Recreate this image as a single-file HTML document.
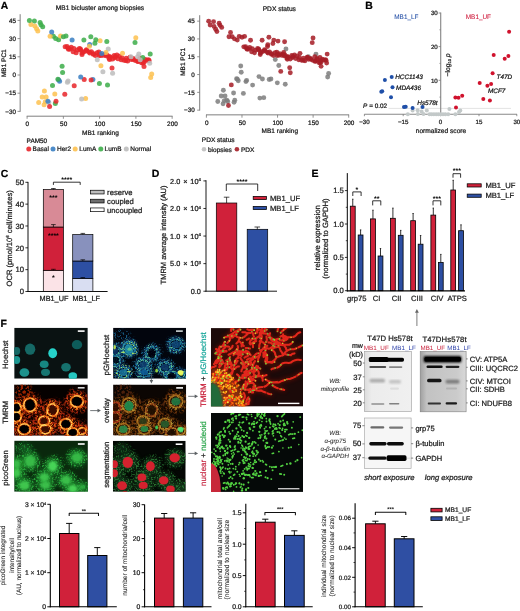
<!DOCTYPE html><html><head><meta charset="utf-8"><title>Figure</title><style>html,body{margin:0;padding:0;background:#fff}svg{display:block;font-family:"Liberation Sans",sans-serif;text-rendering:geometricPrecision}</style></head><body>
<svg width="520" height="611" viewBox="0 0 520 611">
<rect width="520" height="611" fill="#fff"/>
<text x="365.30" y="9.14" font-size="10.4" text-anchor="start" fill="#000" font-weight="bold" stroke="#000" stroke-width="0.24">B</text>
<text x="394.30" y="18.70" font-size="6.4" text-anchor="start" fill="#2b55a8" stroke="#2b55a8" stroke-width="0.08">MB1_LF</text>
<text x="465.80" y="18.90" font-size="6.4" text-anchor="start" fill="#d02040" stroke="#d02040" stroke-width="0.08">MB1_UF</text>
<line x1="388.50" y1="108.40" x2="511.00" y2="108.40" stroke="#cfcfcf" stroke-width="0.6"/>
<line x1="440.70" y1="12.50" x2="440.70" y2="114.20" stroke="#888" stroke-width="1.15"/>
<line x1="438.60" y1="13.00" x2="440.60" y2="13.00" stroke="#777777" stroke-width="0.8"/>
<text x="437.80" y="15.23" font-size="6.2" text-anchor="end" fill="#1a1a1a" stroke="#1a1a1a" stroke-width="0.24">30</text>
<line x1="438.60" y1="46.60" x2="440.60" y2="46.60" stroke="#777777" stroke-width="0.8"/>
<text x="437.80" y="48.83" font-size="6.2" text-anchor="end" fill="#1a1a1a" stroke="#1a1a1a" stroke-width="0.24">20</text>
<line x1="438.60" y1="80.30" x2="440.60" y2="80.30" stroke="#777777" stroke-width="0.8"/>
<text x="437.80" y="82.53" font-size="6.2" text-anchor="end" fill="#1a1a1a" stroke="#1a1a1a" stroke-width="0.24">10</text>
<line x1="439.40" y1="97.10" x2="440.60" y2="97.10" stroke="#777777" stroke-width="0.7"/>
<line x1="439.40" y1="63.40" x2="440.60" y2="63.40" stroke="#777777" stroke-width="0.7"/>
<line x1="439.40" y1="29.80" x2="440.60" y2="29.80" stroke="#777777" stroke-width="0.7"/>
<line x1="364.30" y1="114.20" x2="517.00" y2="114.20" stroke="#888" stroke-width="1.15"/>
<line x1="364.40" y1="114.20" x2="364.40" y2="116.20" stroke="#777777" stroke-width="0.8"/>
<text x="364.40" y="123.83" font-size="6.2" text-anchor="middle" fill="#1a1a1a" stroke="#1a1a1a" stroke-width="0.24">−30</text>
<line x1="403.20" y1="114.20" x2="403.20" y2="116.20" stroke="#777777" stroke-width="0.8"/>
<text x="403.20" y="123.83" font-size="6.2" text-anchor="middle" fill="#1a1a1a" stroke="#1a1a1a" stroke-width="0.24">−15</text>
<line x1="440.60" y1="114.20" x2="440.60" y2="116.20" stroke="#777777" stroke-width="0.8"/>
<text x="440.60" y="123.83" font-size="6.2" text-anchor="middle" fill="#1a1a1a" stroke="#1a1a1a" stroke-width="0.24">0</text>
<line x1="479.00" y1="114.20" x2="479.00" y2="116.20" stroke="#777777" stroke-width="0.8"/>
<text x="479.00" y="123.83" font-size="6.2" text-anchor="middle" fill="#1a1a1a" stroke="#1a1a1a" stroke-width="0.24">15</text>
<line x1="516.80" y1="114.20" x2="516.80" y2="116.20" stroke="#777777" stroke-width="0.8"/>
<text x="520.30" y="123.83" font-size="6.2" text-anchor="end" fill="#1a1a1a" stroke="#1a1a1a" stroke-width="0.24">30</text>
<text x="441.00" y="133.29" font-size="6.65" text-anchor="middle" fill="#1a1a1a" stroke="#1a1a1a" stroke-width="0.24">normalized score</text>
<text x="0" y="2.45" font-size="6.8" text-anchor="middle" fill="#1a1a1a" transform="translate(447.50 65.00) rotate(-90)" stroke="#1a1a1a" stroke-width="0.24">−log<tspan font-size="4" dy="1.4">10</tspan><tspan dy="-1.4"> </tspan><tspan font-style="italic">p</tspan></text>
<circle cx="412.60" cy="110.50" r="2.0" fill="#c3c9c9"/>
<circle cx="407.80" cy="114.20" r="2.0" fill="#c3c9c9"/>
<circle cx="417.60" cy="110.20" r="2.0" fill="#c3c9c9"/>
<circle cx="417.80" cy="114.00" r="2.0" fill="#c3c9c9"/>
<circle cx="421.60" cy="111.40" r="2.0" fill="#c3c9c9"/>
<circle cx="423.50" cy="114.10" r="2.0" fill="#c3c9c9"/>
<circle cx="426.80" cy="110.50" r="2.0" fill="#c3c9c9"/>
<circle cx="429.50" cy="114.20" r="2.0" fill="#c3c9c9"/>
<circle cx="449.40" cy="109.00" r="2.0" fill="#c3c9c9"/>
<circle cx="460.30" cy="110.40" r="2.0" fill="#c3c9c9"/>
<circle cx="459.00" cy="112.00" r="2.0" fill="#c3c9c9"/>
<circle cx="455.40" cy="114.20" r="2.0" fill="#c3c9c9"/>
<circle cx="448.20" cy="114.20" r="2.0" fill="#c3c9c9"/>
<circle cx="431.50" cy="114.20" r="2.0" fill="#c3c9c9"/>
<circle cx="433.80" cy="114.20" r="2.0" fill="#c3c9c9"/>
<circle cx="436.10" cy="114.20" r="2.0" fill="#c3c9c9"/>
<circle cx="438.40" cy="114.20" r="2.0" fill="#c3c9c9"/>
<circle cx="440.70" cy="114.20" r="2.0" fill="#c3c9c9"/>
<circle cx="443.00" cy="114.20" r="2.0" fill="#c3c9c9"/>
<circle cx="445.30" cy="114.20" r="2.0" fill="#c3c9c9"/>
<circle cx="391.70" cy="77.00" r="2.0" fill="#1f4fa8"/>
<circle cx="384.90" cy="79.90" r="2.0" fill="#1f4fa8"/>
<circle cx="392.50" cy="87.20" r="2.0" fill="#1f4fa8"/>
<circle cx="381.30" cy="91.70" r="2.0" fill="#1f4fa8"/>
<circle cx="382.20" cy="91.30" r="2.0" fill="#1f4fa8"/>
<circle cx="391.00" cy="97.20" r="2.0" fill="#1f4fa8"/>
<circle cx="404.00" cy="107.10" r="2.0" fill="#1f4fa8"/>
<circle cx="405.70" cy="106.70" r="2.0" fill="#1f4fa8"/>
<circle cx="412.60" cy="107.90" r="2.0" fill="#1f4fa8"/>
<circle cx="422.50" cy="107.10" r="2.0" fill="#1f4fa8"/>
<circle cx="509.10" cy="31.70" r="2.0" fill="#d0122d"/>
<circle cx="493.70" cy="55.00" r="2.0" fill="#d0122d"/>
<circle cx="504.70" cy="58.80" r="2.0" fill="#d0122d"/>
<circle cx="508.40" cy="55.90" r="2.0" fill="#d0122d"/>
<circle cx="492.60" cy="73.20" r="2.0" fill="#d0122d"/>
<circle cx="479.70" cy="83.00" r="2.0" fill="#d0122d"/>
<circle cx="487.40" cy="85.80" r="2.0" fill="#d0122d"/>
<circle cx="491.10" cy="84.10" r="2.0" fill="#d0122d"/>
<circle cx="455.40" cy="97.40" r="2.0" fill="#d0122d"/>
<circle cx="458.50" cy="97.70" r="2.0" fill="#d0122d"/>
<circle cx="462.20" cy="95.80" r="2.0" fill="#d0122d"/>
<circle cx="483.30" cy="99.10" r="2.0" fill="#d0122d"/>
<circle cx="489.90" cy="100.50" r="2.0" fill="#d0122d"/>
<circle cx="456.00" cy="107.40" r="2.0" fill="#d0122d"/>
<text x="395.20" y="79.10" font-size="6.4" text-anchor="start" fill="#1a1a1a" font-style="italic" stroke="#1a1a1a" stroke-width="0.24">HCC1143</text>
<text x="396.10" y="89.60" font-size="6.4" text-anchor="start" fill="#1a1a1a" font-style="italic" stroke="#1a1a1a" stroke-width="0.24">MDA436</text>
<text x="417.30" y="105.00" font-size="6.4" text-anchor="start" fill="#1a1a1a" font-style="italic" stroke="#1a1a1a" stroke-width="0.24">Hs578t</text>
<text x="363.10" y="108.10" font-size="6.4" text-anchor="start" fill="#1a1a1a" stroke="#1a1a1a" stroke-width="0.24"><tspan font-style="italic">P</tspan> = 0.02</text>
<text x="496.60" y="78.90" font-size="6.4" text-anchor="start" fill="#1a1a1a" font-style="italic" stroke="#1a1a1a" stroke-width="0.24">T47D</text>
<text x="488.00" y="93.30" font-size="6.4" text-anchor="start" fill="#1a1a1a" font-style="italic" stroke="#1a1a1a" stroke-width="0.24">MCF7</text>
<text x="0.80" y="9.21" font-size="10.3" text-anchor="start" fill="#000" font-weight="bold" stroke="#000" stroke-width="0.24">A</text>
<text x="100.00" y="10.49" font-size="6.63" text-anchor="middle" fill="#1a1a1a" stroke="#1a1a1a" stroke-width="0.24">MB1 bicluster among biopsies</text>
<line x1="20.15" y1="14.20" x2="20.15" y2="111.80" stroke="#777777" stroke-width="0.95"/>
<line x1="17.50" y1="20.40" x2="20.15" y2="20.40" stroke="#777777" stroke-width="0.8"/>
<text x="16.00" y="22.67" font-size="6.3" text-anchor="end" fill="#1a1a1a" stroke="#1a1a1a" stroke-width="0.24">45</text>
<line x1="17.50" y1="38.60" x2="20.15" y2="38.60" stroke="#777777" stroke-width="0.8"/>
<text x="16.00" y="40.87" font-size="6.3" text-anchor="end" fill="#1a1a1a" stroke="#1a1a1a" stroke-width="0.24">30</text>
<line x1="17.50" y1="56.80" x2="20.15" y2="56.80" stroke="#777777" stroke-width="0.8"/>
<text x="16.00" y="59.07" font-size="6.3" text-anchor="end" fill="#1a1a1a" stroke="#1a1a1a" stroke-width="0.24">15</text>
<line x1="17.50" y1="75.00" x2="20.15" y2="75.00" stroke="#777777" stroke-width="0.8"/>
<text x="16.00" y="77.27" font-size="6.3" text-anchor="end" fill="#1a1a1a" stroke="#1a1a1a" stroke-width="0.24">0</text>
<line x1="17.50" y1="93.20" x2="20.15" y2="93.20" stroke="#777777" stroke-width="0.8"/>
<text x="16.00" y="95.47" font-size="6.3" text-anchor="end" fill="#1a1a1a" stroke="#1a1a1a" stroke-width="0.24">−15</text>
<line x1="17.50" y1="111.40" x2="20.15" y2="111.40" stroke="#777777" stroke-width="0.8"/>
<text x="16.00" y="113.67" font-size="6.3" text-anchor="end" fill="#1a1a1a" stroke="#1a1a1a" stroke-width="0.24">−30</text>
<line x1="26.70" y1="116.20" x2="172.55" y2="116.20" stroke="#777777" stroke-width="0.95"/>
<line x1="27.10" y1="116.20" x2="27.10" y2="118.80" stroke="#777777" stroke-width="0.8"/>
<text x="27.40" y="126.20" font-size="6.4" text-anchor="middle" fill="#1a1a1a" stroke="#1a1a1a" stroke-width="0.24">0</text>
<line x1="63.36" y1="116.20" x2="63.36" y2="118.80" stroke="#777777" stroke-width="0.8"/>
<text x="63.66" y="126.20" font-size="6.4" text-anchor="middle" fill="#1a1a1a" stroke="#1a1a1a" stroke-width="0.24">50</text>
<line x1="99.60" y1="116.20" x2="99.60" y2="118.80" stroke="#777777" stroke-width="0.8"/>
<text x="99.90" y="126.20" font-size="6.4" text-anchor="middle" fill="#1a1a1a" stroke="#1a1a1a" stroke-width="0.24">100</text>
<line x1="135.90" y1="116.20" x2="135.90" y2="118.80" stroke="#777777" stroke-width="0.8"/>
<text x="136.20" y="126.20" font-size="6.4" text-anchor="middle" fill="#1a1a1a" stroke="#1a1a1a" stroke-width="0.24">150</text>
<line x1="172.15" y1="116.20" x2="172.15" y2="118.80" stroke="#777777" stroke-width="0.8"/>
<text x="172.45" y="126.20" font-size="6.4" text-anchor="middle" fill="#1a1a1a" stroke="#1a1a1a" stroke-width="0.24">200</text>
<text x="0" y="2.34" font-size="6.5" text-anchor="middle" fill="#1a1a1a" transform="translate(3.30 63.20) rotate(-90)" stroke="#1a1a1a" stroke-width="0.24">MB1 PC1</text>
<text x="100.40" y="134.96" font-size="6.55" text-anchor="middle" fill="#1a1a1a" stroke="#1a1a1a" stroke-width="0.24">MB1 ranking</text>
<g fill-opacity="0.86">
<circle cx="80.45" cy="49.93" r="2.5" fill="#e8262b"/>
<circle cx="44.40" cy="91.00" r="2.5" fill="#fdc150"/>
<circle cx="68.60" cy="49.15" r="2.5" fill="#e8262b"/>
<circle cx="115.34" cy="56.62" r="2.5" fill="#e8262b"/>
<circle cx="101.07" cy="55.38" r="2.5" fill="#e8262b"/>
<circle cx="64.80" cy="94.30" r="2.5" fill="#e8262b"/>
<circle cx="105.18" cy="54.14" r="2.5" fill="#e8262b"/>
<circle cx="45.30" cy="101.70" r="2.5" fill="#fdc150"/>
<circle cx="94.90" cy="43.20" r="2.5" fill="#3eae4a"/>
<circle cx="84.20" cy="79.60" r="2.5" fill="#e8262b"/>
<circle cx="82.00" cy="54.60" r="2.5" fill="#e8262b"/>
<circle cx="46.10" cy="97.00" r="2.5" fill="#fdc150"/>
<circle cx="71.23" cy="47.33" r="2.5" fill="#e8262b"/>
<circle cx="44.10" cy="104.80" r="2.5" fill="#fdc150"/>
<circle cx="109.65" cy="56.77" r="2.5" fill="#e8262b"/>
<circle cx="109.60" cy="59.40" r="2.5" fill="#e8262b"/>
<circle cx="148.41" cy="59.86" r="2.5" fill="#e8262b"/>
<circle cx="34.90" cy="25.90" r="2.5" fill="#fdc150"/>
<circle cx="65.18" cy="46.66" r="2.5" fill="#e8262b"/>
<circle cx="53.40" cy="36.30" r="2.5" fill="#3eae4a"/>
<circle cx="110.21" cy="57.07" r="2.5" fill="#e8262b"/>
<circle cx="126.20" cy="58.16" r="2.5" fill="#e8262b"/>
<circle cx="89.87" cy="53.08" r="2.5" fill="#e8262b"/>
<circle cx="48.80" cy="102.60" r="2.5" fill="#bdbdbd"/>
<circle cx="99.97" cy="54.23" r="2.5" fill="#e8262b"/>
<circle cx="89.70" cy="44.60" r="2.5" fill="#3a7fc3"/>
<circle cx="58.60" cy="39.80" r="2.5" fill="#3eae4a"/>
<circle cx="139.92" cy="58.47" r="2.5" fill="#e8262b"/>
<circle cx="69.87" cy="48.96" r="2.5" fill="#e8262b"/>
<circle cx="55.30" cy="103.40" r="2.5" fill="#3eae4a"/>
<circle cx="79.36" cy="48.44" r="2.5" fill="#e8262b"/>
<circle cx="135.46" cy="60.50" r="2.5" fill="#e8262b"/>
<circle cx="76.13" cy="52.77" r="2.5" fill="#e8262b"/>
<circle cx="107.24" cy="55.25" r="2.5" fill="#e8262b"/>
<circle cx="100.10" cy="40.80" r="2.5" fill="#fdc150"/>
<circle cx="95.80" cy="39.80" r="2.5" fill="#3eae4a"/>
<circle cx="92.90" cy="79.60" r="2.5" fill="#3a7fc3"/>
<circle cx="85.60" cy="98.60" r="2.5" fill="#fdc150"/>
<circle cx="86.39" cy="49.69" r="2.5" fill="#e8262b"/>
<circle cx="116.90" cy="55.01" r="2.5" fill="#e8262b"/>
<circle cx="135.80" cy="37.70" r="2.5" fill="#fdc150"/>
<circle cx="40.10" cy="22.50" r="2.5" fill="#3eae4a"/>
<circle cx="83.90" cy="39.90" r="2.5" fill="#3eae4a"/>
<circle cx="100.90" cy="65.70" r="2.5" fill="#fdc150"/>
<circle cx="98.86" cy="52.04" r="2.5" fill="#e8262b"/>
<circle cx="42.70" cy="26.80" r="2.5" fill="#3eae4a"/>
<circle cx="77.34" cy="50.00" r="2.5" fill="#e8262b"/>
<circle cx="68.10" cy="81.00" r="2.5" fill="#bdbdbd"/>
<circle cx="129.92" cy="57.78" r="2.5" fill="#e8262b"/>
<circle cx="124.09" cy="60.34" r="2.5" fill="#e8262b"/>
<circle cx="74.20" cy="85.80" r="2.5" fill="#e8262b"/>
<circle cx="60.50" cy="36.00" r="2.5" fill="#fdc150"/>
<circle cx="125.87" cy="60.53" r="2.5" fill="#e8262b"/>
<circle cx="102.90" cy="71.80" r="2.5" fill="#bdbdbd"/>
<circle cx="99.40" cy="83.50" r="2.5" fill="#3eae4a"/>
<circle cx="54.80" cy="93.90" r="2.5" fill="#fdc150"/>
<circle cx="86.81" cy="50.53" r="2.5" fill="#e8262b"/>
<circle cx="81.60" cy="99.10" r="2.5" fill="#bdbdbd"/>
<circle cx="59.60" cy="81.30" r="2.5" fill="#3a7fc3"/>
<circle cx="72.10" cy="39.90" r="2.5" fill="#3a7fc3"/>
<circle cx="121.20" cy="59.80" r="2.5" fill="#e8262b"/>
<circle cx="36.60" cy="28.70" r="2.5" fill="#fdc150"/>
<circle cx="34.40" cy="20.90" r="2.5" fill="#3eae4a"/>
<circle cx="109.01" cy="58.18" r="2.5" fill="#e8262b"/>
<circle cx="97.11" cy="52.67" r="2.5" fill="#e8262b"/>
<circle cx="30.90" cy="24.40" r="2.5" fill="#fdc150"/>
<circle cx="112.00" cy="68.00" r="2.5" fill="#e8262b"/>
<circle cx="55.70" cy="38.50" r="2.5" fill="#3eae4a"/>
<circle cx="133.51" cy="59.38" r="2.5" fill="#e8262b"/>
<circle cx="29.40" cy="20.40" r="2.5" fill="#3eae4a"/>
<circle cx="112.56" cy="59.03" r="2.5" fill="#e8262b"/>
<circle cx="63.40" cy="36.80" r="2.5" fill="#3eae4a"/>
<circle cx="38.70" cy="102.60" r="2.5" fill="#fdc150"/>
<circle cx="68.16" cy="48.31" r="2.5" fill="#e8262b"/>
<circle cx="56.00" cy="101.20" r="2.5" fill="#e8262b"/>
<circle cx="47.90" cy="101.20" r="2.5" fill="#3a7fc3"/>
<circle cx="66.00" cy="36.00" r="2.5" fill="#3eae4a"/>
<circle cx="133.26" cy="58.50" r="2.5" fill="#e8262b"/>
<circle cx="103.68" cy="55.29" r="2.5" fill="#e8262b"/>
<circle cx="58.60" cy="79.70" r="2.5" fill="#3a7fc3"/>
<circle cx="62.10" cy="66.20" r="2.5" fill="#3eae4a"/>
<circle cx="114.69" cy="57.63" r="2.5" fill="#e8262b"/>
<circle cx="67.07" cy="46.55" r="2.5" fill="#e8262b"/>
<circle cx="57.90" cy="79.20" r="2.5" fill="#3eae4a"/>
<circle cx="73.92" cy="48.50" r="2.5" fill="#e8262b"/>
<circle cx="146.88" cy="60.20" r="2.5" fill="#e8262b"/>
<circle cx="42.20" cy="96.90" r="2.5" fill="#fdc150"/>
<circle cx="114.18" cy="55.47" r="2.5" fill="#e8262b"/>
<circle cx="112.60" cy="73.20" r="2.5" fill="#bdbdbd"/>
<circle cx="90.80" cy="36.80" r="2.5" fill="#3eae4a"/>
<circle cx="50.10" cy="36.30" r="2.5" fill="#fdc150"/>
<circle cx="52.50" cy="85.60" r="2.5" fill="#3eae4a"/>
<circle cx="91.10" cy="80.10" r="2.5" fill="#e8262b"/>
<circle cx="95.45" cy="55.57" r="2.5" fill="#e8262b"/>
<circle cx="83.13" cy="51.95" r="2.5" fill="#e8262b"/>
<circle cx="106.80" cy="41.50" r="2.5" fill="#3eae4a"/>
<circle cx="62.60" cy="72.60" r="2.5" fill="#3eae4a"/>
<circle cx="93.33" cy="54.27" r="2.5" fill="#e8262b"/>
<circle cx="80.46" cy="49.00" r="2.5" fill="#e8262b"/>
<circle cx="137.82" cy="61.56" r="2.5" fill="#e8262b"/>
<circle cx="82.06" cy="53.04" r="2.5" fill="#e8262b"/>
<circle cx="144.00" cy="66.60" r="2.5" fill="#e8262b"/>
<circle cx="149.10" cy="60.51" r="2.5" fill="#e8262b"/>
<circle cx="150.70" cy="77.50" r="2.5" fill="#fdc150"/>
<circle cx="106.15" cy="55.82" r="2.5" fill="#e8262b"/>
<circle cx="99.15" cy="55.54" r="2.5" fill="#e8262b"/>
<circle cx="142.87" cy="62.98" r="2.5" fill="#e8262b"/>
<circle cx="121.95" cy="57.64" r="2.5" fill="#e8262b"/>
<circle cx="130.02" cy="57.36" r="2.5" fill="#e8262b"/>
<circle cx="49.60" cy="106.60" r="2.5" fill="#e8262b"/>
<circle cx="89.22" cy="52.12" r="2.5" fill="#e8262b"/>
<circle cx="67.40" cy="82.20" r="2.5" fill="#bdbdbd"/>
<circle cx="127.65" cy="60.93" r="2.5" fill="#e8262b"/>
<circle cx="73.16" cy="51.63" r="2.5" fill="#e8262b"/>
<circle cx="145.31" cy="59.43" r="2.5" fill="#e8262b"/>
<circle cx="91.42" cy="51.79" r="2.5" fill="#e8262b"/>
<circle cx="131.32" cy="59.38" r="2.5" fill="#e8262b"/>
<circle cx="138.33" cy="61.25" r="2.5" fill="#e8262b"/>
<circle cx="41.00" cy="24.70" r="2.5" fill="#3eae4a"/>
<circle cx="93.64" cy="53.64" r="2.5" fill="#e8262b"/>
<circle cx="144.09" cy="62.29" r="2.5" fill="#e8262b"/>
<circle cx="141.62" cy="62.67" r="2.5" fill="#e8262b"/>
<circle cx="135.00" cy="42.40" r="2.5" fill="#3eae4a"/>
<circle cx="107.50" cy="84.90" r="2.5" fill="#3eae4a"/>
<circle cx="80.70" cy="77.10" r="2.5" fill="#3a7fc3"/>
<circle cx="118.01" cy="58.71" r="2.5" fill="#e8262b"/>
<circle cx="37.80" cy="31.10" r="2.5" fill="#fdc150"/>
<circle cx="119.43" cy="56.14" r="2.5" fill="#e8262b"/>
<circle cx="85.25" cy="51.17" r="2.5" fill="#e8262b"/>
<circle cx="151.70" cy="74.00" r="2.5" fill="#fdc150"/>
<circle cx="143.31" cy="60.89" r="2.5" fill="#e8262b"/>
<circle cx="51.70" cy="32.00" r="2.5" fill="#3a7fc3"/>
<circle cx="122.50" cy="53.30" r="2.5" fill="#fdc150"/>
<circle cx="149.70" cy="63.30" r="2.5" fill="#bdbdbd"/>
<circle cx="108.20" cy="48.90" r="2.5" fill="#bdbdbd"/>
<circle cx="138.80" cy="54.10" r="2.5" fill="#bdbdbd"/>
<circle cx="150.20" cy="54.10" r="2.5" fill="#3eae4a"/>
<circle cx="105.90" cy="52.40" r="2.5" fill="#fdc150"/>
<circle cx="142.80" cy="57.60" r="2.5" fill="#3eae4a"/>
<circle cx="101.80" cy="53.60" r="2.5" fill="#3a7fc3"/>
<circle cx="140.20" cy="59.80" r="2.5" fill="#bdbdbd"/>
<circle cx="131.00" cy="56.70" r="2.5" fill="#bdbdbd"/>
<circle cx="89.40" cy="46.30" r="2.5" fill="#fdc150"/>
<circle cx="97.30" cy="59.70" r="2.5" fill="#bdbdbd"/>
<circle cx="137.60" cy="56.70" r="2.5" fill="#bdbdbd"/>
</g>
<text x="26.60" y="142.90" font-size="6.4" text-anchor="start" fill="#1a1a1a" stroke="#1a1a1a" stroke-width="0.24">PAM50</text>
<circle cx="28.80" cy="148.90" r="2.5" fill="#e8262b" fill-opacity="0.9"/>
<text x="32.60" y="151.34" font-size="6.5" text-anchor="start" fill="#1a1a1a" stroke="#1a1a1a" stroke-width="0.24">Basal</text>
<circle cx="53.00" cy="148.90" r="2.5" fill="#3a7fc3" fill-opacity="0.9"/>
<text x="57.00" y="151.34" font-size="6.5" text-anchor="start" fill="#1a1a1a" stroke="#1a1a1a" stroke-width="0.24">Her2</text>
<circle cx="75.20" cy="148.90" r="2.5" fill="#fdc150" fill-opacity="0.9"/>
<text x="79.30" y="151.34" font-size="6.5" text-anchor="start" fill="#1a1a1a" stroke="#1a1a1a" stroke-width="0.24">LumA</text>
<circle cx="100.80" cy="148.90" r="2.5" fill="#3eae4a" fill-opacity="0.9"/>
<text x="104.60" y="151.34" font-size="6.5" text-anchor="start" fill="#1a1a1a" stroke="#1a1a1a" stroke-width="0.24">LumB</text>
<circle cx="126.30" cy="148.90" r="2.5" fill="#bdbdbd" fill-opacity="0.9"/>
<text x="130.20" y="151.34" font-size="6.5" text-anchor="start" fill="#1a1a1a" stroke="#1a1a1a" stroke-width="0.24">Normal</text>
<text x="279.30" y="10.59" font-size="6.65" text-anchor="middle" fill="#1a1a1a" stroke="#1a1a1a" stroke-width="0.24">PDX status</text>
<line x1="199.70" y1="15.20" x2="199.70" y2="110.55" stroke="#777777" stroke-width="0.95"/>
<line x1="197.20" y1="21.15" x2="199.70" y2="21.15" stroke="#777777" stroke-width="0.8"/>
<text x="194.80" y="23.42" font-size="6.3" text-anchor="end" fill="#1a1a1a" stroke="#1a1a1a" stroke-width="0.24">45</text>
<line x1="197.20" y1="38.95" x2="199.70" y2="38.95" stroke="#777777" stroke-width="0.8"/>
<text x="194.80" y="41.22" font-size="6.3" text-anchor="end" fill="#1a1a1a" stroke="#1a1a1a" stroke-width="0.24">30</text>
<line x1="197.20" y1="56.75" x2="199.70" y2="56.75" stroke="#777777" stroke-width="0.8"/>
<text x="194.80" y="59.02" font-size="6.3" text-anchor="end" fill="#1a1a1a" stroke="#1a1a1a" stroke-width="0.24">15</text>
<line x1="197.20" y1="74.55" x2="199.70" y2="74.55" stroke="#777777" stroke-width="0.8"/>
<text x="194.80" y="76.82" font-size="6.3" text-anchor="end" fill="#1a1a1a" stroke="#1a1a1a" stroke-width="0.24">0</text>
<line x1="197.20" y1="92.35" x2="199.70" y2="92.35" stroke="#777777" stroke-width="0.8"/>
<text x="194.80" y="94.62" font-size="6.3" text-anchor="end" fill="#1a1a1a" stroke="#1a1a1a" stroke-width="0.24">−15</text>
<line x1="197.20" y1="110.15" x2="199.70" y2="110.15" stroke="#777777" stroke-width="0.8"/>
<text x="194.80" y="112.42" font-size="6.3" text-anchor="end" fill="#1a1a1a" stroke="#1a1a1a" stroke-width="0.24">−30</text>
<line x1="206.00" y1="114.85" x2="349.10" y2="114.85" stroke="#777777" stroke-width="0.95"/>
<line x1="206.40" y1="114.85" x2="206.40" y2="117.70" stroke="#777777" stroke-width="0.8"/>
<text x="206.70" y="124.80" font-size="6.4" text-anchor="middle" fill="#1a1a1a" stroke="#1a1a1a" stroke-width="0.24">0</text>
<line x1="241.98" y1="114.85" x2="241.98" y2="117.70" stroke="#777777" stroke-width="0.8"/>
<text x="242.28" y="124.80" font-size="6.4" text-anchor="middle" fill="#1a1a1a" stroke="#1a1a1a" stroke-width="0.24">50</text>
<line x1="277.55" y1="114.85" x2="277.55" y2="117.70" stroke="#777777" stroke-width="0.8"/>
<text x="277.85" y="124.80" font-size="6.4" text-anchor="middle" fill="#1a1a1a" stroke="#1a1a1a" stroke-width="0.24">100</text>
<line x1="313.12" y1="114.85" x2="313.12" y2="117.70" stroke="#777777" stroke-width="0.8"/>
<text x="313.43" y="124.80" font-size="6.4" text-anchor="middle" fill="#1a1a1a" stroke="#1a1a1a" stroke-width="0.24">150</text>
<line x1="348.70" y1="114.85" x2="348.70" y2="117.70" stroke="#777777" stroke-width="0.8"/>
<text x="349.00" y="124.80" font-size="6.4" text-anchor="middle" fill="#1a1a1a" stroke="#1a1a1a" stroke-width="0.24">200</text>
<text x="0" y="2.34" font-size="6.5" text-anchor="middle" fill="#1a1a1a" transform="translate(182.40 61.90) rotate(-90)" stroke="#1a1a1a" stroke-width="0.24">MB1 PC1</text>
<text x="279.80" y="133.14" font-size="6.5" text-anchor="middle" fill="#1a1a1a" stroke="#1a1a1a" stroke-width="0.24">MB1 ranking</text>
<g fill-opacity="0.86">
<circle cx="223.37" cy="90.20" r="2.45" fill="#7e7e7e"/>
<circle cx="243.38" cy="93.42" r="2.45" fill="#7e7e7e"/>
<circle cx="224.25" cy="100.66" r="2.45" fill="#7e7e7e"/>
<circle cx="262.42" cy="79.05" r="2.45" fill="#7e7e7e"/>
<circle cx="225.04" cy="96.06" r="2.45" fill="#7e7e7e"/>
<circle cx="223.08" cy="103.69" r="2.45" fill="#7e7e7e"/>
<circle cx="227.69" cy="101.54" r="2.45" fill="#7e7e7e"/>
<circle cx="234.06" cy="102.32" r="2.45" fill="#7e7e7e"/>
<circle cx="270.95" cy="79.05" r="2.45" fill="#7e7e7e"/>
<circle cx="263.79" cy="97.63" r="2.45" fill="#7e7e7e"/>
<circle cx="278.80" cy="65.45" r="2.45" fill="#7e7e7e"/>
<circle cx="246.62" cy="80.42" r="2.45" fill="#7e7e7e"/>
<circle cx="252.61" cy="85.11" r="2.45" fill="#7e7e7e"/>
<circle cx="277.33" cy="82.86" r="2.45" fill="#7e7e7e"/>
<circle cx="233.57" cy="93.03" r="2.45" fill="#7e7e7e"/>
<circle cx="259.86" cy="98.12" r="2.45" fill="#7e7e7e"/>
<circle cx="238.28" cy="80.71" r="2.45" fill="#7e7e7e"/>
<circle cx="217.78" cy="101.54" r="2.45" fill="#7e7e7e"/>
<circle cx="234.75" cy="100.17" r="2.45" fill="#7e7e7e"/>
<circle cx="226.80" cy="100.17" r="2.45" fill="#7e7e7e"/>
<circle cx="237.30" cy="79.15" r="2.45" fill="#7e7e7e"/>
<circle cx="240.74" cy="65.94" r="2.45" fill="#7e7e7e"/>
<circle cx="236.61" cy="78.66" r="2.45" fill="#7e7e7e"/>
<circle cx="221.21" cy="95.97" r="2.45" fill="#7e7e7e"/>
<circle cx="269.18" cy="79.54" r="2.45" fill="#7e7e7e"/>
<circle cx="241.23" cy="72.20" r="2.45" fill="#7e7e7e"/>
<circle cx="327.65" cy="76.99" r="2.45" fill="#7e7e7e"/>
<circle cx="245.93" cy="81.59" r="2.45" fill="#7e7e7e"/>
<circle cx="285.27" cy="84.23" r="2.45" fill="#7e7e7e"/>
<circle cx="258.98" cy="76.60" r="2.45" fill="#7e7e7e"/>
<circle cx="328.63" cy="73.57" r="2.45" fill="#7e7e7e"/>
<circle cx="285.96" cy="49.02" r="2.45" fill="#7e7e7e"/>
<circle cx="315.98" cy="54.11" r="2.45" fill="#7e7e7e"/>
<circle cx="308.33" cy="56.65" r="2.45" fill="#7e7e7e"/>
<circle cx="275.27" cy="59.59" r="2.45" fill="#7e7e7e"/>
<circle cx="258.73" cy="50.03" r="2.45" fill="#a51d26"/>
<circle cx="247.12" cy="49.27" r="2.45" fill="#a51d26"/>
<circle cx="292.96" cy="56.57" r="2.45" fill="#a51d26"/>
<circle cx="278.97" cy="55.36" r="2.45" fill="#a51d26"/>
<circle cx="282.99" cy="54.15" r="2.45" fill="#a51d26"/>
<circle cx="272.91" cy="43.45" r="2.45" fill="#a51d26"/>
<circle cx="260.26" cy="54.60" r="2.45" fill="#a51d26"/>
<circle cx="249.69" cy="47.49" r="2.45" fill="#a51d26"/>
<circle cx="287.38" cy="56.72" r="2.45" fill="#a51d26"/>
<circle cx="287.33" cy="59.29" r="2.45" fill="#a51d26"/>
<circle cx="325.41" cy="59.75" r="2.45" fill="#a51d26"/>
<circle cx="214.05" cy="26.53" r="2.45" fill="#a51d26"/>
<circle cx="243.76" cy="46.83" r="2.45" fill="#a51d26"/>
<circle cx="232.20" cy="36.70" r="2.45" fill="#a51d26"/>
<circle cx="287.93" cy="57.01" r="2.45" fill="#a51d26"/>
<circle cx="303.62" cy="58.08" r="2.45" fill="#a51d26"/>
<circle cx="267.97" cy="53.11" r="2.45" fill="#a51d26"/>
<circle cx="277.89" cy="54.23" r="2.45" fill="#a51d26"/>
<circle cx="267.81" cy="44.82" r="2.45" fill="#a51d26"/>
<circle cx="237.30" cy="40.12" r="2.45" fill="#a51d26"/>
<circle cx="317.07" cy="58.38" r="2.45" fill="#a51d26"/>
<circle cx="248.35" cy="49.08" r="2.45" fill="#a51d26"/>
<circle cx="257.66" cy="48.57" r="2.45" fill="#a51d26"/>
<circle cx="312.71" cy="60.37" r="2.45" fill="#a51d26"/>
<circle cx="254.50" cy="52.81" r="2.45" fill="#a51d26"/>
<circle cx="285.02" cy="55.23" r="2.45" fill="#a51d26"/>
<circle cx="278.01" cy="41.10" r="2.45" fill="#a51d26"/>
<circle cx="273.79" cy="40.12" r="2.45" fill="#a51d26"/>
<circle cx="264.56" cy="49.79" r="2.45" fill="#a51d26"/>
<circle cx="294.50" cy="55.00" r="2.45" fill="#a51d26"/>
<circle cx="313.03" cy="38.07" r="2.45" fill="#a51d26"/>
<circle cx="219.15" cy="23.20" r="2.45" fill="#a51d26"/>
<circle cx="262.12" cy="40.22" r="2.45" fill="#a51d26"/>
<circle cx="276.80" cy="52.10" r="2.45" fill="#a51d26"/>
<circle cx="221.70" cy="27.41" r="2.45" fill="#a51d26"/>
<circle cx="255.68" cy="50.09" r="2.45" fill="#a51d26"/>
<circle cx="307.26" cy="57.71" r="2.45" fill="#a51d26"/>
<circle cx="301.55" cy="60.21" r="2.45" fill="#a51d26"/>
<circle cx="239.17" cy="36.41" r="2.45" fill="#a51d26"/>
<circle cx="303.30" cy="60.39" r="2.45" fill="#a51d26"/>
<circle cx="280.76" cy="71.42" r="2.45" fill="#a51d26"/>
<circle cx="264.97" cy="50.62" r="2.45" fill="#a51d26"/>
<circle cx="250.54" cy="40.22" r="2.45" fill="#a51d26"/>
<circle cx="298.72" cy="59.68" r="2.45" fill="#a51d26"/>
<circle cx="215.72" cy="29.27" r="2.45" fill="#a51d26"/>
<circle cx="213.56" cy="21.64" r="2.45" fill="#a51d26"/>
<circle cx="286.76" cy="58.10" r="2.45" fill="#a51d26"/>
<circle cx="275.08" cy="52.71" r="2.45" fill="#a51d26"/>
<circle cx="210.13" cy="25.06" r="2.45" fill="#a51d26"/>
<circle cx="289.69" cy="67.70" r="2.45" fill="#a51d26"/>
<circle cx="234.46" cy="38.85" r="2.45" fill="#a51d26"/>
<circle cx="310.79" cy="59.28" r="2.45" fill="#a51d26"/>
<circle cx="208.66" cy="21.15" r="2.45" fill="#a51d26"/>
<circle cx="290.24" cy="58.93" r="2.45" fill="#a51d26"/>
<circle cx="242.01" cy="37.19" r="2.45" fill="#a51d26"/>
<circle cx="246.68" cy="48.45" r="2.45" fill="#a51d26"/>
<circle cx="244.56" cy="36.41" r="2.45" fill="#a51d26"/>
<circle cx="310.54" cy="58.41" r="2.45" fill="#a51d26"/>
<circle cx="281.52" cy="55.28" r="2.45" fill="#a51d26"/>
<circle cx="292.33" cy="57.56" r="2.45" fill="#a51d26"/>
<circle cx="245.61" cy="46.73" r="2.45" fill="#a51d26"/>
<circle cx="252.33" cy="48.63" r="2.45" fill="#a51d26"/>
<circle cx="323.90" cy="60.08" r="2.45" fill="#a51d26"/>
<circle cx="291.82" cy="55.45" r="2.45" fill="#a51d26"/>
<circle cx="290.28" cy="72.79" r="2.45" fill="#a51d26"/>
<circle cx="268.89" cy="37.19" r="2.45" fill="#a51d26"/>
<circle cx="228.96" cy="36.70" r="2.45" fill="#a51d26"/>
<circle cx="231.32" cy="84.92" r="2.45" fill="#a51d26"/>
<circle cx="273.45" cy="55.54" r="2.45" fill="#a51d26"/>
<circle cx="261.36" cy="52.00" r="2.45" fill="#a51d26"/>
<circle cx="284.59" cy="41.79" r="2.45" fill="#a51d26"/>
<circle cx="271.37" cy="54.27" r="2.45" fill="#a51d26"/>
<circle cx="258.75" cy="49.13" r="2.45" fill="#a51d26"/>
<circle cx="315.01" cy="61.41" r="2.45" fill="#a51d26"/>
<circle cx="260.31" cy="53.07" r="2.45" fill="#a51d26"/>
<circle cx="321.08" cy="66.33" r="2.45" fill="#a51d26"/>
<circle cx="326.08" cy="60.38" r="2.45" fill="#a51d26"/>
<circle cx="283.95" cy="55.79" r="2.45" fill="#a51d26"/>
<circle cx="277.08" cy="55.52" r="2.45" fill="#a51d26"/>
<circle cx="319.97" cy="62.79" r="2.45" fill="#a51d26"/>
<circle cx="299.44" cy="57.57" r="2.45" fill="#a51d26"/>
<circle cx="307.37" cy="57.30" r="2.45" fill="#a51d26"/>
<circle cx="228.47" cy="105.45" r="2.45" fill="#a51d26"/>
<circle cx="267.34" cy="52.18" r="2.45" fill="#a51d26"/>
<circle cx="305.04" cy="60.79" r="2.45" fill="#a51d26"/>
<circle cx="251.59" cy="51.69" r="2.45" fill="#a51d26"/>
<circle cx="322.37" cy="59.32" r="2.45" fill="#a51d26"/>
<circle cx="269.49" cy="51.85" r="2.45" fill="#a51d26"/>
<circle cx="308.64" cy="59.27" r="2.45" fill="#a51d26"/>
<circle cx="315.51" cy="61.10" r="2.45" fill="#a51d26"/>
<circle cx="220.04" cy="25.36" r="2.45" fill="#a51d26"/>
<circle cx="271.68" cy="53.66" r="2.45" fill="#a51d26"/>
<circle cx="321.16" cy="62.12" r="2.45" fill="#a51d26"/>
<circle cx="318.74" cy="62.49" r="2.45" fill="#a51d26"/>
<circle cx="312.25" cy="42.67" r="2.45" fill="#a51d26"/>
<circle cx="295.58" cy="58.62" r="2.45" fill="#a51d26"/>
<circle cx="216.90" cy="31.61" r="2.45" fill="#a51d26"/>
<circle cx="296.98" cy="56.10" r="2.45" fill="#a51d26"/>
<circle cx="263.45" cy="51.24" r="2.45" fill="#a51d26"/>
<circle cx="320.40" cy="60.75" r="2.45" fill="#a51d26"/>
<circle cx="230.53" cy="32.49" r="2.45" fill="#a51d26"/>
<circle cx="299.99" cy="53.33" r="2.45" fill="#a51d26"/>
<circle cx="326.67" cy="63.11" r="2.45" fill="#a51d26"/>
<circle cx="327.16" cy="54.11" r="2.45" fill="#a51d26"/>
<circle cx="283.70" cy="52.45" r="2.45" fill="#a51d26"/>
<circle cx="319.90" cy="57.53" r="2.45" fill="#a51d26"/>
<circle cx="279.68" cy="53.62" r="2.45" fill="#a51d26"/>
<circle cx="317.35" cy="59.68" r="2.45" fill="#a51d26"/>
<circle cx="267.52" cy="46.48" r="2.45" fill="#a51d26"/>
<circle cx="314.80" cy="56.65" r="2.45" fill="#a51d26"/>
</g>
<text x="201.80" y="142.26" font-size="6.55" text-anchor="start" fill="#1a1a1a" stroke="#1a1a1a" stroke-width="0.24">PDX status</text>
<circle cx="204.00" cy="149.20" r="2.3" fill="#c4c4c4"/>
<text x="208.00" y="151.54" font-size="6.5" text-anchor="start" fill="#1a1a1a" stroke="#1a1a1a" stroke-width="0.24">biopsies</text>
<circle cx="236.90" cy="149.20" r="2.3" fill="#a51d26" fill-opacity="0.9"/>
<text x="241.00" y="151.54" font-size="6.5" text-anchor="start" fill="#1a1a1a" stroke="#1a1a1a" stroke-width="0.24">PDX</text>
<text x="0.70" y="177.24" font-size="10.4" text-anchor="start" fill="#000" font-weight="bold" stroke="#000" stroke-width="0.24">C</text>
<rect x="43.30" y="270.30" width="20.20" height="21.20" fill="#fbe3e7" stroke="#000" stroke-width="0.7"/>
<rect x="43.30" y="227.00" width="20.20" height="43.30" fill="#d0213a" stroke="#000" stroke-width="0.7"/>
<rect x="43.30" y="189.50" width="20.20" height="37.50" fill="#d88a96" stroke="#000" stroke-width="0.7"/>
<rect x="72.70" y="278.40" width="20.20" height="13.10" fill="#d9def2" stroke="#000" stroke-width="0.7"/>
<rect x="72.70" y="261.00" width="20.20" height="17.40" fill="#2d4fa3" stroke="#000" stroke-width="0.7"/>
<rect x="72.70" y="234.50" width="20.20" height="26.50" fill="#8891bd" stroke="#000" stroke-width="0.7"/>
<line x1="53.40" y1="189.50" x2="53.40" y2="188.50" stroke="#000" stroke-width="0.7"/>
<line x1="51.10" y1="188.50" x2="55.70" y2="188.50" stroke="#000" stroke-width="0.7"/>
<line x1="53.40" y1="227.00" x2="53.40" y2="224.60" stroke="#000" stroke-width="0.7"/>
<line x1="51.10" y1="224.60" x2="55.70" y2="224.60" stroke="#000" stroke-width="0.7"/>
<line x1="53.40" y1="270.30" x2="53.40" y2="269.30" stroke="#000" stroke-width="0.7"/>
<line x1="51.10" y1="269.30" x2="55.70" y2="269.30" stroke="#000" stroke-width="0.7"/>
<line x1="82.80" y1="234.50" x2="82.80" y2="233.40" stroke="#000" stroke-width="0.7"/>
<line x1="80.50" y1="233.40" x2="85.10" y2="233.40" stroke="#000" stroke-width="0.7"/>
<line x1="82.80" y1="261.00" x2="82.80" y2="259.80" stroke="#000" stroke-width="0.7"/>
<line x1="80.50" y1="259.80" x2="85.10" y2="259.80" stroke="#000" stroke-width="0.7"/>
<line x1="82.80" y1="278.40" x2="82.80" y2="277.60" stroke="#000" stroke-width="0.7"/>
<line x1="80.50" y1="277.60" x2="85.10" y2="277.60" stroke="#000" stroke-width="0.7"/>
<text x="53.40" y="199.92" font-size="7.0" text-anchor="middle" fill="#000" font-weight="bold" stroke="none">***</text>
<text x="53.40" y="237.62" font-size="7.0" text-anchor="middle" fill="#000" font-weight="bold" stroke="none">****</text>
<text x="53.40" y="279.92" font-size="7.0" text-anchor="middle" fill="#000" font-weight="bold" stroke="none">*</text>
<line x1="28.00" y1="181.90" x2="28.00" y2="292.00" stroke="#111" stroke-width="1.0"/>
<line x1="25.40" y1="182.30" x2="28.00" y2="182.30" stroke="#000" stroke-width="0.8"/>
<text x="24.00" y="185.07" font-size="7.7" text-anchor="end" fill="#1a1a1a" stroke="#1a1a1a" stroke-width="0.24">50</text>
<line x1="25.40" y1="204.14" x2="28.00" y2="204.14" stroke="#000" stroke-width="0.8"/>
<text x="24.00" y="206.91" font-size="7.7" text-anchor="end" fill="#1a1a1a" stroke="#1a1a1a" stroke-width="0.24">40</text>
<line x1="25.40" y1="225.98" x2="28.00" y2="225.98" stroke="#000" stroke-width="0.8"/>
<text x="24.00" y="228.75" font-size="7.7" text-anchor="end" fill="#1a1a1a" stroke="#1a1a1a" stroke-width="0.24">30</text>
<line x1="25.40" y1="247.82" x2="28.00" y2="247.82" stroke="#000" stroke-width="0.8"/>
<text x="24.00" y="250.59" font-size="7.7" text-anchor="end" fill="#1a1a1a" stroke="#1a1a1a" stroke-width="0.24">20</text>
<line x1="25.40" y1="269.66" x2="28.00" y2="269.66" stroke="#000" stroke-width="0.8"/>
<text x="24.00" y="272.43" font-size="7.7" text-anchor="end" fill="#1a1a1a" stroke="#1a1a1a" stroke-width="0.24">10</text>
<line x1="25.40" y1="291.50" x2="28.00" y2="291.50" stroke="#000" stroke-width="0.8"/>
<text x="24.00" y="294.27" font-size="7.7" text-anchor="end" fill="#1a1a1a" stroke="#1a1a1a" stroke-width="0.24">0</text>
<line x1="27.50" y1="291.50" x2="107.60" y2="291.50" stroke="#111" stroke-width="1.0"/>
<text x="54.00" y="300.93" font-size="7.3" text-anchor="middle" fill="#1a1a1a" stroke="#1a1a1a" stroke-width="0.24">MB1_UF</text>
<text x="86.20" y="300.93" font-size="7.3" text-anchor="middle" fill="#1a1a1a" stroke="#1a1a1a" stroke-width="0.24">MB1_LF</text>
<text x="0" y="2.75" font-size="7.65" text-anchor="middle" fill="#1a1a1a" transform="translate(8.80 238.40) rotate(-90)" stroke="#1a1a1a" stroke-width="0.24">OCR (pmol/10<tspan font-size="4.4" dy="-2.4">6</tspan><tspan dy="2.4"> cell/minutes)</tspan></text>
<path d="M53.40 184.90V182.20H80.20V184.90" fill="none" stroke="#111" stroke-width="0.85" stroke-linejoin="round"/>
<text x="66.80" y="182.42" font-size="7.0" text-anchor="middle" fill="#000" font-weight="bold" stroke="none">****</text>
<rect x="90.50" y="190.25" width="13.60" height="3.70" fill="#bdbdbd" stroke="#000" stroke-width="0.7"/>
<text x="107.10" y="194.85" font-size="7.65" text-anchor="start" fill="#1a1a1a" stroke="#1a1a1a" stroke-width="0.24">reserve</text>
<rect x="90.50" y="199.25" width="13.60" height="3.70" fill="#6e6e6e" stroke="#000" stroke-width="0.7"/>
<text x="107.10" y="203.85" font-size="7.65" text-anchor="start" fill="#1a1a1a" stroke="#1a1a1a" stroke-width="0.24">coupled</text>
<rect x="90.50" y="207.95" width="13.60" height="3.70" fill="#ffffff" stroke="#000" stroke-width="0.7"/>
<text x="107.10" y="212.55" font-size="7.65" text-anchor="start" fill="#1a1a1a" stroke="#1a1a1a" stroke-width="0.24">uncoupled</text>
<text x="151.80" y="177.28" font-size="10.5" text-anchor="start" fill="#000" font-weight="bold" stroke="#000" stroke-width="0.24">D</text>
<rect x="216.30" y="203.00" width="20.50" height="88.20" fill="#d0213a" stroke="#000" stroke-width="0.7"/>
<rect x="247.20" y="229.30" width="20.50" height="61.90" fill="#2d4fa3" stroke="#000" stroke-width="0.7"/>
<line x1="226.60" y1="203.00" x2="226.60" y2="197.20" stroke="#000" stroke-width="0.7"/>
<line x1="223.80" y1="197.20" x2="229.40" y2="197.20" stroke="#000" stroke-width="0.7"/>
<line x1="257.30" y1="229.30" x2="257.30" y2="227.00" stroke="#000" stroke-width="0.7"/>
<line x1="254.50" y1="227.00" x2="260.10" y2="227.00" stroke="#000" stroke-width="0.7"/>
<line x1="206.00" y1="180.20" x2="206.00" y2="291.60" stroke="#000" stroke-width="0.9"/>
<line x1="203.40" y1="180.90" x2="206.00" y2="180.90" stroke="#000" stroke-width="0.8"/>
<text x="200.90" y="183.53" font-size="7.3" text-anchor="end" fill="#1a1a1a" word-spacing="0.9" stroke="#1a1a1a" stroke-width="0.24">2.0 × 10<tspan font-size="4.3" dy="-2.4">4</tspan></text>
<line x1="203.40" y1="208.48" x2="206.00" y2="208.48" stroke="#000" stroke-width="0.8"/>
<text x="200.90" y="211.11" font-size="7.3" text-anchor="end" fill="#1a1a1a" word-spacing="0.9" stroke="#1a1a1a" stroke-width="0.24">2.0 × 10<tspan font-size="4.3" dy="-2.4">4</tspan></text>
<line x1="203.40" y1="236.06" x2="206.00" y2="236.06" stroke="#000" stroke-width="0.8"/>
<text x="200.90" y="238.69" font-size="7.3" text-anchor="end" fill="#1a1a1a" word-spacing="0.9" stroke="#1a1a1a" stroke-width="0.24">1.0 × 10<tspan font-size="4.3" dy="-2.4">4</tspan></text>
<line x1="203.40" y1="263.64" x2="206.00" y2="263.64" stroke="#000" stroke-width="0.8"/>
<text x="200.90" y="266.27" font-size="7.3" text-anchor="end" fill="#1a1a1a" word-spacing="0.9" stroke="#1a1a1a" stroke-width="0.24">5.0 × 10<tspan font-size="4.3" dy="-2.4">3</tspan></text>
<line x1="203.40" y1="291.22" x2="206.00" y2="291.22" stroke="#000" stroke-width="0.8"/>
<text x="200.90" y="293.85" font-size="7.3" text-anchor="end" fill="#1a1a1a" word-spacing="0.9" stroke="#1a1a1a" stroke-width="0.24">0.0</text>
<line x1="205.60" y1="291.20" x2="277.00" y2="291.20" stroke="#000" stroke-width="0.9"/>
<path d="M226.30 191.00V184.00H257.70V191.00" fill="none" stroke="#111" stroke-width="0.85" stroke-linejoin="round"/>
<text x="242.00" y="183.92" font-size="7.0" text-anchor="middle" fill="#000" font-weight="bold" stroke="none">****</text>
<rect x="253.20" y="196.40" width="13.20" height="3.20" fill="#d0213a" stroke="#000" stroke-width="0.75"/>
<text x="270.00" y="200.75" font-size="7.65" text-anchor="start" fill="#1a1a1a" stroke="#1a1a1a" stroke-width="0.24">MB1_UF</text>
<rect x="253.20" y="206.40" width="13.20" height="3.20" fill="#2d4fa3" stroke="#000" stroke-width="0.75"/>
<text x="270.00" y="210.75" font-size="7.65" text-anchor="start" fill="#1a1a1a" stroke="#1a1a1a" stroke-width="0.24">MB1_LF</text>
<text x="0" y="2.70" font-size="7.5" text-anchor="middle" fill="#1a1a1a" transform="translate(163.20 235.00) rotate(-90)" stroke="#1a1a1a" stroke-width="0.24">TMRM average intensity (AU)</text>
<text x="311.50" y="177.08" font-size="10.5" text-anchor="start" fill="#000" font-weight="bold" stroke="#000" stroke-width="0.24">E</text>
<line x1="352.75" y1="199.20" x2="352.75" y2="206.20" stroke="#111" stroke-width="0.85"/>
<line x1="352.05" y1="199.20" x2="353.45" y2="199.20" stroke="#111" stroke-width="0.8"/>
<rect x="350.30" y="206.20" width="4.90" height="84.50" fill="#d0213a" stroke="#000" stroke-width="0.8"/>
<line x1="360.60" y1="229.90" x2="360.60" y2="235.00" stroke="#111" stroke-width="0.85"/>
<line x1="359.90" y1="229.90" x2="361.30" y2="229.90" stroke="#111" stroke-width="0.8"/>
<rect x="358.20" y="235.00" width="4.80" height="55.70" fill="#2d4fa3" stroke="#000" stroke-width="0.8"/>
<line x1="372.95" y1="210.20" x2="372.95" y2="218.90" stroke="#111" stroke-width="0.85"/>
<line x1="372.25" y1="210.20" x2="373.65" y2="210.20" stroke="#111" stroke-width="0.8"/>
<rect x="370.50" y="218.90" width="4.90" height="71.80" fill="#d0213a" stroke="#000" stroke-width="0.8"/>
<line x1="380.50" y1="248.50" x2="380.50" y2="256.00" stroke="#111" stroke-width="0.85"/>
<line x1="379.80" y1="248.50" x2="381.20" y2="248.50" stroke="#111" stroke-width="0.8"/>
<rect x="378.10" y="256.00" width="4.80" height="34.70" fill="#2d4fa3" stroke="#000" stroke-width="0.8"/>
<line x1="392.90" y1="208.10" x2="392.90" y2="218.30" stroke="#111" stroke-width="0.85"/>
<line x1="392.20" y1="208.10" x2="393.60" y2="208.10" stroke="#111" stroke-width="0.8"/>
<rect x="390.50" y="218.30" width="4.80" height="72.40" fill="#d0213a" stroke="#000" stroke-width="0.8"/>
<line x1="400.70" y1="230.40" x2="400.70" y2="235.30" stroke="#111" stroke-width="0.85"/>
<line x1="400.00" y1="230.40" x2="401.40" y2="230.40" stroke="#111" stroke-width="0.8"/>
<rect x="398.30" y="235.30" width="4.80" height="55.40" fill="#2d4fa3" stroke="#000" stroke-width="0.8"/>
<line x1="413.10" y1="213.50" x2="413.10" y2="220.70" stroke="#111" stroke-width="0.85"/>
<line x1="412.40" y1="213.50" x2="413.80" y2="213.50" stroke="#111" stroke-width="0.8"/>
<rect x="410.70" y="220.70" width="4.80" height="70.00" fill="#d0213a" stroke="#000" stroke-width="0.8"/>
<line x1="420.60" y1="235.50" x2="420.60" y2="244.20" stroke="#111" stroke-width="0.85"/>
<line x1="419.90" y1="235.50" x2="421.30" y2="235.50" stroke="#111" stroke-width="0.8"/>
<rect x="418.20" y="244.20" width="4.80" height="46.50" fill="#2d4fa3" stroke="#000" stroke-width="0.8"/>
<line x1="433.30" y1="208.10" x2="433.30" y2="215.10" stroke="#111" stroke-width="0.85"/>
<line x1="432.60" y1="208.10" x2="434.00" y2="208.10" stroke="#111" stroke-width="0.8"/>
<rect x="430.90" y="215.10" width="4.80" height="75.60" fill="#d0213a" stroke="#000" stroke-width="0.8"/>
<line x1="440.80" y1="254.40" x2="440.80" y2="262.50" stroke="#111" stroke-width="0.85"/>
<line x1="440.10" y1="254.40" x2="441.50" y2="254.40" stroke="#111" stroke-width="0.8"/>
<rect x="438.40" y="262.50" width="4.80" height="28.20" fill="#2d4fa3" stroke="#000" stroke-width="0.8"/>
<line x1="453.20" y1="180.30" x2="453.20" y2="190.00" stroke="#111" stroke-width="0.85"/>
<line x1="452.50" y1="180.30" x2="453.90" y2="180.30" stroke="#111" stroke-width="0.8"/>
<rect x="450.80" y="190.00" width="4.80" height="100.70" fill="#d0213a" stroke="#000" stroke-width="0.8"/>
<line x1="461.00" y1="224.80" x2="461.00" y2="230.70" stroke="#111" stroke-width="0.85"/>
<line x1="460.30" y1="224.80" x2="461.70" y2="224.80" stroke="#111" stroke-width="0.8"/>
<rect x="458.60" y="230.70" width="4.80" height="60.00" fill="#2d4fa3" stroke="#000" stroke-width="0.8"/>
<line x1="347.30" y1="173.10" x2="347.30" y2="291.40" stroke="#000" stroke-width="1.0"/>
<line x1="344.90" y1="190.60" x2="347.30" y2="190.60" stroke="#000" stroke-width="0.8"/>
<text x="343.90" y="193.37" font-size="7.7" text-anchor="end" fill="#1a1a1a" stroke="#1a1a1a" stroke-width="0.24">1.5</text>
<line x1="344.90" y1="224.00" x2="347.30" y2="224.00" stroke="#000" stroke-width="0.8"/>
<text x="343.90" y="226.77" font-size="7.7" text-anchor="end" fill="#1a1a1a" stroke="#1a1a1a" stroke-width="0.24">1.0</text>
<line x1="344.90" y1="257.40" x2="347.30" y2="257.40" stroke="#000" stroke-width="0.8"/>
<text x="343.90" y="260.17" font-size="7.7" text-anchor="end" fill="#1a1a1a" stroke="#1a1a1a" stroke-width="0.24">0.5</text>
<line x1="344.90" y1="290.70" x2="347.30" y2="290.70" stroke="#000" stroke-width="0.8"/>
<text x="343.90" y="293.47" font-size="7.7" text-anchor="end" fill="#1a1a1a" stroke="#1a1a1a" stroke-width="0.24">0.0</text>
<line x1="346.80" y1="290.90" x2="465.00" y2="290.90" stroke="#000" stroke-width="1.1"/>
<line x1="345.80" y1="274.10" x2="347.30" y2="274.10" stroke="#000" stroke-width="0.7"/>
<line x1="345.80" y1="240.70" x2="347.30" y2="240.70" stroke="#000" stroke-width="0.7"/>
<line x1="345.80" y1="207.30" x2="347.30" y2="207.30" stroke="#000" stroke-width="0.7"/>
<text x="356.70" y="301.24" font-size="7.6" text-anchor="middle" fill="#1a1a1a" stroke="#1a1a1a" stroke-width="0.24">grp75</text>
<text x="376.60" y="301.24" font-size="7.6" text-anchor="middle" fill="#1a1a1a" stroke="#1a1a1a" stroke-width="0.24">CI</text>
<text x="396.60" y="301.24" font-size="7.6" text-anchor="middle" fill="#1a1a1a" stroke="#1a1a1a" stroke-width="0.24">CII</text>
<text x="417.00" y="301.24" font-size="7.6" text-anchor="middle" fill="#1a1a1a" stroke="#1a1a1a" stroke-width="0.24">CIII</text>
<text x="437.00" y="301.24" font-size="7.6" text-anchor="middle" fill="#1a1a1a" stroke="#1a1a1a" stroke-width="0.24">CIV</text>
<text x="457.20" y="301.24" font-size="7.6" text-anchor="middle" fill="#1a1a1a" stroke="#1a1a1a" stroke-width="0.24">ATPS</text>
<path d="M352.80 196.00V191.90H361.10V196.00" fill="none" stroke="#111" stroke-width="0.85" stroke-linejoin="round"/>
<text x="356.95" y="191.72" font-size="7.0" text-anchor="middle" fill="#000" font-weight="bold" stroke="none">*</text>
<path d="M372.70 205.40V200.80H380.80V205.40" fill="none" stroke="#111" stroke-width="0.85" stroke-linejoin="round"/>
<text x="376.75" y="201.32" font-size="7.0" text-anchor="middle" fill="#000" font-weight="bold" stroke="none">**</text>
<path d="M433.00 205.40V200.80H440.80V205.40" fill="none" stroke="#111" stroke-width="0.85" stroke-linejoin="round"/>
<text x="436.90" y="201.32" font-size="7.0" text-anchor="middle" fill="#000" font-weight="bold" stroke="none">***</text>
<path d="M453.00 177.70V173.70H460.60V177.70" fill="none" stroke="#111" stroke-width="0.85" stroke-linejoin="round"/>
<text x="456.80" y="173.42" font-size="7.0" text-anchor="middle" fill="#000" font-weight="bold" stroke="none">***</text>
<rect x="467.20" y="183.80" width="14.00" height="3.20" fill="#d0213a" stroke="#000" stroke-width="0.75"/>
<text x="485.40" y="188.15" font-size="7.65" text-anchor="start" fill="#1a1a1a" stroke="#1a1a1a" stroke-width="0.24">MB1_UF</text>
<rect x="467.20" y="194.10" width="14.00" height="3.20" fill="#2d4fa3" stroke="#000" stroke-width="0.75"/>
<text x="485.40" y="198.45" font-size="7.65" text-anchor="start" fill="#1a1a1a" stroke="#1a1a1a" stroke-width="0.24">MB1_LF</text>
<text x="0" y="2.81" font-size="7.8" text-anchor="middle" fill="#1a1a1a" transform="translate(317.30 237.70) rotate(-90)" stroke="#1a1a1a" stroke-width="0.24">relative expression</text>
<text x="0" y="2.75" font-size="7.65" text-anchor="middle" fill="#1a1a1a" transform="translate(325.00 238.50) rotate(-90)" stroke="#1a1a1a" stroke-width="0.24">(normalized to GAPDH)</text>
<line x1="416.90" y1="311.50" x2="416.90" y2="326.00" stroke="#666" stroke-width="0.85"/>
<path d="M416.9 309 L418.8 312.8 L415 312.8Z" fill="#666"/>
<defs><filter id="b03" x="-20%" y="-20%" width="140%" height="140%"><feGaussianBlur stdDeviation="0.35"/></filter><filter id="b06" x="-20%" y="-20%" width="140%" height="140%"><feGaussianBlur stdDeviation="0.6"/></filter><filter id="b1" x="-30%" y="-30%" width="160%" height="160%"><feGaussianBlur stdDeviation="1.1"/></filter><filter id="b2" x="-40%" y="-40%" width="180%" height="180%"><feGaussianBlur stdDeviation="2.2"/></filter><filter id="wob" x="-10%" y="-10%" width="120%" height="120%"><feTurbulence type="fractalNoise" baseFrequency="0.25" numOctaves="2" seed="9" result="d"/><feDisplacementMap in="SourceGraphic" in2="d" scale="1.8" xChannelSelector="R" yChannelSelector="G" result="w"/><feGaussianBlur in="w" stdDeviation="0.45"/></filter><filter id="spk" x="0" y="0" width="100%" height="100%"><feTurbulence type="fractalNoise" baseFrequency="0.42" numOctaves="3" seed="4" result="n"/><feColorMatrix in="n" type="matrix" values="0 0 0 0 0  0 0 0 0 0  0 0 0 0 0  4.2 0 0 0 -1.75" result="m"/><feGaussianBlur in="SourceGraphic" stdDeviation="1.5" result="s"/><feTurbulence type="fractalNoise" baseFrequency="0.09" numOctaves="2" seed="7" result="d"/><feDisplacementMap in="s" in2="d" scale="8" xChannelSelector="R" yChannelSelector="G" result="sd"/><feComposite in="sd" in2="m" operator="in"/></filter><filter id="spk2" x="0" y="0" width="100%" height="100%"><feTurbulence type="fractalNoise" baseFrequency="0.6" numOctaves="2" seed="11" result="n"/><feColorMatrix in="n" type="matrix" values="0 0 0 0 0  0 0 0 0 0  0 0 0 0 0  0 5 0 0 -2.45" result="m"/><feGaussianBlur in="SourceGraphic" stdDeviation="1.2" result="s"/><feTurbulence type="fractalNoise" baseFrequency="0.09" numOctaves="2" seed="13" result="d"/><feDisplacementMap in="s" in2="d" scale="7" xChannelSelector="R" yChannelSelector="G" result="sd"/><feComposite in="sd" in2="m" operator="in"/></filter><filter id="spk3" x="0" y="0" width="100%" height="100%"><feTurbulence type="fractalNoise" baseFrequency="0.62" numOctaves="2" seed="23" result="n"/><feColorMatrix in="n" type="matrix" values="0 0 0 0 0  0 0 0 0 0  0 0 0 0 0  0 0 7 0 -3.75" result="m"/><feGaussianBlur in="SourceGraphic" stdDeviation="0.9" result="s"/><feTurbulence type="fractalNoise" baseFrequency="0.09" numOctaves="2" seed="19" result="d"/><feDisplacementMap in="s" in2="d" scale="6" xChannelSelector="R" yChannelSelector="G" result="sd"/><feComposite in="sd" in2="m" operator="in"/></filter></defs>
<text x="0.50" y="327.04" font-size="10.4" text-anchor="start" fill="#000" font-weight="bold" stroke="#000" stroke-width="0.24">F</text>
<svg x="14.2" y="327.7" width="73.6" height="51" viewBox="0 0 73.6 51" overflow="hidden"><rect width="73.6" height="51" fill="#0a1212"/>
<g filter="url(#b06)">
<ellipse cx="15.90" cy="21.50" rx="5.20" ry="5.60" fill="#126865"/>
<ellipse cx="38.50" cy="25.50" rx="4.40" ry="5.00" fill="#28d3cb"/>
<ellipse cx="62.80" cy="17.00" rx="5.20" ry="4.60" fill="#105c5a"/>
<ellipse cx="2.40" cy="23.40" rx="3.60" ry="4.00" fill="#126865"/>
<ellipse cx="2.40" cy="32.40" rx="3.60" ry="4.00" fill="#1b9691"/>
<ellipse cx="30.00" cy="36.60" rx="4.40" ry="3.80" fill="#188782"/>
<ellipse cx="51.80" cy="39.60" rx="4.80" ry="4.20" fill="#14716d"/>
<ellipse cx="10.20" cy="44.80" rx="4.90" ry="4.30" fill="#1b928d"/>
<ellipse cx="31.30" cy="44.60" rx="4.50" ry="3.60" fill="#157471"/>
<ellipse cx="58.60" cy="48.20" rx="4.30" ry="3.60" fill="#26c8c1"/>
</g>
<rect x="63.60" y="2.6" width="6.8" height="1.6" fill="#fff"/>
</svg>
<svg x="14.1" y="384.4" width="73.7" height="51.3" viewBox="0 0 73.7 51.3" overflow="hidden"><rect width="73.7" height="51.3" fill="#060100"/>
<g filter="url(#b2)" opacity="0.5">
<ellipse cx="15.90" cy="20.50" rx="10.20" ry="9.60" fill="#7a1604"/>
<ellipse cx="38.50" cy="25.50" rx="9.40" ry="9.00" fill="#7a1604"/>
<ellipse cx="62.80" cy="17.00" rx="10.20" ry="8.60" fill="#7a1604"/>
<ellipse cx="2.40" cy="23.40" rx="8.60" ry="8.00" fill="#7a1604"/>
<ellipse cx="2.40" cy="32.40" rx="8.60" ry="8.00" fill="#7a1604"/>
<ellipse cx="30.00" cy="36.60" rx="9.40" ry="7.80" fill="#7a1604"/>
<ellipse cx="51.80" cy="39.60" rx="9.80" ry="8.20" fill="#7a1604"/>
<ellipse cx="10.20" cy="44.80" rx="9.90" ry="8.30" fill="#7a1604"/>
<ellipse cx="31.30" cy="44.60" rx="9.50" ry="7.60" fill="#7a1604"/>
<ellipse cx="58.60" cy="48.20" rx="9.30" ry="7.60" fill="#7a1604"/>
<ellipse cx="68.00" cy="46.50" rx="7.60" ry="6.20" fill="#7a1604"/>
</g>
<g filter="url(#spk)">
<ellipse cx="15.90" cy="20.50" rx="12.70" ry="12.10" fill="#b82c08"/>
<ellipse cx="38.50" cy="25.50" rx="11.90" ry="11.50" fill="#b82c08"/>
<ellipse cx="62.80" cy="17.00" rx="12.70" ry="11.10" fill="#b82c08"/>
<ellipse cx="2.40" cy="23.40" rx="11.10" ry="10.50" fill="#b82c08"/>
<ellipse cx="2.40" cy="32.40" rx="11.10" ry="10.50" fill="#b82c08"/>
<ellipse cx="30.00" cy="36.60" rx="11.90" ry="10.30" fill="#b82c08"/>
<ellipse cx="51.80" cy="39.60" rx="12.30" ry="10.70" fill="#b82c08"/>
<ellipse cx="10.20" cy="44.80" rx="12.40" ry="10.80" fill="#b82c08"/>
<ellipse cx="31.30" cy="44.60" rx="12.00" ry="10.10" fill="#b82c08"/>
<ellipse cx="58.60" cy="48.20" rx="11.80" ry="10.10" fill="#b82c08"/>
<ellipse cx="68.00" cy="46.50" rx="10.10" ry="8.70" fill="#b82c08"/>
<ellipse cx="9.00" cy="6.00" rx="9.00" ry="7.00" fill="#9a2406"/>
</g>
<g filter="url(#spk3)">
<ellipse cx="15.90" cy="20.50" rx="9.70" ry="9.60" fill="#f47e1e"/>
<ellipse cx="38.50" cy="25.50" rx="8.90" ry="9.00" fill="#f47e1e"/>
<ellipse cx="62.80" cy="17.00" rx="9.70" ry="8.60" fill="#f47e1e"/>
<ellipse cx="2.40" cy="23.40" rx="8.10" ry="8.00" fill="#f47e1e"/>
<ellipse cx="2.40" cy="32.40" rx="8.10" ry="8.00" fill="#f47e1e"/>
<ellipse cx="30.00" cy="36.60" rx="8.90" ry="7.80" fill="#f47e1e"/>
<ellipse cx="51.80" cy="39.60" rx="9.30" ry="8.20" fill="#f47e1e"/>
<ellipse cx="10.20" cy="44.80" rx="9.40" ry="8.30" fill="#f47e1e"/>
<ellipse cx="31.30" cy="44.60" rx="9.00" ry="7.60" fill="#f47e1e"/>
<ellipse cx="58.60" cy="48.20" rx="8.80" ry="7.60" fill="#f47e1e"/>
<ellipse cx="68.00" cy="46.50" rx="7.10" ry="6.20" fill="#f47e1e"/>
</g>
<g filter="url(#wob)">
<ellipse cx="15.90" cy="20.50" rx="6.40" ry="6.80" fill="none" stroke="#ee7418" stroke-width="1.7"/>
<ellipse cx="38.50" cy="25.50" rx="5.60" ry="6.20" fill="none" stroke="#ee7418" stroke-width="1.7"/>
<ellipse cx="62.80" cy="17.00" rx="6.40" ry="5.80" fill="none" stroke="#ee7418" stroke-width="1.7"/>
<ellipse cx="2.40" cy="23.40" rx="4.80" ry="5.20" fill="none" stroke="#ee7418" stroke-width="1.7"/>
<ellipse cx="2.40" cy="32.40" rx="4.80" ry="5.20" fill="none" stroke="#ee7418" stroke-width="1.7"/>
<ellipse cx="30.00" cy="36.60" rx="5.60" ry="5.00" fill="none" stroke="#ee7418" stroke-width="1.7"/>
<ellipse cx="51.80" cy="39.60" rx="6.00" ry="5.40" fill="none" stroke="#ee7418" stroke-width="1.7"/>
<ellipse cx="10.20" cy="44.80" rx="6.10" ry="5.50" fill="none" stroke="#ee7418" stroke-width="1.7"/>
<ellipse cx="31.30" cy="44.60" rx="5.70" ry="4.80" fill="none" stroke="#ee7418" stroke-width="1.7"/>
<ellipse cx="58.60" cy="48.20" rx="5.50" ry="4.80" fill="none" stroke="#ee7418" stroke-width="1.7"/>
<ellipse cx="68.00" cy="46.50" rx="3.80" ry="3.40" fill="none" stroke="#ee7418" stroke-width="1.7"/>
<ellipse cx="15.90" cy="20.50" rx="6.20" ry="6.60" fill="none" stroke="#ffdc6a" stroke-width="1.0" stroke-dasharray="8.0 4.8 9.7 5.6" stroke-dashoffset="25.0"/>
<ellipse cx="38.50" cy="25.50" rx="5.40" ry="6.00" fill="none" stroke="#ffdc6a" stroke-width="1.0" stroke-dasharray="7.0 4.2 8.4 4.9" stroke-dashoffset="26.1"/>
<ellipse cx="62.80" cy="17.00" rx="6.20" ry="5.60" fill="none" stroke="#ffdc6a" stroke-width="1.0" stroke-dasharray="8.0 4.8 9.7 5.6" stroke-dashoffset="32.0"/>
<ellipse cx="2.40" cy="23.40" rx="4.60" ry="5.00" fill="none" stroke="#ffdc6a" stroke-width="1.0" stroke-dasharray="6.0 3.6 7.2 4.2" stroke-dashoffset="28.4"/>
<ellipse cx="2.40" cy="32.40" rx="4.60" ry="5.00" fill="none" stroke="#ffdc6a" stroke-width="1.0" stroke-dasharray="6.0 3.6 7.2 4.2" stroke-dashoffset="22.3"/>
<ellipse cx="30.00" cy="36.60" rx="5.40" ry="4.80" fill="none" stroke="#ffdc6a" stroke-width="1.0" stroke-dasharray="7.0 4.2 8.4 4.9" stroke-dashoffset="32.5"/>
<ellipse cx="51.80" cy="39.60" rx="5.80" ry="5.20" fill="none" stroke="#ffdc6a" stroke-width="1.0" stroke-dasharray="7.5 4.5 9.0 5.3" stroke-dashoffset="1.1"/>
<ellipse cx="10.20" cy="44.80" rx="5.90" ry="5.30" fill="none" stroke="#ffdc6a" stroke-width="1.0" stroke-dasharray="7.7 4.6 9.2 5.4" stroke-dashoffset="17.8"/>
<ellipse cx="31.30" cy="44.60" rx="5.50" ry="4.60" fill="none" stroke="#ffdc6a" stroke-width="1.0" stroke-dasharray="7.2 4.3 8.6 5.0" stroke-dashoffset="33.8"/>
<ellipse cx="58.60" cy="48.20" rx="5.30" ry="4.60" fill="none" stroke="#ffdc6a" stroke-width="1.0" stroke-dasharray="6.9 4.1 8.3 4.8" stroke-dashoffset="22.4"/>
<ellipse cx="68.00" cy="46.50" rx="3.60" ry="3.20" fill="none" stroke="#ffdc6a" stroke-width="1.0" stroke-dasharray="4.8 2.9 5.7 3.3" stroke-dashoffset="21.5"/>
</g><g filter="url(#b03)">
<ellipse cx="15.90" cy="20.50" rx="4.90" ry="5.30" fill="#050000"/>
<ellipse cx="38.50" cy="25.50" rx="3.50" ry="4.10" fill="#3a0a02"/>
<ellipse cx="62.80" cy="17.00" rx="4.90" ry="4.30" fill="#050000"/>
<ellipse cx="2.40" cy="23.40" rx="3.30" ry="3.70" fill="#050000"/>
<ellipse cx="2.40" cy="32.40" rx="3.30" ry="3.70" fill="#050000"/>
<ellipse cx="30.00" cy="36.60" rx="3.50" ry="2.90" fill="#3a0a02"/>
<ellipse cx="51.80" cy="39.60" rx="4.50" ry="3.90" fill="#050000"/>
<ellipse cx="10.20" cy="44.80" rx="4.60" ry="4.00" fill="#050000"/>
<ellipse cx="31.30" cy="44.60" rx="3.60" ry="2.70" fill="#3a0a02"/>
<ellipse cx="58.60" cy="48.20" rx="4.00" ry="3.30" fill="#050000"/>
<ellipse cx="68.00" cy="46.50" rx="1.70" ry="1.30" fill="#3a0a02"/>
</g>
<rect x="63.70" y="2.6" width="6.8" height="1.6" fill="#d8d8d8"/>
</svg>
<svg x="14.2" y="440.6" width="73.7" height="51.1" viewBox="0 0 73.7 51.1" overflow="hidden"><rect width="73.7" height="51.1" fill="#0a280d"/>
<g filter="url(#b2)">
<ellipse cx="15.90" cy="20.50" rx="9.70" ry="9.60" fill="#1f8f2d" opacity="0.7"/>
<ellipse cx="38.50" cy="25.50" rx="8.90" ry="9.00" fill="#1f8f2d" opacity="0.7"/>
<ellipse cx="62.80" cy="17.00" rx="9.70" ry="8.60" fill="#1f8f2d" opacity="0.7"/>
<ellipse cx="2.40" cy="23.40" rx="8.10" ry="8.00" fill="#1f8f2d" opacity="0.7"/>
<ellipse cx="2.40" cy="32.40" rx="8.10" ry="8.00" fill="#1f8f2d" opacity="0.7"/>
<ellipse cx="30.00" cy="36.60" rx="8.90" ry="7.80" fill="#1f8f2d" opacity="0.7"/>
<ellipse cx="51.80" cy="39.60" rx="9.30" ry="8.20" fill="#1f8f2d" opacity="0.7"/>
<ellipse cx="10.20" cy="44.80" rx="9.40" ry="8.30" fill="#1f8f2d" opacity="0.7"/>
<ellipse cx="31.30" cy="44.60" rx="9.00" ry="7.60" fill="#1f8f2d" opacity="0.7"/>
<ellipse cx="58.60" cy="48.20" rx="8.80" ry="7.60" fill="#1f8f2d" opacity="0.7"/>
<ellipse cx="68.00" cy="46.50" rx="7.10" ry="6.20" fill="#1f8f2d" opacity="0.7"/>
<ellipse cx="10.00" cy="8.00" rx="8.00" ry="5.00" fill="#1a7a28" opacity="0.5"/>
</g><g filter="url(#spk2)">
<ellipse cx="15.90" cy="20.50" rx="11.70" ry="11.10" fill="#27a238"/>
<ellipse cx="38.50" cy="25.50" rx="10.90" ry="10.50" fill="#27a238"/>
<ellipse cx="62.80" cy="17.00" rx="11.70" ry="10.10" fill="#27a238"/>
<ellipse cx="2.40" cy="23.40" rx="10.10" ry="9.50" fill="#27a238"/>
<ellipse cx="2.40" cy="32.40" rx="10.10" ry="9.50" fill="#27a238"/>
<ellipse cx="30.00" cy="36.60" rx="10.90" ry="9.30" fill="#27a238"/>
<ellipse cx="51.80" cy="39.60" rx="11.30" ry="9.70" fill="#27a238"/>
<ellipse cx="10.20" cy="44.80" rx="11.40" ry="9.80" fill="#27a238"/>
<ellipse cx="31.30" cy="44.60" rx="11.00" ry="9.10" fill="#27a238"/>
<ellipse cx="58.60" cy="48.20" rx="10.80" ry="9.10" fill="#27a238"/>
<ellipse cx="68.00" cy="46.50" rx="9.10" ry="7.70" fill="#27a238"/>
<ellipse cx="9.00" cy="7.00" rx="9.00" ry="6.00" fill="#1f8a30"/>
</g><g filter="url(#b1)">
<ellipse cx="15.90" cy="20.50" rx="5.40" ry="5.80" fill="#39be49" opacity="0.95"/>
<ellipse cx="38.50" cy="25.50" rx="4.60" ry="5.20" fill="#4ad858" opacity="0.95"/>
<ellipse cx="62.80" cy="17.00" rx="5.40" ry="4.80" fill="#37bb47" opacity="0.95"/>
<ellipse cx="2.40" cy="23.40" rx="3.80" ry="4.20" fill="#39be49" opacity="0.95"/>
<ellipse cx="2.40" cy="32.40" rx="3.80" ry="4.20" fill="#41ca50" opacity="0.95"/>
<ellipse cx="30.00" cy="36.60" rx="4.60" ry="4.00" fill="#3ec64e" opacity="0.95"/>
<ellipse cx="51.80" cy="39.60" rx="5.00" ry="4.40" fill="#3bc14b" opacity="0.95"/>
<ellipse cx="10.20" cy="44.80" rx="5.10" ry="4.50" fill="#40c94f" opacity="0.95"/>
<ellipse cx="31.30" cy="44.60" rx="4.70" ry="3.80" fill="#3bc14b" opacity="0.95"/>
<ellipse cx="58.60" cy="48.20" rx="4.50" ry="3.80" fill="#48d556" opacity="0.95"/>
<ellipse cx="68.00" cy="46.50" rx="2.80" ry="2.40" fill="#30b041" opacity="0.95"/>
</g>
<rect x="63.70" y="2.6" width="6.8" height="1.6" fill="#fff"/>
</svg>
<svg x="113.1" y="327.7" width="72.9" height="51" viewBox="0 0 72.9 51" overflow="hidden"><rect width="72.9" height="51" fill="#02050d"/>
<g filter="url(#b1)">
<ellipse cx="15.90" cy="20.50" rx="7.60" ry="8.00" fill="none" stroke="#0a3060" stroke-width="3.4" opacity="0.7"/>
<ellipse cx="38.50" cy="25.50" rx="6.80" ry="7.40" fill="none" stroke="#0a3060" stroke-width="3.4" opacity="0.7"/>
<ellipse cx="62.80" cy="17.00" rx="7.60" ry="7.00" fill="none" stroke="#0a3060" stroke-width="3.4" opacity="0.7"/>
<ellipse cx="2.40" cy="23.40" rx="6.00" ry="6.40" fill="none" stroke="#0a3060" stroke-width="3.4" opacity="0.7"/>
<ellipse cx="2.40" cy="32.40" rx="6.00" ry="6.40" fill="none" stroke="#0a3060" stroke-width="3.4" opacity="0.7"/>
<ellipse cx="30.00" cy="36.60" rx="6.80" ry="6.20" fill="none" stroke="#0a3060" stroke-width="3.4" opacity="0.7"/>
<ellipse cx="51.80" cy="39.60" rx="7.20" ry="6.60" fill="none" stroke="#0a3060" stroke-width="3.4" opacity="0.7"/>
<ellipse cx="10.20" cy="44.80" rx="7.30" ry="6.70" fill="none" stroke="#0a3060" stroke-width="3.4" opacity="0.7"/>
<ellipse cx="31.30" cy="44.60" rx="6.90" ry="6.00" fill="none" stroke="#0a3060" stroke-width="3.4" opacity="0.7"/>
<ellipse cx="58.60" cy="48.20" rx="6.70" ry="6.00" fill="none" stroke="#0a3060" stroke-width="3.4" opacity="0.7"/>
<ellipse cx="68.00" cy="46.50" rx="5.00" ry="4.60" fill="none" stroke="#0a3060" stroke-width="3.4" opacity="0.7"/>
<ellipse cx="16.00" cy="21.00" rx="8.00" ry="8.00" fill="#0e4a78" opacity="0.55"/>
</g><g filter="url(#spk2)">
<ellipse cx="15.90" cy="20.50" rx="10.70" ry="10.10" fill="#1c74a2"/>
<ellipse cx="38.50" cy="25.50" rx="9.90" ry="9.50" fill="#1c74a2"/>
<ellipse cx="62.80" cy="17.00" rx="10.70" ry="9.10" fill="#1c74a2"/>
<ellipse cx="2.40" cy="23.40" rx="9.10" ry="8.50" fill="#1c74a2"/>
<ellipse cx="2.40" cy="32.40" rx="9.10" ry="8.50" fill="#1c74a2"/>
<ellipse cx="30.00" cy="36.60" rx="9.90" ry="8.30" fill="#1c74a2"/>
<ellipse cx="51.80" cy="39.60" rx="10.30" ry="8.70" fill="#1c74a2"/>
<ellipse cx="10.20" cy="44.80" rx="10.40" ry="8.80" fill="#1c74a2"/>
<ellipse cx="31.30" cy="44.60" rx="10.00" ry="8.10" fill="#1c74a2"/>
<ellipse cx="58.60" cy="48.20" rx="9.80" ry="8.10" fill="#1c74a2"/>
<ellipse cx="68.00" cy="46.50" rx="8.10" ry="6.70" fill="#1c74a2"/>
<ellipse cx="8.00" cy="7.00" rx="9.00" ry="6.00" fill="#155a82"/>
</g><g filter="url(#wob)">
<ellipse cx="15.90" cy="20.50" rx="6.20" ry="6.60" fill="none" stroke="#2a98b0" stroke-width="1.3" opacity="0.8"/>
<ellipse cx="38.50" cy="25.50" rx="5.40" ry="6.00" fill="none" stroke="#1c6f96" stroke-width="1.3" opacity="0.8"/>
<ellipse cx="62.80" cy="17.00" rx="6.20" ry="5.60" fill="none" stroke="#1c6f96" stroke-width="1.3" opacity="0.8"/>
<ellipse cx="2.40" cy="23.40" rx="4.60" ry="5.00" fill="none" stroke="#1c6f96" stroke-width="1.3" opacity="0.8"/>
<ellipse cx="2.40" cy="32.40" rx="4.60" ry="5.00" fill="none" stroke="#1c6f96" stroke-width="1.3" opacity="0.8"/>
<ellipse cx="30.00" cy="36.60" rx="5.40" ry="4.80" fill="none" stroke="#1c6f96" stroke-width="1.3" opacity="0.8"/>
<ellipse cx="51.80" cy="39.60" rx="5.80" ry="5.20" fill="none" stroke="#1c6f96" stroke-width="1.3" opacity="0.8"/>
<ellipse cx="10.20" cy="44.80" rx="5.90" ry="5.30" fill="none" stroke="#2a98b0" stroke-width="1.3" opacity="0.8"/>
<ellipse cx="31.30" cy="44.60" rx="5.50" ry="4.60" fill="none" stroke="#1c6f96" stroke-width="1.3" opacity="0.8"/>
<ellipse cx="58.60" cy="48.20" rx="5.30" ry="4.60" fill="none" stroke="#1c6f96" stroke-width="1.3" opacity="0.8"/>
<ellipse cx="68.00" cy="46.50" rx="3.60" ry="3.20" fill="none" stroke="#1c6f96" stroke-width="1.3" opacity="0.8"/>
</g><g filter="url(#spk3)">
<ellipse cx="15.90" cy="20.50" rx="8.80" ry="8.80" fill="#a8e060"/>
<ellipse cx="38.50" cy="25.50" rx="8.00" ry="8.20" fill="#58b890"/>
<ellipse cx="62.80" cy="17.00" rx="8.80" ry="7.80" fill="#58b890"/>
<ellipse cx="2.40" cy="23.40" rx="7.20" ry="7.20" fill="#58b890"/>
<ellipse cx="2.40" cy="32.40" rx="7.20" ry="7.20" fill="#58b890"/>
<ellipse cx="30.00" cy="36.60" rx="8.00" ry="7.00" fill="#58b890"/>
<ellipse cx="51.80" cy="39.60" rx="8.40" ry="7.40" fill="#58b890"/>
<ellipse cx="10.20" cy="44.80" rx="8.50" ry="7.50" fill="#a8e060"/>
<ellipse cx="31.30" cy="44.60" rx="8.10" ry="6.80" fill="#58b890"/>
<ellipse cx="58.60" cy="48.20" rx="7.90" ry="6.80" fill="#58b890"/>
<ellipse cx="68.00" cy="46.50" rx="6.20" ry="5.40" fill="#58b890"/>
</g><g filter="url(#b06)">
<ellipse cx="15.90" cy="21.50" rx="4.50" ry="4.90" fill="#1c8aa8" opacity="0.9"/>
<ellipse cx="38.50" cy="25.50" rx="3.70" ry="4.30" fill="#03060e" opacity="0.9"/>
<ellipse cx="62.80" cy="17.00" rx="4.50" ry="3.90" fill="#0d4474" opacity="0.9"/>
<ellipse cx="2.40" cy="23.40" rx="2.90" ry="3.30" fill="#0a3060" opacity="0.9"/>
<ellipse cx="2.40" cy="32.40" rx="2.90" ry="3.30" fill="#050d1c" opacity="0.9"/>
<ellipse cx="30.00" cy="36.60" rx="3.70" ry="3.10" fill="#0b3e70" opacity="0.9"/>
<ellipse cx="51.80" cy="39.60" rx="4.10" ry="3.50" fill="#0a3866" opacity="0.9"/>
<ellipse cx="10.20" cy="44.80" rx="4.20" ry="3.60" fill="#17709a" opacity="0.9"/>
<ellipse cx="31.30" cy="44.60" rx="3.80" ry="2.90" fill="#0f5c98" opacity="0.9"/>
<ellipse cx="58.60" cy="48.20" rx="3.60" ry="2.90" fill="#03060e" opacity="0.9"/>
<ellipse cx="68.00" cy="46.50" rx="1.90" ry="1.50" fill="#d8f050" opacity="0.9"/>
<ellipse cx="16.50" cy="21.50" rx="2.20" ry="1.60" fill="#6fd080" opacity="0.8"/>
<ellipse cx="1.60" cy="19.50" rx="1.20" ry="2.20" fill="#c8e850" opacity="0.9"/>
<ellipse cx="43.50" cy="43.00" rx="1.40" ry="1.90" fill="#a0e040" opacity="0.9"/>
<ellipse cx="67.50" cy="44.80" rx="3.00" ry="2.20" fill="#e8f860"/>
</g>
<rect x="62.90" y="2.6" width="6.8" height="1.6" fill="#cfd6d6"/>
</svg>
<svg x="113.1" y="384.5" width="73.1" height="50.9" viewBox="0 0 73.1 50.9" overflow="hidden"><rect width="73.1" height="50.9" fill="#0c0603"/>
<g filter="url(#b2)" opacity="0.45">
<ellipse cx="15.90" cy="20.50" rx="10.20" ry="9.60" fill="#4a2008"/>
<ellipse cx="38.50" cy="25.50" rx="9.40" ry="9.00" fill="#4a2008"/>
<ellipse cx="62.80" cy="17.00" rx="10.20" ry="8.60" fill="#4a2008"/>
<ellipse cx="2.40" cy="23.40" rx="8.60" ry="8.00" fill="#4a2008"/>
<ellipse cx="2.40" cy="32.40" rx="8.60" ry="8.00" fill="#4a2008"/>
<ellipse cx="30.00" cy="36.60" rx="9.40" ry="7.80" fill="#4a2008"/>
<ellipse cx="51.80" cy="39.60" rx="9.80" ry="8.20" fill="#4a2008"/>
<ellipse cx="10.20" cy="44.80" rx="9.90" ry="8.30" fill="#4a2008"/>
<ellipse cx="31.30" cy="44.60" rx="9.50" ry="7.60" fill="#4a2008"/>
<ellipse cx="58.60" cy="48.20" rx="9.30" ry="7.60" fill="#4a2008"/>
<ellipse cx="68.00" cy="46.50" rx="7.60" ry="6.20" fill="#4a2008"/>
</g>
<g filter="url(#spk)" opacity="0.85">
<ellipse cx="15.90" cy="20.50" rx="12.70" ry="12.10" fill="#84400f"/>
<ellipse cx="38.50" cy="25.50" rx="11.90" ry="11.50" fill="#84400f"/>
<ellipse cx="62.80" cy="17.00" rx="12.70" ry="11.10" fill="#84400f"/>
<ellipse cx="2.40" cy="23.40" rx="11.10" ry="10.50" fill="#84400f"/>
<ellipse cx="2.40" cy="32.40" rx="11.10" ry="10.50" fill="#84400f"/>
<ellipse cx="30.00" cy="36.60" rx="11.90" ry="10.30" fill="#84400f"/>
<ellipse cx="51.80" cy="39.60" rx="12.30" ry="10.70" fill="#84400f"/>
<ellipse cx="10.20" cy="44.80" rx="12.40" ry="10.80" fill="#84400f"/>
<ellipse cx="31.30" cy="44.60" rx="12.00" ry="10.10" fill="#84400f"/>
<ellipse cx="58.60" cy="48.20" rx="11.80" ry="10.10" fill="#84400f"/>
<ellipse cx="68.00" cy="46.50" rx="10.10" ry="8.70" fill="#84400f"/>
<ellipse cx="10.00" cy="6.00" rx="9.00" ry="7.00" fill="#5a2808"/>
</g><g filter="url(#wob)">
<ellipse cx="15.90" cy="20.50" rx="6.70" ry="7.10" fill="none" stroke="#b4781e" stroke-width="1.7" opacity="0.8"/>
<ellipse cx="38.50" cy="25.50" rx="5.90" ry="6.50" fill="none" stroke="#a04a1a" stroke-width="1.7" opacity="0.8"/>
<ellipse cx="62.80" cy="17.00" rx="6.70" ry="6.10" fill="none" stroke="#b4781e" stroke-width="1.7" opacity="0.8"/>
<ellipse cx="2.40" cy="23.40" rx="5.10" ry="5.50" fill="none" stroke="#b8341a" stroke-width="1.7" opacity="0.8"/>
<ellipse cx="2.40" cy="32.40" rx="5.10" ry="5.50" fill="none" stroke="#b8341a" stroke-width="1.7" opacity="0.8"/>
<ellipse cx="30.00" cy="36.60" rx="5.90" ry="5.30" fill="none" stroke="#b4781e" stroke-width="1.7" opacity="0.8"/>
<ellipse cx="51.80" cy="39.60" rx="6.30" ry="5.70" fill="none" stroke="#b4781e" stroke-width="1.7" opacity="0.8"/>
<ellipse cx="10.20" cy="44.80" rx="6.40" ry="5.80" fill="none" stroke="#b4781e" stroke-width="1.7" opacity="0.8"/>
<ellipse cx="31.30" cy="44.60" rx="6.00" ry="5.10" fill="none" stroke="#b4781e" stroke-width="1.7" opacity="0.8"/>
<ellipse cx="58.60" cy="48.20" rx="5.80" ry="5.10" fill="none" stroke="#a04a1a" stroke-width="1.7" opacity="0.8"/>
<ellipse cx="68.00" cy="46.50" rx="4.10" ry="3.70" fill="none" stroke="#b4781e" stroke-width="1.7" opacity="0.8"/>
</g><g filter="url(#spk3)" opacity="0.8">
<ellipse cx="15.90" cy="20.50" rx="9.20" ry="9.10" fill="#b89a34"/>
<ellipse cx="38.50" cy="25.50" rx="8.40" ry="8.50" fill="#b89a34"/>
<ellipse cx="62.80" cy="17.00" rx="9.20" ry="8.10" fill="#b89a34"/>
<ellipse cx="2.40" cy="23.40" rx="7.60" ry="7.50" fill="#b89a34"/>
<ellipse cx="2.40" cy="32.40" rx="7.60" ry="7.50" fill="#b89a34"/>
<ellipse cx="30.00" cy="36.60" rx="8.40" ry="7.30" fill="#b89a34"/>
<ellipse cx="51.80" cy="39.60" rx="8.80" ry="7.70" fill="#b89a34"/>
<ellipse cx="10.20" cy="44.80" rx="8.90" ry="7.80" fill="#b89a34"/>
<ellipse cx="31.30" cy="44.60" rx="8.50" ry="7.10" fill="#b89a34"/>
<ellipse cx="58.60" cy="48.20" rx="8.30" ry="7.10" fill="#b89a34"/>
<ellipse cx="68.00" cy="46.50" rx="6.60" ry="5.70" fill="#b89a34"/>
</g><g filter="url(#b06)">
<ellipse cx="15.90" cy="21.50" rx="4.60" ry="5.00" fill="#1d8a4e" opacity="0.92"/>
<ellipse cx="38.50" cy="25.50" rx="3.80" ry="4.40" fill="#200b05" opacity="0.92"/>
<ellipse cx="62.80" cy="17.00" rx="4.60" ry="4.00" fill="#1f7642" opacity="0.92"/>
<ellipse cx="2.40" cy="23.40" rx="3.00" ry="3.40" fill="#300c06" opacity="0.92"/>
<ellipse cx="2.40" cy="32.40" rx="3.00" ry="3.40" fill="#300c06" opacity="0.92"/>
<ellipse cx="30.00" cy="36.60" rx="3.80" ry="3.20" fill="#2e3a16" opacity="0.92"/>
<ellipse cx="51.80" cy="39.60" rx="4.20" ry="3.60" fill="#235a2a" opacity="0.92"/>
<ellipse cx="10.20" cy="44.80" rx="4.30" ry="3.70" fill="#288846" opacity="0.92"/>
<ellipse cx="31.30" cy="44.60" rx="3.90" ry="3.00" fill="#248844" opacity="0.92"/>
<ellipse cx="58.60" cy="48.20" rx="3.70" ry="3.00" fill="#200b05" opacity="0.92"/>
<ellipse cx="68.00" cy="46.50" rx="2.00" ry="1.60" fill="#40c868" opacity="0.92"/>
<ellipse cx="43.50" cy="43.00" rx="1.50" ry="2.00" fill="#40c050"/>
<ellipse cx="67.50" cy="44.80" rx="3.00" ry="2.20" fill="#50e070"/>
</g>
<rect x="63.10" y="2.6" width="6.8" height="1.6" fill="#fff"/>
</svg>
<svg x="112.9" y="440.8" width="72.8" height="50.9" viewBox="0 0 72.8 50.9" overflow="hidden"><rect width="72.8" height="50.9" fill="#040704"/>
<g filter="url(#b2)" opacity="0.75">
<ellipse cx="15.90" cy="20.50" rx="9.70" ry="9.60" fill="#12401a"/>
<ellipse cx="38.50" cy="25.50" rx="8.90" ry="9.00" fill="#12401a"/>
<ellipse cx="62.80" cy="17.00" rx="9.70" ry="8.60" fill="#12401a"/>
<ellipse cx="2.40" cy="23.40" rx="8.10" ry="8.00" fill="#12401a"/>
<ellipse cx="2.40" cy="32.40" rx="8.10" ry="8.00" fill="#12401a"/>
<ellipse cx="30.00" cy="36.60" rx="8.90" ry="7.80" fill="#12401a"/>
<ellipse cx="51.80" cy="39.60" rx="9.30" ry="8.20" fill="#12401a"/>
<ellipse cx="10.20" cy="44.80" rx="9.40" ry="8.30" fill="#12401a"/>
<ellipse cx="31.30" cy="44.60" rx="9.00" ry="7.60" fill="#12401a"/>
<ellipse cx="58.60" cy="48.20" rx="8.80" ry="7.60" fill="#12401a"/>
<ellipse cx="68.00" cy="46.50" rx="7.10" ry="6.20" fill="#12401a"/>
<ellipse cx="9.00" cy="8.00" rx="8.00" ry="6.00" fill="#0e3014"/>
</g><g filter="url(#spk2)" opacity="0.9">
<ellipse cx="15.90" cy="20.50" rx="12.20" ry="11.60" fill="#2a7a34"/>
<ellipse cx="38.50" cy="25.50" rx="11.40" ry="11.00" fill="#2a7a34"/>
<ellipse cx="62.80" cy="17.00" rx="12.20" ry="10.60" fill="#2a7a34"/>
<ellipse cx="2.40" cy="23.40" rx="10.60" ry="10.00" fill="#2a7a34"/>
<ellipse cx="2.40" cy="32.40" rx="10.60" ry="10.00" fill="#2a7a34"/>
<ellipse cx="30.00" cy="36.60" rx="11.40" ry="9.80" fill="#2a7a34"/>
<ellipse cx="51.80" cy="39.60" rx="11.80" ry="10.20" fill="#2a7a34"/>
<ellipse cx="10.20" cy="44.80" rx="11.90" ry="10.30" fill="#2a7a34"/>
<ellipse cx="31.30" cy="44.60" rx="11.50" ry="9.60" fill="#2a7a34"/>
<ellipse cx="58.60" cy="48.20" rx="11.30" ry="9.60" fill="#2a7a34"/>
<ellipse cx="68.00" cy="46.50" rx="9.60" ry="8.20" fill="#2a7a34"/>
<ellipse cx="9.00" cy="8.00" rx="9.00" ry="7.00" fill="#1d5a26"/>
</g><g filter="url(#b03)">
<ellipse cx="14.90" cy="21.50" rx="5.20" ry="5.60" fill="#d4202e"/>
<ellipse cx="37.50" cy="25.50" rx="4.40" ry="5.00" fill="#d4202e"/>
<ellipse cx="61.80" cy="17.00" rx="5.20" ry="4.60" fill="#d4202e"/>
<ellipse cx="1.40" cy="23.40" rx="3.60" ry="4.00" fill="#d4202e"/>
<ellipse cx="1.40" cy="32.40" rx="3.60" ry="4.00" fill="#d4202e"/>
<ellipse cx="29.00" cy="36.60" rx="4.40" ry="3.80" fill="#d4202e"/>
<ellipse cx="50.80" cy="39.60" rx="4.80" ry="4.20" fill="#d4202e"/>
<ellipse cx="9.20" cy="44.80" rx="4.90" ry="4.30" fill="#d4202e"/>
<ellipse cx="30.30" cy="44.60" rx="4.50" ry="3.60" fill="#d4202e"/>
<ellipse cx="57.60" cy="48.20" rx="4.30" ry="3.60" fill="#d4202e"/>
<ellipse cx="12.00" cy="51.50" rx="2.50" ry="1.20" fill="#d4202e"/>
</g>
<rect x="62.80" y="2.6" width="6.8" height="1.6" fill="#fff"/>
</svg>
<text x="0" y="2.79" font-size="7.75" text-anchor="middle" fill="#1a1a1a" transform="translate(5.00 354.80) rotate(-90)" stroke="#1a1a1a" stroke-width="0.24">Hoechst</text>
<text x="0" y="2.77" font-size="7.7" text-anchor="middle" fill="#1a1a1a" transform="translate(5.20 412.30) rotate(-90)" stroke="#1a1a1a" stroke-width="0.24">TMRM</text>
<text x="0" y="2.77" font-size="7.7" text-anchor="middle" fill="#1a1a1a" transform="translate(4.80 468.00) rotate(-90)" stroke="#1a1a1a" stroke-width="0.24">picoGreen</text>
<text x="0" y="2.77" font-size="7.7" text-anchor="middle" fill="#1a1a1a" transform="translate(106.60 355.10) rotate(-90)" stroke="#1a1a1a" stroke-width="0.24">pG/Hoechst</text>
<text x="0" y="2.77" font-size="7.7" text-anchor="middle" fill="#1a1a1a" transform="translate(106.50 410.60) rotate(-90)" stroke="#1a1a1a" stroke-width="0.24">overlay</text>
<text x="0" y="2.76" font-size="7.68" text-anchor="middle" fill="#1a1a1a" transform="translate(106.70 464.80) rotate(-90)" stroke="#1a1a1a" stroke-width="0.24">segmentation</text>
<line x1="90.20" y1="410.60" x2="98.90" y2="410.60" stroke="#5c6164" stroke-width="0.85"/>
<path d="M100.90 410.60 L97.50 408.70 L97.50 412.50Z" fill="#5c6164"/>
<line x1="188.20" y1="396.30" x2="196.10" y2="396.30" stroke="#5c6164" stroke-width="0.85"/>
<path d="M198.10 396.30 L194.70 394.40 L194.70 398.20Z" fill="#5c6164"/>
<line x1="188.20" y1="453.40" x2="196.10" y2="453.40" stroke="#5c6164" stroke-width="0.85"/>
<path d="M198.10 453.40 L194.70 451.50 L194.70 455.30Z" fill="#5c6164"/>
<line x1="151.40" y1="373.20" x2="151.40" y2="381.00" stroke="#5c6164" stroke-width="0.8"/>
<path d="M151.4 383.4 L149.6 380 L153.2 380Z" fill="#5c6164"/>
<svg x="210.9" y="328.1" width="92.1" height="78.5" viewBox="0 0 92.1 78.5" overflow="hidden"><rect width="92.1" height="78.5" fill="#1c0a09"/>
<g filter="url(#b2)" opacity="0.55" fill="none" stroke-linecap="round"><path d="M71.7 11.5 L73.3 10.7 L74.3 10.0 L75.1 9.4 L76.2 9.2 L78.0 9.1 L80.2 9.1M82.3 8.9 L84.0 8.2 L85.2 7.1 L86.2 5.9 L87.4 4.9 L89.3 4.2M55.0 35.5 L55.7 34.7 L56.8 34.3 L58.4 34.0 L60.3 33.7M62.2 33.0 L63.5 32.1 L64.4 31.1 L65.2 29.9 L66.2 29.0 L67.8 28.4 L69.6 27.9M71.2 27.5 L72.4 27.0 L73.0 26.2 L73.6 25.1 L74.5 23.9 L76.0 22.8 L77.8 21.8 L79.5 21.1M80.9 21.1 L81.9 21.2 L82.7 21.2 L83.9 20.9 L85.5 20.2M87.5 19.3 L89.3 18.4 L90.6 17.7 L91.5 17.3M60.6 41.2 L61.4 40.6 L62.6 40.3 L64.3 40.0M66.3 39.5 L68.0 38.7 L69.2 37.8 L70.0 36.8M70.8 35.8 L72.0 35.1 L73.8 34.7 L75.9 34.7 L77.8 34.8 L79.2 34.7M80.2 34.3 L81.2 33.6 L82.4 32.8 L84.2 32.2 L86.2 31.7 L87.9 31.7 L89.1 31.8 L89.9 32.0M45.6 60.6 L46.5 59.8 L47.6 59.4 L49.2 59.2 L51.3 59.0M53.4 58.6 L55.1 57.9 L56.3 56.9 L57.3 55.8 L58.4 54.8M60.0 54.1 L62.2 54.1 L64.4 54.2 L66.3 54.4 L67.7 54.3M68.7 54.0 L70.0 53.3 L71.8 52.6 L74.0 51.9M76.0 51.2 L77.6 50.9 L78.7 50.8 L79.5 50.6 L80.7 50.2 L82.4 49.5 L84.6 48.5M86.5 47.3 L88.0 46.3 L89.0 45.5 L89.7 45.1 L90.7 44.8M61.7 57.3 L63.0 58.2 L64.7 59.3 L66.8 60.2M68.9 60.9 L70.4 61.2 L71.4 61.3 L72.2 61.5 L73.3 61.8M54.7 51.4 L55.7 52.0 L57.0 52.8 L58.9 53.7M60.9 54.3 L62.8 54.5 L64.1 54.3 L65.1 54.0 L66.1 53.8M75.1 26.3 L77.2 26.7 L78.9 26.9 L80.0 27.1M80.8 26.2 L81.9 25.6 L83.6 25.3M5.1 20.9 L6.9 21.8 L8.9 22.4 L10.8 22.8M12.1 22.8 L13.2 22.8 L14.2 22.9 L15.7 23.4M61.2 22.1 L62.5 22.9 L63.4 23.8 L64.1 24.9 L64.4 26.6 L65.2 28.6M49.5 62.6 L50.4 62.6 L51.3 63.0 L52.7 63.7 L54.6 64.4M56.7 65.3 L58.4 65.9 L59.6 66.1 L60.4 66.2M72.6 16.5 L74.0 16.6 L76.0 16.7 L78.2 16.6 L79.8 15.9 L81.0 14.9 L81.8 13.8M71.3 17.0 L69.9 16.9 L68.5 16.7 L67.2 16.1 L65.8 16.1 L64.4 16.2 L63.1 15.8M19.1 71.6 L20.3 70.8 L21.3 69.9 L21.8 68.6 L21.7 67.2M45.7 38.6 L47.0 39.2 L48.2 39.8 L49.4 40.6M17.3 14.0 L18.2 13.0 L18.9 11.7 L19.1 10.4 L18.6 9.0M34.8 53.3 L35.5 54.5 L35.6 55.9 L35.1 57.2 L34.4 58.4 L33.4 59.3 L32.3 60.2M34.8 19.9 L36.2 19.9 L37.6 20.2 L39.0 20.5M24.2 23.2 L25.6 23.4 L26.9 23.9 L28.2 24.4 L29.6 24.6 L30.8 25.4 L31.9 26.2M66.6 3.2 L66.8 1.8 L67.2 0.4 L67.4 -1.0 L67.8 -2.3 L68.6 -3.5 L69.1 -4.8M49.1 22.1 L50.5 22.0 L51.7 21.2 L52.9 20.5 L54.3 20.1 L55.7 20.1M53.6 20.7 L54.5 19.5 L54.7 18.2 L54.5 16.8 L53.6 15.7 L52.7 14.6 L51.4 14.0M12.4 42.2 L13.4 41.2 L14.5 40.4 L15.7 39.7M23.8 54.3 L24.9 53.5 L26.3 53.1 L27.5 52.5 L28.8 51.9M9.9 47.0 L11.3 46.8 L12.7 46.9 L14.1 47.0 L15.4 47.2 L16.8 46.8 L18.2 46.8M29.7 77.0 L31.1 77.0 L32.4 77.2 L33.8 76.7 L35.1 76.5 L36.5 76.1 L37.9 75.8M36.1 31.7 L37.2 30.9 L38.5 30.4 L39.9 30.3 L41.3 30.5M42.1 19.1 L42.0 17.7 L41.9 16.3 L42.1 14.9M23.1 71.1 L24.5 70.8 L25.8 71.1 L27.2 70.7 L28.4 70.1 L29.6 69.3 L30.6 68.4M14.1 43.3 L14.3 41.9 L14.4 40.5 L13.9 39.2 L14.1 37.8 L14.6 36.5 L14.7 35.1M31.2 50.1 L32.6 50.1 L33.9 49.6 L35.3 49.4M19.0 46.7 L19.9 45.6 L20.6 44.5 L21.6 43.4 L22.2 42.2 L22.4 40.8 L22.5 39.4M25.5 15.4 L26.5 14.4 L27.5 13.4 L27.9 12.1 L28.5 10.8 L29.3 9.7M22.6 1.6 L22.2 0.2 L22.3 -1.1 L22.3 -2.5 L21.7 -3.8M48.7 4.8 L49.7 3.8 L51.1 3.4 L52.5 3.5 L53.7 2.9 L55.1 2.4 L56.1 1.5M69.4 15.4 L68.2 14.7 L66.9 14.1 L65.9 13.1 L64.8 12.3 L63.5 11.8M32.8 23.8 L34.1 24.3 L35.4 24.8 L36.6 25.6M18.1 21.6 L19.2 20.8 L20.4 20.1 L21.3 19.0 L21.7 17.6M37.8 53.9 L39.1 53.3 L40.3 52.6 L41.5 51.9M57.6 14.3 L59.0 14.4 L60.3 14.9 L61.3 15.8M62.2 17.6 L61.5 18.8 L60.2 19.5 L59.1 20.3 L57.7 20.6 L56.4 20.2M72.5 1.9 L73.6 1.0 L74.8 0.3 L75.7 -0.8 L77.0 -1.4 L78.3 -1.9M8.5 32.0 L9.2 30.8 L9.8 29.6 L10.5 28.4M3.4 51.9 L3.9 50.6 L4.9 49.6 L6.0 48.7 L6.6 47.4 L6.8 46.0 L6.9 44.7M23.8 33.9 L24.2 32.6 L25.0 31.4 L25.9 30.4 L27.1 29.6M36.5 1.3 L37.8 1.8 L39.2 1.9 L40.5 1.6 L41.9 1.6 L43.3 2.1M44.5 5.2 L45.4 4.1 L46.2 3.0 L47.2 2.0 L48.2 1.0M23.6 60.8 L22.7 62.0 L21.6 62.7 L20.8 63.9M28.7 49.5 L28.1 48.2 L27.2 47.1 L26.1 46.3M19.6 39.1 L20.3 37.8 L20.6 36.5 L20.4 35.1 L19.6 33.9 L19.1 32.6M38.3 10.4 L37.1 11.1 L35.8 11.7M41.0 39.3 L41.7 38.1 L42.3 36.8 L42.6 35.5 L43.3 34.2 L44.1 33.1M42.2 40.3 L42.1 38.9 L42.0 37.5M20.9 45.9 L21.4 44.6 L21.7 43.2 L21.5 41.8 L20.8 40.6 L19.7 39.7 L18.4 39.2M20.9 9.5 L22.2 8.9 L23.2 7.9 L24.3 7.2 L25.6 6.5M8.7 19.6 L9.9 18.8 L11.2 18.3 L12.1 17.2 L12.7 16.0 L13.2 14.7 L14.1 13.7M33.2 61.0 L34.6 61.2 L36.0 61.6 L37.4 61.4 L38.7 61.9 L40.1 61.8 L41.4 62.3M48.8 13.5 L49.4 12.3 L50.4 11.3 L50.8 9.9 L51.0 8.6 L50.6 7.2M30.3 61.7 L31.1 60.6 L31.7 59.3 L32.1 57.9 L32.9 56.8 L33.7 55.6M43.7 43.6 L44.7 42.6 L45.6 41.6 L46.1 40.3 L47.1 39.3M39.3 16.3 L40.4 15.4 L41.6 14.7 L42.7 13.9 L44.0 13.3 L45.3 12.9M34.8 22.4 L36.0 23.2 L37.3 23.7 L38.3 24.7 L38.9 26.0 L39.8 27.0M35.2 75.7 L35.6 74.3 L35.6 72.9 L36.1 71.6 L36.7 70.3 L37.5 69.3M39.8 51.8 L40.1 50.4 L40.3 49.0M69.8 4.7 L70.8 3.7 L71.7 2.7 L72.9 1.9 L73.9 1.0M36.3 56.7 L36.7 55.4 L37.3 54.1 L37.6 52.8 L38.2 51.5 L39.2 50.5 L39.7 49.2M32.1 72.6 L32.7 71.3 L33.6 70.3 L33.9 68.9 L33.9 67.5 L33.5 66.2 L32.9 64.9M20.2 2.9 L20.2 1.5 L20.6 0.2 L21.5 -0.9 L22.5 -1.9 L23.1 -3.1M69.6 8.5 L70.8 7.8 L72.2 7.7 L73.6 7.9 L74.9 8.4M23.0 25.6 L24.4 25.7 L25.7 25.3 L27.1 25.5 L28.3 26.2 L29.5 26.9 L30.6 27.8M71.7 15.3 L72.3 16.6 L73.3 17.5 L74.1 18.6 L75.0 19.7 L75.3 21.1 L76.1 22.3M50.4 10.2 L50.2 11.6 L50.5 13.0M52.7 28.8 L52.5 27.4 L52.7 26.0 L52.4 24.6M15.4 32.4 L16.7 31.9 L17.6 30.9 L18.7 29.9 L19.1 28.6M22.6 27.1 L23.0 25.8 L23.6 24.5 L24.5 23.5 L25.2 22.2 L26.0 21.1M9.5 56.4 L9.7 55.0 L9.5 53.6 L9.1 52.3 L9.1 50.9M11.4 23.4 L11.6 22.0 L12.4 20.9 L13.5 20.0 L14.3 18.8M39.8 33.1 L40.1 34.5 L40.5 35.8 L41.5 36.8M27.3 29.8 L27.4 28.4 L27.7 27.1 L28.5 25.9 L29.3 24.7 L30.1 23.6 L31.4 22.9 L32.2 21.8M33.6 29.6 L34.7 28.7 L36.0 28.3 L37.2 27.5M17.7 26.6 L19.0 25.9 L20.3 25.5 L21.3 24.6 L22.7 24.2 L24.1 24.3M55.1 13.9 L55.8 12.6 L56.0 11.3 L55.7 9.9 L55.6 8.5M37.4 74.7 L38.2 73.5 L38.5 72.2 L38.4 70.8M31.3 9.8 L32.6 9.2 L33.8 8.6 L34.7 7.5 L35.8 6.6 L36.8 5.6M48.2 20.2 L48.4 18.8 L48.4 17.4 L48.7 16.0 L49.3 14.8M59.1 5.1 L58.7 6.5 L58.7 7.9 L58.2 9.2M39.4 60.7 L38.3 61.6 L36.9 61.8 L35.6 61.5 L34.2 61.7M33.6 61.3 L32.8 60.1 L32.2 58.9 L32.2 57.5M30.7 18.4 L30.8 17.0 L31.5 15.8 L31.9 14.4M68.8 12.1 L70.2 12.3 L71.6 12.5 L73.0 12.5 L74.3 12.2 L75.6 11.6 L76.6 10.7M16.2 56.9 L16.9 55.7 L17.4 54.4 L17.4 53.0 L17.4 51.6 L17.1 50.2M23.0 38.1 L23.5 36.8 L24.1 35.5 L24.1 34.1 L24.2 32.7M12.5 75.1 L13.6 74.3 L14.8 73.5 L15.8 72.5 L16.9 71.6 L17.5 70.4M65.8 11.1 L67.2 10.7 L68.6 10.8M36.0 41.0 L35.4 42.3 L34.5 43.3 L33.3 44.0M32.2 37.3 L32.0 35.9 L32.1 34.5 L31.7 33.2 L30.9 32.0 L30.1 30.9 L29.5 29.6M15.8 41.6 L16.5 40.4 L16.9 39.0 L16.7 37.6 L16.6 36.2 L16.8 34.9 L16.6 33.5M19.2 73.0 L20.3 72.2 L21.6 71.9 L22.9 71.4 L24.1 70.7M19.7 63.7 L19.2 62.4 L19.2 61.0 L18.9 59.6 L18.6 58.2M37.7 50.4 L38.6 49.4 L39.6 48.4M73.0 13.0 L72.8 11.6 L72.8 10.2 L72.2 8.9 L72.2 7.5 L72.2 6.1M4.8 37.8 L3.6 38.6 L2.3 38.8 L0.9 39.3 L0.0 40.3M23.3 37.0 L24.4 36.1 L25.3 35.1 L25.9 33.8 L26.7 32.7M40.3 54.2 L41.6 54.7 L42.7 55.6 L43.6 56.7 L44.4 57.8M55.9 29.8 L54.9 28.9 L54.3 27.6 L53.7 26.3 L53.8 24.9 L53.9 23.5 L54.6 22.3M8.3 29.9 L9.3 30.9 L10.5 31.7 L11.4 32.7 L12.1 33.9 L12.6 35.2M2.9 51.3 L4.3 51.4 L5.6 51.0 L6.7 50.2M7.4 48.0 L8.0 46.7 L8.1 45.3 L8.6 44.1M45.2 47.9 L44.0 47.1 L43.0 46.1 L42.5 44.8 L42.6 43.4 L42.8 42.1 L43.2 40.7M32.1 60.7 L33.1 59.8 L34.4 59.3 L35.4 58.2 L36.0 57.0 L36.4 55.6M36.7 55.8 L38.0 55.3 L39.4 55.0 L40.7 54.6 L42.1 54.8M12.6 69.8 L14.0 69.4 L15.4 69.3 L16.8 69.3 L18.1 68.7 L19.5 68.6 L20.8 68.3M44.3 59.3 L43.0 59.8 L42.0 60.8 L41.0 61.8 L40.0 62.8M32.3 35.0 L33.7 34.7 L34.9 34.0 L36.3 33.8M55.1 35.1 L55.7 33.9 L56.1 32.5 L56.3 31.2 L56.4 29.8 L56.1 28.4 L56.3 27.0M7.5 28.9 L8.4 27.8 L8.7 26.5 L8.8 25.1 L8.8 23.7M38.4 51.0 L39.7 50.5 L41.1 50.6 L42.5 51.0 L43.4 52.0 L44.6 52.7M34.0 35.8 L33.0 36.7 L32.3 37.9 L32.0 39.3 L31.5 40.6 L30.7 41.8 L30.5 43.2M31.4 4.2 L32.8 4.1 L34.2 4.2 L35.5 4.8 L36.9 4.9 L38.3 4.7 L39.6 4.8M55.7 34.5 L57.0 33.9 L58.4 33.9 L59.6 34.5 L61.0 34.6 L62.3 34.0 L63.7 33.9M23.3 40.9 L24.5 40.2 L25.4 39.1 L26.6 38.5 L28.0 38.3M13.6 74.7 L14.9 74.1 L16.1 73.5 L16.9 72.4 L17.9 71.3 L19.1 70.6M38.0 64.2 L39.2 63.5 L40.5 62.9 L41.9 62.7 L43.1 62.1M34.3 45.4 L35.2 44.3 L36.3 43.5 L37.7 43.2 L39.0 42.6 L40.1 41.8 L41.1 40.8M14.0 19.7 L14.0 18.3 L14.3 17.0M43.1 8.7 L42.6 7.4 L42.2 6.1 L41.7 4.8 L40.9 3.6M20.9 6.1 L22.0 5.2 L23.2 4.4 L24.2 3.5 L25.6 3.1 L27.0 3.1M37.5 34.0 L38.6 33.2 L39.8 32.4 L40.9 31.7 L42.2 31.1 L43.1 30.0 L43.7 28.7M32.9 17.9 L31.9 16.9 L30.8 16.1 L30.1 14.8 L29.2 13.8M47.2 33.4 L47.2 32.0 L47.3 30.6 L48.0 29.4 L48.3 28.0 L49.1 26.9M8.3 39.0 L9.4 38.2 L10.2 37.0 L11.0 35.9 L11.5 34.6 L11.3 33.2 L11.3 31.8M27.9 51.4 L28.7 50.3 L29.9 49.6 L31.2 49.0 L32.5 48.4 L33.5 47.5 L34.8 47.0M31.5 47.2 L32.7 46.4 L34.0 46.1 L35.4 46.1 L36.8 45.7 L38.0 45.1M8.7 26.6 L9.3 25.4 L10.3 24.4 L11.6 24.0 L13.0 23.9 L14.4 23.5 L15.6 22.8M42.2 48.3 L43.5 48.9 L44.9 49.1M42.5 61.3 L43.9 61.5 L45.1 62.1 L46.5 62.5 L47.9 62.6 L49.2 62.3 L50.6 62.4M3.2 36.0 L4.0 34.9 L4.5 33.6 L5.2 32.4 L6.4 31.5 L7.2 30.4M6.7 32.2 L8.1 31.9 L9.5 31.9 L10.9 32.0M5.1 43.1 L6.4 43.6 L7.5 44.4 L8.8 44.9M36.1 61.7 L37.5 61.9 L38.8 62.6 L39.6 63.7 L40.8 64.3 L42.2 64.4M46.3 2.0 L46.4 0.6 L46.1 -0.8 L45.7 -2.1 L45.6 -3.5M43.2 15.2 L43.6 13.8 L44.5 12.7 L44.8 11.4 L45.4 10.1 L46.5 9.3 L47.7 8.5M21.0 7.8 L22.3 7.3 L23.7 7.2 L25.0 7.7 L26.0 8.8 L27.3 9.3 L28.7 9.4M16.5 14.8 L17.4 13.8 L18.4 12.8 L19.2 11.7M34.7 47.3 L36.1 47.4 L37.4 46.9 L38.6 46.0 L39.2 44.8M67.4 17.7 L68.1 18.9 L68.9 20.1 L69.3 21.4 L69.8 22.7 L70.7 23.8 L71.4 25.0 L71.7 26.4M41.3 30.2 L41.9 28.9 L43.0 28.1 L44.0 27.1 L44.9 26.0 L46.1 25.3 L47.5 25.1M41.7 10.9 L43.1 11.0 L44.4 10.5 L45.6 9.9M19.1 34.5 L18.9 33.1 L19.1 31.7M15.6 49.8 L16.1 48.5 L17.1 47.5 L18.4 46.9 L19.7 46.4 L20.7 45.4 L21.5 44.2M54.2 16.4 L54.2 17.8 L54.8 19.1 L54.9 20.4 L55.0 21.8 L54.4 23.1 L53.8 24.4M30.2 34.9 L31.2 35.9 L32.2 36.8 L33.5 37.5 L34.4 38.5 L35.1 39.8M15.2 36.3 L16.6 35.8 L18.0 35.6 L19.3 35.9 L20.7 36.3 L21.7 37.3M49.5 1.9 L49.9 3.3 L49.7 4.6 L49.1 5.9 L48.6 7.2 L48.6 8.6 L49.1 9.9M51.8 3.0 L53.2 2.6 L54.5 2.3 L55.7 1.6M17.0 7.5 L18.4 7.5 L19.8 7.7 L21.0 8.3 L22.1 9.2M46.1 4.5 L46.5 3.2 L46.4 1.8 L46.6 0.4 L47.4 -0.7M64.2 11.8 L64.5 13.1 L64.3 14.5 L64.1 15.9 L63.7 17.2 L63.7 18.6M18.2 48.8 L19.6 48.8 L20.8 49.5 L21.6 50.7 L22.6 51.7M44.8 29.8 L45.7 28.8 L47.0 28.3 L48.2 27.5 L49.0 26.4 L49.2 25.0 L49.8 23.7M26.8 17.8 L27.1 19.1 L26.9 20.5 L26.6 21.9 L26.7 23.3 L26.4 24.6 L26.6 26.0M7.3 29.6 L7.9 30.9 L8.9 31.9 L9.7 33.0 L10.6 34.1M33.5 39.6 L34.8 39.2 L35.9 38.3 L36.8 37.2 L37.5 36.0 L37.7 34.7M3.0 47.9 L2.9 49.3 L2.6 50.7 L2.7 52.1 L3.1 53.5 L3.7 54.7M13.2 9.5 L14.5 9.0 L15.8 8.7 L17.1 8.0 L18.3 7.4 L19.5 6.6M1.7 45.7 L3.1 45.7 L4.4 46.1 L5.7 46.5M29.5 1.6 L28.1 1.8 L26.8 2.3 L25.7 3.2M50.0 4.8 L51.3 5.2 L52.7 5.4 L54.1 5.3 L55.4 5.6 L56.8 5.7M60.8 22.1 L61.5 20.9 L62.6 20.0 L63.8 19.4 L65.2 19.1 L66.6 19.0 L67.9 18.5M5.6 35.4 L6.4 34.3 L7.3 33.2 L8.1 32.1 L9.0 31.0 L9.6 29.7M41.0 43.5 L42.3 43.0 L43.3 42.0 L44.7 41.6 L45.8 40.7 L46.5 39.5 L47.1 38.3M59.3 9.8 L59.7 11.1 L60.6 12.2 L61.7 13.2 L62.9 13.8 L64.2 14.3 L65.3 15.2M51.6 47.5 L53.0 47.6 L54.4 47.3 L55.7 46.9M9.3 54.0 L10.3 53.0 L11.2 51.9 L11.5 50.5 L12.3 49.4 L13.3 48.4 L14.0 47.2M8.4 49.2 L7.0 49.1 L5.7 49.5 L4.5 50.4 L3.4 51.2 L2.8 52.5 L2.1 53.7M53.2 2.7 L53.5 1.3 L54.1 0.1 L55.1 -0.9 L55.9 -2.1 L57.0 -2.9 L58.2 -3.7M54.4 33.6 L54.4 32.2 L54.9 30.9 L55.5 29.7 L55.5 28.3 L55.7 26.9 L55.4 25.5M45.7 37.7 L45.0 38.9 L43.8 39.7 L43.0 40.9M8.3 36.5 L9.0 35.2 L9.7 34.1 L10.1 32.7 L10.7 31.5M57.2 6.8 L58.3 7.7 L59.2 8.8 L60.2 9.7 L61.4 10.5 L62.5 11.3 L63.9 11.5 L65.3 11.8M10.1 18.7 L11.4 18.1 L12.8 18.0 L14.1 17.7 L15.5 18.1 L16.9 18.3 L18.2 18.8M5.1 54.1 L5.4 52.8 L5.5 51.4 L5.1 50.0 L4.2 48.9M51.0 2.6 L50.9 1.2 L51.2 -0.1 L51.0 -1.5 L51.2 -2.9 L50.8 -4.2M42.1 62.5 L42.5 61.1 L42.6 59.7 L42.5 58.3M50.3 23.2 L50.9 21.9 L51.9 21.0 L52.7 19.8 L53.8 18.9 L55.1 18.3 L56.4 17.8M10.5 28.4 L9.4 27.6 L8.2 26.9 L6.9 26.2 L5.6 25.8M45.4 48.6 L46.8 48.3 L48.2 48.0 L49.6 48.1 L51.0 48.1 L52.3 48.6M26.3 22.6 L27.7 22.9 L29.1 23.2 L30.3 23.7 L31.7 24.1 L33.1 23.9 L34.4 24.2M49.6 47.7 L50.6 48.7 L51.3 49.9 L51.8 51.2 L51.8 52.6M4.4 25.3 L5.3 24.2 L6.3 23.2 L7.4 22.4 L8.0 21.1 L8.4 19.8 L8.8 18.4M5.4 24.6 L6.5 23.7 L7.7 23.0 L9.0 22.8M29.7 61.2 L31.1 60.7 L32.4 60.4 L33.8 60.6M34.8 34.0 L35.9 34.9 L37.1 35.5 L38.4 35.9 L39.5 36.7M28.4 1.1 L28.0 2.4 L27.1 3.5 L26.2 4.6 L25.2 5.5M38.7 15.0 L39.1 13.7 L39.7 12.4 L40.8 11.6 L41.5 10.3M9.4 59.8 L9.4 58.4 L9.5 57.1 L10.2 55.8 L11.2 54.9 L12.2 54.0M47.1 47.4 L47.9 46.2 L48.0 44.9 L47.6 43.5 L46.8 42.4 L45.9 41.3" stroke="#a01808" stroke-width="3"/></g>
<g filter="url(#b2)"><polygon points="0.0,40.0 16.3,41.9 28.8,58.3 34.6,79.4 0.0,79.4" fill="#c8420c" opacity="0.6"/></g>
<g filter="url(#b06)" fill="none" stroke-linecap="round" stroke-linejoin="round">
<path d="M71.7 11.5 L73.3 10.7 L74.3 10.0 L75.1 9.4 L76.2 9.2 L78.0 9.1 L80.2 9.1M82.3 8.9 L84.0 8.2 L85.2 7.1 L86.2 5.9 L87.4 4.9 L89.3 4.2M55.0 35.5 L55.7 34.7 L56.8 34.3 L58.4 34.0 L60.3 33.7M62.2 33.0 L63.5 32.1 L64.4 31.1 L65.2 29.9 L66.2 29.0 L67.8 28.4 L69.6 27.9M71.2 27.5 L72.4 27.0 L73.0 26.2 L73.6 25.1 L74.5 23.9 L76.0 22.8 L77.8 21.8 L79.5 21.1M80.9 21.1 L81.9 21.2 L82.7 21.2 L83.9 20.9 L85.5 20.2M87.5 19.3 L89.3 18.4 L90.6 17.7 L91.5 17.3M60.6 41.2 L61.4 40.6 L62.6 40.3 L64.3 40.0M66.3 39.5 L68.0 38.7 L69.2 37.8 L70.0 36.8M70.8 35.8 L72.0 35.1 L73.8 34.7 L75.9 34.7 L77.8 34.8 L79.2 34.7M80.2 34.3 L81.2 33.6 L82.4 32.8 L84.2 32.2 L86.2 31.7 L87.9 31.7 L89.1 31.8 L89.9 32.0M45.6 60.6 L46.5 59.8 L47.6 59.4 L49.2 59.2 L51.3 59.0M53.4 58.6 L55.1 57.9 L56.3 56.9 L57.3 55.8 L58.4 54.8M60.0 54.1 L62.2 54.1 L64.4 54.2 L66.3 54.4 L67.7 54.3M68.7 54.0 L70.0 53.3 L71.8 52.6 L74.0 51.9M76.0 51.2 L77.6 50.9 L78.7 50.8 L79.5 50.6 L80.7 50.2 L82.4 49.5 L84.6 48.5M86.5 47.3 L88.0 46.3 L89.0 45.5 L89.7 45.1 L90.7 44.8M61.7 57.3 L63.0 58.2 L64.7 59.3 L66.8 60.2M68.9 60.9 L70.4 61.2 L71.4 61.3 L72.2 61.5 L73.3 61.8M54.7 51.4 L55.7 52.0 L57.0 52.8 L58.9 53.7M60.9 54.3 L62.8 54.5 L64.1 54.3 L65.1 54.0 L66.1 53.8M75.1 26.3 L77.2 26.7 L78.9 26.9 L80.0 27.1M80.8 26.2 L81.9 25.6 L83.6 25.3M5.1 20.9 L6.9 21.8 L8.9 22.4 L10.8 22.8M12.1 22.8 L13.2 22.8 L14.2 22.9 L15.7 23.4M61.2 22.1 L62.5 22.9 L63.4 23.8 L64.1 24.9 L64.4 26.6 L65.2 28.6M49.5 62.6 L50.4 62.6 L51.3 63.0 L52.7 63.7 L54.6 64.4M56.7 65.3 L58.4 65.9 L59.6 66.1 L60.4 66.2M72.6 16.5 L74.0 16.6 L76.0 16.7 L78.2 16.6 L79.8 15.9 L81.0 14.9 L81.8 13.8M71.3 17.0 L69.9 16.9 L68.5 16.7 L67.2 16.1 L65.8 16.1 L64.4 16.2 L63.1 15.8M19.1 71.6 L20.3 70.8 L21.3 69.9 L21.8 68.6 L21.7 67.2M45.7 38.6 L47.0 39.2 L48.2 39.8 L49.4 40.6M17.3 14.0 L18.2 13.0 L18.9 11.7 L19.1 10.4 L18.6 9.0M34.8 53.3 L35.5 54.5 L35.6 55.9 L35.1 57.2 L34.4 58.4 L33.4 59.3 L32.3 60.2M34.8 19.9 L36.2 19.9 L37.6 20.2 L39.0 20.5M24.2 23.2 L25.6 23.4 L26.9 23.9 L28.2 24.4 L29.6 24.6 L30.8 25.4 L31.9 26.2M66.6 3.2 L66.8 1.8 L67.2 0.4 L67.4 -1.0 L67.8 -2.3 L68.6 -3.5 L69.1 -4.8M49.1 22.1 L50.5 22.0 L51.7 21.2 L52.9 20.5 L54.3 20.1 L55.7 20.1M53.6 20.7 L54.5 19.5 L54.7 18.2 L54.5 16.8 L53.6 15.7 L52.7 14.6 L51.4 14.0M12.4 42.2 L13.4 41.2 L14.5 40.4 L15.7 39.7M23.8 54.3 L24.9 53.5 L26.3 53.1 L27.5 52.5 L28.8 51.9M9.9 47.0 L11.3 46.8 L12.7 46.9 L14.1 47.0 L15.4 47.2 L16.8 46.8 L18.2 46.8M29.7 77.0 L31.1 77.0 L32.4 77.2 L33.8 76.7 L35.1 76.5 L36.5 76.1 L37.9 75.8M36.1 31.7 L37.2 30.9 L38.5 30.4 L39.9 30.3 L41.3 30.5M42.1 19.1 L42.0 17.7 L41.9 16.3 L42.1 14.9M23.1 71.1 L24.5 70.8 L25.8 71.1 L27.2 70.7 L28.4 70.1 L29.6 69.3 L30.6 68.4M14.1 43.3 L14.3 41.9 L14.4 40.5 L13.9 39.2 L14.1 37.8 L14.6 36.5 L14.7 35.1M31.2 50.1 L32.6 50.1 L33.9 49.6 L35.3 49.4M19.0 46.7 L19.9 45.6 L20.6 44.5 L21.6 43.4 L22.2 42.2 L22.4 40.8 L22.5 39.4M25.5 15.4 L26.5 14.4 L27.5 13.4 L27.9 12.1 L28.5 10.8 L29.3 9.7M22.6 1.6 L22.2 0.2 L22.3 -1.1 L22.3 -2.5 L21.7 -3.8M48.7 4.8 L49.7 3.8 L51.1 3.4 L52.5 3.5 L53.7 2.9 L55.1 2.4 L56.1 1.5M69.4 15.4 L68.2 14.7 L66.9 14.1 L65.9 13.1 L64.8 12.3 L63.5 11.8M32.8 23.8 L34.1 24.3 L35.4 24.8 L36.6 25.6M18.1 21.6 L19.2 20.8 L20.4 20.1 L21.3 19.0 L21.7 17.6M37.8 53.9 L39.1 53.3 L40.3 52.6 L41.5 51.9M57.6 14.3 L59.0 14.4 L60.3 14.9 L61.3 15.8M62.2 17.6 L61.5 18.8 L60.2 19.5 L59.1 20.3 L57.7 20.6 L56.4 20.2M72.5 1.9 L73.6 1.0 L74.8 0.3 L75.7 -0.8 L77.0 -1.4 L78.3 -1.9M8.5 32.0 L9.2 30.8 L9.8 29.6 L10.5 28.4M3.4 51.9 L3.9 50.6 L4.9 49.6 L6.0 48.7 L6.6 47.4 L6.8 46.0 L6.9 44.7M23.8 33.9 L24.2 32.6 L25.0 31.4 L25.9 30.4 L27.1 29.6M36.5 1.3 L37.8 1.8 L39.2 1.9 L40.5 1.6 L41.9 1.6 L43.3 2.1M44.5 5.2 L45.4 4.1 L46.2 3.0 L47.2 2.0 L48.2 1.0M23.6 60.8 L22.7 62.0 L21.6 62.7 L20.8 63.9M28.7 49.5 L28.1 48.2 L27.2 47.1 L26.1 46.3M19.6 39.1 L20.3 37.8 L20.6 36.5 L20.4 35.1 L19.6 33.9 L19.1 32.6M38.3 10.4 L37.1 11.1 L35.8 11.7M41.0 39.3 L41.7 38.1 L42.3 36.8 L42.6 35.5 L43.3 34.2 L44.1 33.1M42.2 40.3 L42.1 38.9 L42.0 37.5M20.9 45.9 L21.4 44.6 L21.7 43.2 L21.5 41.8 L20.8 40.6 L19.7 39.7 L18.4 39.2M20.9 9.5 L22.2 8.9 L23.2 7.9 L24.3 7.2 L25.6 6.5M8.7 19.6 L9.9 18.8 L11.2 18.3 L12.1 17.2 L12.7 16.0 L13.2 14.7 L14.1 13.7M33.2 61.0 L34.6 61.2 L36.0 61.6 L37.4 61.4 L38.7 61.9 L40.1 61.8 L41.4 62.3M48.8 13.5 L49.4 12.3 L50.4 11.3 L50.8 9.9 L51.0 8.6 L50.6 7.2M30.3 61.7 L31.1 60.6 L31.7 59.3 L32.1 57.9 L32.9 56.8 L33.7 55.6M43.7 43.6 L44.7 42.6 L45.6 41.6 L46.1 40.3 L47.1 39.3M39.3 16.3 L40.4 15.4 L41.6 14.7 L42.7 13.9 L44.0 13.3 L45.3 12.9M34.8 22.4 L36.0 23.2 L37.3 23.7 L38.3 24.7 L38.9 26.0 L39.8 27.0M35.2 75.7 L35.6 74.3 L35.6 72.9 L36.1 71.6 L36.7 70.3 L37.5 69.3M39.8 51.8 L40.1 50.4 L40.3 49.0M69.8 4.7 L70.8 3.7 L71.7 2.7 L72.9 1.9 L73.9 1.0M36.3 56.7 L36.7 55.4 L37.3 54.1 L37.6 52.8 L38.2 51.5 L39.2 50.5 L39.7 49.2M32.1 72.6 L32.7 71.3 L33.6 70.3 L33.9 68.9 L33.9 67.5 L33.5 66.2 L32.9 64.9M20.2 2.9 L20.2 1.5 L20.6 0.2 L21.5 -0.9 L22.5 -1.9 L23.1 -3.1M69.6 8.5 L70.8 7.8 L72.2 7.7 L73.6 7.9 L74.9 8.4M23.0 25.6 L24.4 25.7 L25.7 25.3 L27.1 25.5 L28.3 26.2 L29.5 26.9 L30.6 27.8M71.7 15.3 L72.3 16.6 L73.3 17.5 L74.1 18.6 L75.0 19.7 L75.3 21.1 L76.1 22.3M50.4 10.2 L50.2 11.6 L50.5 13.0M52.7 28.8 L52.5 27.4 L52.7 26.0 L52.4 24.6M15.4 32.4 L16.7 31.9 L17.6 30.9 L18.7 29.9 L19.1 28.6M22.6 27.1 L23.0 25.8 L23.6 24.5 L24.5 23.5 L25.2 22.2 L26.0 21.1M9.5 56.4 L9.7 55.0 L9.5 53.6 L9.1 52.3 L9.1 50.9M11.4 23.4 L11.6 22.0 L12.4 20.9 L13.5 20.0 L14.3 18.8M39.8 33.1 L40.1 34.5 L40.5 35.8 L41.5 36.8M27.3 29.8 L27.4 28.4 L27.7 27.1 L28.5 25.9 L29.3 24.7 L30.1 23.6 L31.4 22.9 L32.2 21.8M33.6 29.6 L34.7 28.7 L36.0 28.3 L37.2 27.5M17.7 26.6 L19.0 25.9 L20.3 25.5 L21.3 24.6 L22.7 24.2 L24.1 24.3M55.1 13.9 L55.8 12.6 L56.0 11.3 L55.7 9.9 L55.6 8.5M37.4 74.7 L38.2 73.5 L38.5 72.2 L38.4 70.8M31.3 9.8 L32.6 9.2 L33.8 8.6 L34.7 7.5 L35.8 6.6 L36.8 5.6M48.2 20.2 L48.4 18.8 L48.4 17.4 L48.7 16.0 L49.3 14.8M59.1 5.1 L58.7 6.5 L58.7 7.9 L58.2 9.2M39.4 60.7 L38.3 61.6 L36.9 61.8 L35.6 61.5 L34.2 61.7M33.6 61.3 L32.8 60.1 L32.2 58.9 L32.2 57.5M30.7 18.4 L30.8 17.0 L31.5 15.8 L31.9 14.4M68.8 12.1 L70.2 12.3 L71.6 12.5 L73.0 12.5 L74.3 12.2 L75.6 11.6 L76.6 10.7M16.2 56.9 L16.9 55.7 L17.4 54.4 L17.4 53.0 L17.4 51.6 L17.1 50.2M23.0 38.1 L23.5 36.8 L24.1 35.5 L24.1 34.1 L24.2 32.7M12.5 75.1 L13.6 74.3 L14.8 73.5 L15.8 72.5 L16.9 71.6 L17.5 70.4M65.8 11.1 L67.2 10.7 L68.6 10.8M36.0 41.0 L35.4 42.3 L34.5 43.3 L33.3 44.0M32.2 37.3 L32.0 35.9 L32.1 34.5 L31.7 33.2 L30.9 32.0 L30.1 30.9 L29.5 29.6M15.8 41.6 L16.5 40.4 L16.9 39.0 L16.7 37.6 L16.6 36.2 L16.8 34.9 L16.6 33.5M19.2 73.0 L20.3 72.2 L21.6 71.9 L22.9 71.4 L24.1 70.7M19.7 63.7 L19.2 62.4 L19.2 61.0 L18.9 59.6 L18.6 58.2M37.7 50.4 L38.6 49.4 L39.6 48.4M73.0 13.0 L72.8 11.6 L72.8 10.2 L72.2 8.9 L72.2 7.5 L72.2 6.1M4.8 37.8 L3.6 38.6 L2.3 38.8 L0.9 39.3 L0.0 40.3M23.3 37.0 L24.4 36.1 L25.3 35.1 L25.9 33.8 L26.7 32.7M40.3 54.2 L41.6 54.7 L42.7 55.6 L43.6 56.7 L44.4 57.8M55.9 29.8 L54.9 28.9 L54.3 27.6 L53.7 26.3 L53.8 24.9 L53.9 23.5 L54.6 22.3M8.3 29.9 L9.3 30.9 L10.5 31.7 L11.4 32.7 L12.1 33.9 L12.6 35.2M2.9 51.3 L4.3 51.4 L5.6 51.0 L6.7 50.2M7.4 48.0 L8.0 46.7 L8.1 45.3 L8.6 44.1M45.2 47.9 L44.0 47.1 L43.0 46.1 L42.5 44.8 L42.6 43.4 L42.8 42.1 L43.2 40.7M32.1 60.7 L33.1 59.8 L34.4 59.3 L35.4 58.2 L36.0 57.0 L36.4 55.6M36.7 55.8 L38.0 55.3 L39.4 55.0 L40.7 54.6 L42.1 54.8M12.6 69.8 L14.0 69.4 L15.4 69.3 L16.8 69.3 L18.1 68.7 L19.5 68.6 L20.8 68.3M44.3 59.3 L43.0 59.8 L42.0 60.8 L41.0 61.8 L40.0 62.8M32.3 35.0 L33.7 34.7 L34.9 34.0 L36.3 33.8M55.1 35.1 L55.7 33.9 L56.1 32.5 L56.3 31.2 L56.4 29.8 L56.1 28.4 L56.3 27.0M7.5 28.9 L8.4 27.8 L8.7 26.5 L8.8 25.1 L8.8 23.7M38.4 51.0 L39.7 50.5 L41.1 50.6 L42.5 51.0 L43.4 52.0 L44.6 52.7M34.0 35.8 L33.0 36.7 L32.3 37.9 L32.0 39.3 L31.5 40.6 L30.7 41.8 L30.5 43.2M31.4 4.2 L32.8 4.1 L34.2 4.2 L35.5 4.8 L36.9 4.9 L38.3 4.7 L39.6 4.8M55.7 34.5 L57.0 33.9 L58.4 33.9 L59.6 34.5 L61.0 34.6 L62.3 34.0 L63.7 33.9M23.3 40.9 L24.5 40.2 L25.4 39.1 L26.6 38.5 L28.0 38.3M13.6 74.7 L14.9 74.1 L16.1 73.5 L16.9 72.4 L17.9 71.3 L19.1 70.6M38.0 64.2 L39.2 63.5 L40.5 62.9 L41.9 62.7 L43.1 62.1M34.3 45.4 L35.2 44.3 L36.3 43.5 L37.7 43.2 L39.0 42.6 L40.1 41.8 L41.1 40.8M14.0 19.7 L14.0 18.3 L14.3 17.0M43.1 8.7 L42.6 7.4 L42.2 6.1 L41.7 4.8 L40.9 3.6M20.9 6.1 L22.0 5.2 L23.2 4.4 L24.2 3.5 L25.6 3.1 L27.0 3.1M37.5 34.0 L38.6 33.2 L39.8 32.4 L40.9 31.7 L42.2 31.1 L43.1 30.0 L43.7 28.7M32.9 17.9 L31.9 16.9 L30.8 16.1 L30.1 14.8 L29.2 13.8M47.2 33.4 L47.2 32.0 L47.3 30.6 L48.0 29.4 L48.3 28.0 L49.1 26.9M8.3 39.0 L9.4 38.2 L10.2 37.0 L11.0 35.9 L11.5 34.6 L11.3 33.2 L11.3 31.8M27.9 51.4 L28.7 50.3 L29.9 49.6 L31.2 49.0 L32.5 48.4 L33.5 47.5 L34.8 47.0M31.5 47.2 L32.7 46.4 L34.0 46.1 L35.4 46.1 L36.8 45.7 L38.0 45.1M8.7 26.6 L9.3 25.4 L10.3 24.4 L11.6 24.0 L13.0 23.9 L14.4 23.5 L15.6 22.8M42.2 48.3 L43.5 48.9 L44.9 49.1M42.5 61.3 L43.9 61.5 L45.1 62.1 L46.5 62.5 L47.9 62.6 L49.2 62.3 L50.6 62.4M3.2 36.0 L4.0 34.9 L4.5 33.6 L5.2 32.4 L6.4 31.5 L7.2 30.4M6.7 32.2 L8.1 31.9 L9.5 31.9 L10.9 32.0M5.1 43.1 L6.4 43.6 L7.5 44.4 L8.8 44.9M36.1 61.7 L37.5 61.9 L38.8 62.6 L39.6 63.7 L40.8 64.3 L42.2 64.4M46.3 2.0 L46.4 0.6 L46.1 -0.8 L45.7 -2.1 L45.6 -3.5M43.2 15.2 L43.6 13.8 L44.5 12.7 L44.8 11.4 L45.4 10.1 L46.5 9.3 L47.7 8.5M21.0 7.8 L22.3 7.3 L23.7 7.2 L25.0 7.7 L26.0 8.8 L27.3 9.3 L28.7 9.4M16.5 14.8 L17.4 13.8 L18.4 12.8 L19.2 11.7M34.7 47.3 L36.1 47.4 L37.4 46.9 L38.6 46.0 L39.2 44.8M67.4 17.7 L68.1 18.9 L68.9 20.1 L69.3 21.4 L69.8 22.7 L70.7 23.8 L71.4 25.0 L71.7 26.4M41.3 30.2 L41.9 28.9 L43.0 28.1 L44.0 27.1 L44.9 26.0 L46.1 25.3 L47.5 25.1M41.7 10.9 L43.1 11.0 L44.4 10.5 L45.6 9.9M19.1 34.5 L18.9 33.1 L19.1 31.7M15.6 49.8 L16.1 48.5 L17.1 47.5 L18.4 46.9 L19.7 46.4 L20.7 45.4 L21.5 44.2M54.2 16.4 L54.2 17.8 L54.8 19.1 L54.9 20.4 L55.0 21.8 L54.4 23.1 L53.8 24.4M30.2 34.9 L31.2 35.9 L32.2 36.8 L33.5 37.5 L34.4 38.5 L35.1 39.8M15.2 36.3 L16.6 35.8 L18.0 35.6 L19.3 35.9 L20.7 36.3 L21.7 37.3M49.5 1.9 L49.9 3.3 L49.7 4.6 L49.1 5.9 L48.6 7.2 L48.6 8.6 L49.1 9.9M51.8 3.0 L53.2 2.6 L54.5 2.3 L55.7 1.6M17.0 7.5 L18.4 7.5 L19.8 7.7 L21.0 8.3 L22.1 9.2M46.1 4.5 L46.5 3.2 L46.4 1.8 L46.6 0.4 L47.4 -0.7M64.2 11.8 L64.5 13.1 L64.3 14.5 L64.1 15.9 L63.7 17.2 L63.7 18.6M18.2 48.8 L19.6 48.8 L20.8 49.5 L21.6 50.7 L22.6 51.7M44.8 29.8 L45.7 28.8 L47.0 28.3 L48.2 27.5 L49.0 26.4 L49.2 25.0 L49.8 23.7M26.8 17.8 L27.1 19.1 L26.9 20.5 L26.6 21.9 L26.7 23.3 L26.4 24.6 L26.6 26.0M7.3 29.6 L7.9 30.9 L8.9 31.9 L9.7 33.0 L10.6 34.1M33.5 39.6 L34.8 39.2 L35.9 38.3 L36.8 37.2 L37.5 36.0 L37.7 34.7M3.0 47.9 L2.9 49.3 L2.6 50.7 L2.7 52.1 L3.1 53.5 L3.7 54.7M13.2 9.5 L14.5 9.0 L15.8 8.7 L17.1 8.0 L18.3 7.4 L19.5 6.6M1.7 45.7 L3.1 45.7 L4.4 46.1 L5.7 46.5M29.5 1.6 L28.1 1.8 L26.8 2.3 L25.7 3.2M50.0 4.8 L51.3 5.2 L52.7 5.4 L54.1 5.3 L55.4 5.6 L56.8 5.7M60.8 22.1 L61.5 20.9 L62.6 20.0 L63.8 19.4 L65.2 19.1 L66.6 19.0 L67.9 18.5M5.6 35.4 L6.4 34.3 L7.3 33.2 L8.1 32.1 L9.0 31.0 L9.6 29.7M41.0 43.5 L42.3 43.0 L43.3 42.0 L44.7 41.6 L45.8 40.7 L46.5 39.5 L47.1 38.3M59.3 9.8 L59.7 11.1 L60.6 12.2 L61.7 13.2 L62.9 13.8 L64.2 14.3 L65.3 15.2M51.6 47.5 L53.0 47.6 L54.4 47.3 L55.7 46.9M9.3 54.0 L10.3 53.0 L11.2 51.9 L11.5 50.5 L12.3 49.4 L13.3 48.4 L14.0 47.2M8.4 49.2 L7.0 49.1 L5.7 49.5 L4.5 50.4 L3.4 51.2 L2.8 52.5 L2.1 53.7M53.2 2.7 L53.5 1.3 L54.1 0.1 L55.1 -0.9 L55.9 -2.1 L57.0 -2.9 L58.2 -3.7M54.4 33.6 L54.4 32.2 L54.9 30.9 L55.5 29.7 L55.5 28.3 L55.7 26.9 L55.4 25.5M45.7 37.7 L45.0 38.9 L43.8 39.7 L43.0 40.9M8.3 36.5 L9.0 35.2 L9.7 34.1 L10.1 32.7 L10.7 31.5M57.2 6.8 L58.3 7.7 L59.2 8.8 L60.2 9.7 L61.4 10.5 L62.5 11.3 L63.9 11.5 L65.3 11.8M10.1 18.7 L11.4 18.1 L12.8 18.0 L14.1 17.7 L15.5 18.1 L16.9 18.3 L18.2 18.8M5.1 54.1 L5.4 52.8 L5.5 51.4 L5.1 50.0 L4.2 48.9M51.0 2.6 L50.9 1.2 L51.2 -0.1 L51.0 -1.5 L51.2 -2.9 L50.8 -4.2M42.1 62.5 L42.5 61.1 L42.6 59.7 L42.5 58.3M50.3 23.2 L50.9 21.9 L51.9 21.0 L52.7 19.8 L53.8 18.9 L55.1 18.3 L56.4 17.8M10.5 28.4 L9.4 27.6 L8.2 26.9 L6.9 26.2 L5.6 25.8M45.4 48.6 L46.8 48.3 L48.2 48.0 L49.6 48.1 L51.0 48.1 L52.3 48.6M26.3 22.6 L27.7 22.9 L29.1 23.2 L30.3 23.7 L31.7 24.1 L33.1 23.9 L34.4 24.2M49.6 47.7 L50.6 48.7 L51.3 49.9 L51.8 51.2 L51.8 52.6M4.4 25.3 L5.3 24.2 L6.3 23.2 L7.4 22.4 L8.0 21.1 L8.4 19.8 L8.8 18.4M5.4 24.6 L6.5 23.7 L7.7 23.0 L9.0 22.8M29.7 61.2 L31.1 60.7 L32.4 60.4 L33.8 60.6M34.8 34.0 L35.9 34.9 L37.1 35.5 L38.4 35.9 L39.5 36.7M28.4 1.1 L28.0 2.4 L27.1 3.5 L26.2 4.6 L25.2 5.5M38.7 15.0 L39.1 13.7 L39.7 12.4 L40.8 11.6 L41.5 10.3M9.4 59.8 L9.4 58.4 L9.5 57.1 L10.2 55.8 L11.2 54.9 L12.2 54.0M47.1 47.4 L47.9 46.2 L48.0 44.9 L47.6 43.5 L46.8 42.4 L45.9 41.3" stroke="#e2281a" stroke-width="2.05"/>
</g>
<g filter="url(#b03)">
<circle cx="7.2" cy="54.8" r="1.09" fill="#ffa010"/>
<circle cx="20.5" cy="49.9" r="0.73" fill="#f8e040"/>
<circle cx="20.3" cy="51.8" r="1.11" fill="#f04a10"/>
<circle cx="28.1" cy="68.9" r="1.13" fill="#ff6a10"/>
<circle cx="21.3" cy="62.5" r="0.95" fill="#f04a10"/>
<circle cx="22.3" cy="49.8" r="0.81" fill="#ffd020"/>
<circle cx="14.1" cy="58.2" r="0.94" fill="#ff6a10"/>
<circle cx="12.1" cy="59.3" r="1.05" fill="#ffa010"/>
<circle cx="27.3" cy="77.2" r="0.96" fill="#f04a10"/>
<circle cx="30.9" cy="66.2" r="0.95" fill="#f04a10"/>
<circle cx="18.3" cy="46.8" r="1.05" fill="#f8e040"/>
<circle cx="19.2" cy="48.9" r="0.77" fill="#ffb010"/>
<circle cx="33.3" cy="78.4" r="1.12" fill="#ffa010"/>
<circle cx="15.1" cy="56.4" r="0.96" fill="#ffa010"/>
<circle cx="24.6" cy="55.6" r="0.90" fill="#ff6a10"/>
<circle cx="15.6" cy="58.8" r="1.09" fill="#ffa010"/>
<circle cx="25.4" cy="62.2" r="0.90" fill="#ffb010"/>
<circle cx="26.5" cy="70.7" r="0.82" fill="#f04a10"/>
<circle cx="23.6" cy="59.7" r="1.02" fill="#f8e040"/>
<circle cx="8.4" cy="46.4" r="1.14" fill="#ff8a10"/>
<circle cx="22.1" cy="63.9" r="1.00" fill="#ffb010"/>
<circle cx="28.2" cy="71.5" r="0.74" fill="#f8e040"/>
<circle cx="16.2" cy="69.7" r="0.78" fill="#f8e040"/>
<circle cx="10.1" cy="44.2" r="1.13" fill="#ff6a10"/>
<circle cx="0.5" cy="54.3" r="0.71" fill="#f8e040"/>
<circle cx="19.0" cy="48.2" r="1.07" fill="#ffa010"/>
<circle cx="18.4" cy="68.0" r="1.04" fill="#ffb010"/>
<circle cx="7.2" cy="49.2" r="0.90" fill="#ff6a10"/>
<circle cx="18.5" cy="78.2" r="0.80" fill="#ffb010"/>
<circle cx="12.7" cy="58.1" r="0.83" fill="#f8e040"/>
<circle cx="10.1" cy="58.4" r="0.76" fill="#ffb010"/>
<circle cx="13.9" cy="77.0" r="0.81" fill="#f8e040"/>
<circle cx="6.8" cy="44.6" r="0.93" fill="#f04a10"/>
<circle cx="31.3" cy="77.8" r="1.09" fill="#ff6a10"/>
<circle cx="25.2" cy="63.1" r="0.85" fill="#ffb010"/>
<circle cx="13.8" cy="53.1" r="1.09" fill="#ffa010"/>
<circle cx="12.9" cy="72.5" r="0.87" fill="#f8e040"/>
<circle cx="21.6" cy="70.0" r="0.80" fill="#ffd020"/>
<circle cx="25.9" cy="58.6" r="0.86" fill="#ffa010"/>
<circle cx="1.8" cy="49.2" r="1.03" fill="#f8e040"/>
<circle cx="19.5" cy="58.1" r="0.97" fill="#ffd020"/>
<circle cx="21.4" cy="58.2" r="1.04" fill="#ff8a10"/>
<circle cx="8.3" cy="53.8" r="0.77" fill="#ffb010"/>
<circle cx="2.4" cy="45.7" r="0.87" fill="#ffb010"/>
<circle cx="19.3" cy="52.0" r="0.81" fill="#ff8a10"/>
<circle cx="21.4" cy="55.2" r="0.83" fill="#f04a10"/>
<circle cx="18.1" cy="72.1" r="0.77" fill="#ff8a10"/>
<circle cx="14.2" cy="65.0" r="0.97" fill="#ff8a10"/>
<circle cx="17.0" cy="57.5" r="1.05" fill="#ffd020"/>
<circle cx="9.1" cy="53.1" r="1.08" fill="#ff6a10"/>
<circle cx="12.7" cy="78.1" r="0.71" fill="#f04a10"/>
<circle cx="13.9" cy="45.2" r="0.92" fill="#ffb010"/>
<circle cx="27.6" cy="57.3" r="1.09" fill="#ffa010"/>
<circle cx="13.6" cy="47.3" r="0.97" fill="#ff6a10"/>
<circle cx="18.5" cy="53.6" r="0.99" fill="#ffa010"/>
<circle cx="20.7" cy="74.3" r="0.82" fill="#f04a10"/>
<circle cx="27.7" cy="75.0" r="0.97" fill="#ffd020"/>
<circle cx="6.7" cy="41.4" r="0.80" fill="#ffb010"/>
<circle cx="15.2" cy="64.1" r="0.74" fill="#ffb010"/>
<circle cx="14.0" cy="41.8" r="0.96" fill="#ff8a10"/>
<circle cx="11.6" cy="54.9" r="0.93" fill="#ffd020"/>
<circle cx="19.3" cy="70.6" r="0.83" fill="#ff6a10"/>
<circle cx="11.8" cy="48.9" r="1.05" fill="#ffa010"/>
<circle cx="25.3" cy="75.3" r="0.99" fill="#ff8a10"/>
<circle cx="28.5" cy="78.2" r="0.81" fill="#f8e040"/>
<circle cx="3.1" cy="52.5" r="1.09" fill="#ff6a10"/>
<circle cx="9.2" cy="61.8" r="0.90" fill="#f04a10"/>
<circle cx="18.3" cy="68.7" r="0.89" fill="#ffa010"/>
<circle cx="19.3" cy="51.6" r="0.87" fill="#ffa010"/>
<circle cx="19.6" cy="48.2" r="1.07" fill="#ffa010"/>
<circle cx="1.4" cy="53.0" r="1.14" fill="#ff8a10"/>
<circle cx="20.9" cy="51.4" r="1.08" fill="#ffd020"/>
<circle cx="25.5" cy="69.3" r="0.91" fill="#ffd020"/>
<circle cx="20.5" cy="76.4" r="1.08" fill="#f04a10"/>
<circle cx="10.9" cy="66.6" r="0.72" fill="#ff6a10"/>
<circle cx="8.0" cy="48.7" r="0.70" fill="#ff6a10"/>
<circle cx="2.2" cy="46.8" r="0.85" fill="#ff8a10"/>
<circle cx="23.8" cy="71.9" r="1.13" fill="#ff6a10"/>
<circle cx="18.7" cy="70.6" r="0.90" fill="#f04a10"/>
<circle cx="22.3" cy="67.5" r="0.90" fill="#ff8a10"/>
<circle cx="9.4" cy="43.9" r="1.03" fill="#f04a10"/>
<circle cx="6.1" cy="46.0" r="0.84" fill="#f04a10"/>
<circle cx="8.8" cy="55.3" r="1.00" fill="#ff6a10"/>
<circle cx="30.5" cy="75.1" r="1.04" fill="#f8e040"/>
<circle cx="14.6" cy="71.6" r="1.06" fill="#ff8a10"/>
<circle cx="27.0" cy="70.0" r="0.96" fill="#ffb010"/>
<circle cx="21.6" cy="66.7" r="1.02" fill="#ff6a10"/>
<circle cx="14.9" cy="70.3" r="0.80" fill="#ffd020"/>
<circle cx="12.4" cy="74.0" r="0.88" fill="#f04a10"/>
<circle cx="17.6" cy="60.4" r="1.06" fill="#ffb010"/>
<circle cx="4.6" cy="50.9" r="0.81" fill="#ffb010"/>
<circle cx="14.5" cy="64.4" r="0.96" fill="#ff6a10"/>
<circle cx="15.5" cy="45.0" r="0.99" fill="#ffb010"/>
<circle cx="24.9" cy="54.2" r="0.87" fill="#ff6a10"/>
<circle cx="32.1" cy="73.9" r="1.15" fill="#ffb010"/>
<circle cx="32.5" cy="72.2" r="0.82" fill="#ffd020"/>
<circle cx="12.6" cy="64.2" r="1.04" fill="#ffd020"/>
<circle cx="8.4" cy="42.8" r="0.87" fill="#ffd020"/>
<circle cx="5.1" cy="44.1" r="1.12" fill="#ffa010"/>
<circle cx="11.3" cy="42.8" r="0.74" fill="#f8e040"/>
<circle cx="29.6" cy="67.4" r="0.94" fill="#f8e040"/>
<circle cx="13.4" cy="51.9" r="0.87" fill="#f8e040"/>
<circle cx="14.6" cy="70.3" r="0.88" fill="#ff6a10"/>
<circle cx="28.7" cy="77.0" r="0.92" fill="#ffb010"/>
<circle cx="18.9" cy="59.5" r="0.77" fill="#ff6a10"/>
<circle cx="25.6" cy="58.5" r="0.75" fill="#ff8a10"/>
<circle cx="23.2" cy="72.3" r="0.76" fill="#ffa010"/>
<circle cx="8.7" cy="41.6" r="0.99" fill="#f8e040"/>
<circle cx="28.5" cy="78.2" r="0.82" fill="#f04a10"/>
<circle cx="21.9" cy="75.0" r="0.97" fill="#f04a10"/>
<circle cx="14.5" cy="74.8" r="1.00" fill="#ff6a10"/>
<circle cx="13.2" cy="42.3" r="0.76" fill="#f8e040"/>
<circle cx="13.4" cy="69.6" r="0.90" fill="#ffd020"/>
<circle cx="22.2" cy="60.3" r="0.81" fill="#ff8a10"/>
<circle cx="28.7" cy="73.6" r="1.12" fill="#ff8a10"/>
<circle cx="0.3" cy="52.5" r="0.85" fill="#ffb010"/>
<circle cx="23.1" cy="63.8" r="0.90" fill="#ffa010"/>
<circle cx="22.5" cy="56.1" r="0.83" fill="#f04a10"/>
<circle cx="17.4" cy="72.8" r="1.08" fill="#f04a10"/>
<circle cx="3.7" cy="51.9" r="0.87" fill="#ffd020"/>
<circle cx="25.3" cy="71.9" r="0.98" fill="#ff6a10"/>
<circle cx="18.9" cy="56.3" r="0.73" fill="#ffb010"/>
<circle cx="25.8" cy="76.1" r="0.71" fill="#ff6a10"/>
<circle cx="15.4" cy="63.5" r="0.86" fill="#ffd020"/>
<circle cx="6.5" cy="42.8" r="0.75" fill="#f8e040"/>
<circle cx="19.0" cy="67.6" r="0.83" fill="#ffd020"/>
<circle cx="9.5" cy="44.7" r="0.87" fill="#ffa010"/>
<circle cx="29.7" cy="64.0" r="0.74" fill="#f8e040"/>
<circle cx="16.3" cy="47.4" r="0.95" fill="#ffd020"/>
<circle cx="8.9" cy="58.0" r="0.89" fill="#ff6a10"/>
<circle cx="29.4" cy="65.3" r="0.96" fill="#ffa010"/>
<circle cx="7.0" cy="44.2" r="1.09" fill="#f8e040"/>
<circle cx="31.8" cy="76.9" r="1.11" fill="#ff8a10"/>
<circle cx="11.7" cy="60.8" r="0.80" fill="#ffd020"/>
<circle cx="12.9" cy="77.6" r="0.96" fill="#f04a10"/>
<circle cx="24.8" cy="69.2" r="1.02" fill="#f04a10"/>
<circle cx="24.8" cy="61.8" r="1.06" fill="#ff6a10"/>
<circle cx="28.8" cy="72.7" r="1.01" fill="#ff8a10"/>
<circle cx="10.8" cy="60.5" r="1.14" fill="#ff6a10"/>
<circle cx="10.5" cy="54.6" r="0.96" fill="#f8e040"/>
<circle cx="30.2" cy="73.3" r="0.89" fill="#ff8a10"/>
<circle cx="1.0" cy="50.8" r="0.74" fill="#f8e040"/>
<circle cx="7.8" cy="49.7" r="0.86" fill="#ff8a10"/>
<circle cx="5.4" cy="46.0" r="0.83" fill="#f04a10"/>
<circle cx="31.6" cy="75.0" r="0.99" fill="#ff8a10"/>
<circle cx="22.6" cy="77.2" r="0.79" fill="#ff6a10"/>
<circle cx="19.5" cy="68.8" r="0.71" fill="#ffa010"/>
<circle cx="10.0" cy="50.4" r="1.03" fill="#ff8a10"/>
<circle cx="12.6" cy="47.9" r="1.07" fill="#f8e040"/>
<circle cx="5.0" cy="49.5" r="0.78" fill="#ffb010"/>
<circle cx="7.7" cy="58.1" r="1.05" fill="#ffb010"/>
<circle cx="19.3" cy="78.3" r="0.99" fill="#ff8a10"/>
<circle cx="10.3" cy="56.4" r="0.75" fill="#f8e040"/>
<circle cx="15.4" cy="49.0" r="1.03" fill="#ffa010"/>
<circle cx="20.9" cy="68.6" r="1.09" fill="#ffa010"/>
<circle cx="10.0" cy="63.9" r="0.81" fill="#ffa010"/>
<circle cx="3.9" cy="50.0" r="0.82" fill="#ff8a10"/>
<circle cx="3.4" cy="54.1" r="0.96" fill="#ff6a10"/>
<circle cx="15.9" cy="53.2" r="0.96" fill="#ffa010"/>
<circle cx="19.3" cy="59.9" r="0.98" fill="#ff8a10"/>
<circle cx="16.9" cy="74.2" r="1.06" fill="#f8e040"/>
<circle cx="22.1" cy="64.1" r="0.75" fill="#ffa010"/>
<circle cx="21.6" cy="75.1" r="0.89" fill="#ff6a10"/>
<circle cx="18.3" cy="60.0" r="1.08" fill="#ff8a10"/>
<circle cx="26.1" cy="57.8" r="1.08" fill="#f04a10"/>
<circle cx="18.2" cy="67.1" r="0.72" fill="#f8e040"/>
<circle cx="31.4" cy="76.0" r="0.74" fill="#ffa010"/>
<circle cx="30.7" cy="69.0" r="0.91" fill="#ffd020"/>
<circle cx="19.4" cy="53.4" r="0.75" fill="#ff8a10"/>
<circle cx="12.7" cy="50.0" r="0.91" fill="#ff8a10"/>
<circle cx="80.2" cy="9.1" r="0.70" fill="#c8dc30"/>
<circle cx="55.0" cy="35.5" r="0.86" fill="#58d838"/>
<circle cx="79.5" cy="21.1" r="0.74" fill="#50d040"/>
<circle cx="85.5" cy="20.2" r="0.59" fill="#c8dc30"/>
<circle cx="91.5" cy="17.3" r="0.74" fill="#6fdc30"/>
<circle cx="64.3" cy="40.0" r="0.74" fill="#50d040"/>
<circle cx="70.0" cy="36.8" r="0.79" fill="#6fdc30"/>
<circle cx="45.6" cy="60.6" r="0.66" fill="#6fdc30"/>
<circle cx="58.4" cy="54.8" r="0.83" fill="#c8dc30"/>
<circle cx="60.0" cy="54.1" r="0.68" fill="#6fdc30"/>
<circle cx="74.0" cy="51.9" r="0.87" fill="#9ce030"/>
<circle cx="76.0" cy="51.2" r="0.65" fill="#50d040"/>
<circle cx="88.0" cy="46.3" r="0.59" fill="#9ce030"/>
<circle cx="61.7" cy="57.3" r="0.87" fill="#50d040"/>
<circle cx="70.4" cy="61.2" r="0.74" fill="#6fdc30"/>
<circle cx="54.7" cy="51.4" r="0.80" fill="#c8dc30"/>
<circle cx="60.9" cy="54.3" r="0.59" fill="#6fdc30"/>
<circle cx="77.2" cy="26.7" r="0.88" fill="#50d040"/>
<circle cx="12.1" cy="22.8" r="0.88" fill="#58d838"/>
<circle cx="65.2" cy="28.6" r="0.68" fill="#6fdc30"/>
<circle cx="60.4" cy="66.2" r="0.57" fill="#50d040"/>
<circle cx="81.8" cy="13.8" r="0.88" fill="#9ce030"/>
<circle cx="63.1" cy="15.8" r="0.69" fill="#50d040"/>
<circle cx="19.1" cy="71.6" r="0.80" fill="#50d040"/>
<circle cx="49.4" cy="40.6" r="0.59" fill="#50d040"/>
<circle cx="32.3" cy="60.2" r="0.85" fill="#58d838"/>
<circle cx="37.6" cy="20.2" r="0.58" fill="#58d838"/>
<circle cx="31.9" cy="26.2" r="0.81" fill="#50d040"/>
<circle cx="66.6" cy="3.2" r="0.61" fill="#6fdc30"/>
<circle cx="15.7" cy="39.7" r="0.55" fill="#58d838"/>
<circle cx="27.5" cy="52.5" r="0.60" fill="#c8dc30"/>
<circle cx="18.2" cy="46.8" r="0.85" fill="#c8dc30"/>
<circle cx="42.1" cy="14.9" r="0.60" fill="#9ce030"/>
<circle cx="30.6" cy="68.4" r="0.83" fill="#c8dc30"/>
<circle cx="33.9" cy="49.6" r="0.79" fill="#50d040"/>
<circle cx="19.0" cy="46.7" r="0.63" fill="#6fdc30"/>
<circle cx="29.3" cy="9.7" r="0.71" fill="#c8dc30"/>
<circle cx="22.6" cy="1.6" r="0.68" fill="#50d040"/>
<circle cx="53.7" cy="2.9" r="0.64" fill="#6fdc30"/>
<circle cx="63.5" cy="11.8" r="0.79" fill="#9ce030"/>
<circle cx="36.6" cy="25.6" r="0.88" fill="#9ce030"/>
<circle cx="19.2" cy="20.8" r="0.56" fill="#9ce030"/>
<circle cx="39.1" cy="53.3" r="0.80" fill="#c8dc30"/>
<circle cx="62.2" cy="17.6" r="0.78" fill="#6fdc30"/>
<circle cx="72.5" cy="1.9" r="0.61" fill="#c8dc30"/>
<circle cx="3.4" cy="51.9" r="0.88" fill="#c8dc30"/>
<circle cx="23.8" cy="33.9" r="0.63" fill="#c8dc30"/>
<circle cx="43.3" cy="2.1" r="0.87" fill="#9ce030"/>
<circle cx="44.5" cy="5.2" r="0.77" fill="#c8dc30"/>
<circle cx="21.6" cy="62.7" r="0.80" fill="#9ce030"/>
<circle cx="28.7" cy="49.5" r="0.77" fill="#50d040"/>
<circle cx="19.1" cy="32.6" r="0.56" fill="#9ce030"/>
<circle cx="41.0" cy="39.3" r="0.75" fill="#6fdc30"/>
<circle cx="18.4" cy="39.2" r="0.81" fill="#58d838"/>
<circle cx="25.6" cy="6.5" r="0.73" fill="#50d040"/>
<circle cx="14.1" cy="13.7" r="0.87" fill="#9ce030"/>
<circle cx="41.4" cy="62.3" r="0.69" fill="#58d838"/>
<circle cx="32.9" cy="56.8" r="0.82" fill="#c8dc30"/>
<circle cx="45.6" cy="41.6" r="0.70" fill="#9ce030"/>
<circle cx="38.9" cy="26.0" r="0.56" fill="#c8dc30"/>
<circle cx="35.2" cy="75.7" r="0.62" fill="#9ce030"/>
<circle cx="69.8" cy="4.7" r="0.81" fill="#50d040"/>
<circle cx="38.2" cy="51.5" r="0.78" fill="#c8dc30"/>
<circle cx="32.1" cy="72.6" r="0.65" fill="#6fdc30"/>
<circle cx="23.1" cy="-3.1" r="0.64" fill="#58d838"/>
<circle cx="23.0" cy="25.6" r="0.73" fill="#c8dc30"/>
<circle cx="71.7" cy="15.3" r="0.66" fill="#c8dc30"/>
<circle cx="50.4" cy="10.2" r="0.64" fill="#c8dc30"/>
<circle cx="18.7" cy="29.9" r="0.90" fill="#58d838"/>
<circle cx="26.0" cy="21.1" r="0.77" fill="#c8dc30"/>
<circle cx="9.7" cy="55.0" r="0.80" fill="#58d838"/>
<circle cx="11.4" cy="23.4" r="0.58" fill="#50d040"/>
<circle cx="41.5" cy="36.8" r="0.68" fill="#9ce030"/>
<circle cx="32.2" cy="21.8" r="0.89" fill="#58d838"/>
<circle cx="24.1" cy="24.3" r="0.55" fill="#c8dc30"/>
<circle cx="55.1" cy="13.9" r="0.64" fill="#6fdc30"/>
<circle cx="38.4" cy="70.8" r="0.58" fill="#50d040"/>
<circle cx="31.3" cy="9.8" r="0.70" fill="#6fdc30"/>
<circle cx="48.2" cy="20.2" r="0.67" fill="#58d838"/>
<circle cx="58.2" cy="9.2" r="0.58" fill="#58d838"/>
<circle cx="34.2" cy="61.7" r="0.65" fill="#9ce030"/>
<circle cx="32.2" cy="58.9" r="0.67" fill="#c8dc30"/>
<circle cx="31.9" cy="14.4" r="0.57" fill="#9ce030"/>
<circle cx="73.0" cy="12.5" r="0.56" fill="#6fdc30"/>
<circle cx="17.1" cy="50.2" r="0.67" fill="#6fdc30"/>
<circle cx="24.2" cy="32.7" r="0.68" fill="#c8dc30"/>
<circle cx="68.6" cy="10.8" r="0.87" fill="#6fdc30"/>
<circle cx="36.0" cy="41.0" r="0.79" fill="#50d040"/>
<circle cx="32.0" cy="35.9" r="0.56" fill="#50d040"/>
<circle cx="16.6" cy="33.5" r="0.88" fill="#9ce030"/>
<circle cx="24.1" cy="70.7" r="0.86" fill="#6fdc30"/>
<circle cx="19.2" cy="61.0" r="0.66" fill="#6fdc30"/>
<circle cx="37.7" cy="50.4" r="0.74" fill="#c8dc30"/>
<circle cx="23.3" cy="37.0" r="0.82" fill="#50d040"/>
<circle cx="44.4" cy="57.8" r="0.72" fill="#6fdc30"/>
<circle cx="54.6" cy="22.3" r="0.63" fill="#6fdc30"/>
<circle cx="8.3" cy="29.9" r="0.67" fill="#50d040"/>
<circle cx="7.4" cy="48.0" r="0.58" fill="#58d838"/>
<circle cx="45.2" cy="47.9" r="0.77" fill="#50d040"/>
<circle cx="36.7" cy="55.8" r="0.58" fill="#6fdc30"/>
<circle cx="20.8" cy="68.3" r="0.78" fill="#6fdc30"/>
<circle cx="36.3" cy="33.8" r="0.71" fill="#58d838"/>
<circle cx="56.3" cy="27.0" r="0.89" fill="#9ce030"/>
<circle cx="7.5" cy="28.9" r="0.89" fill="#6fdc30"/>
<circle cx="44.6" cy="52.7" r="0.68" fill="#c8dc30"/>
<circle cx="63.7" cy="33.9" r="0.66" fill="#9ce030"/>
<circle cx="23.3" cy="40.9" r="0.67" fill="#9ce030"/>
<circle cx="17.9" cy="71.3" r="0.62" fill="#58d838"/>
<circle cx="43.1" cy="62.1" r="0.82" fill="#9ce030"/>
<circle cx="41.1" cy="40.8" r="0.65" fill="#c8dc30"/>
<circle cx="14.3" cy="17.0" r="0.80" fill="#50d040"/>
<circle cx="40.9" cy="3.6" r="0.60" fill="#50d040"/>
<circle cx="27.0" cy="3.1" r="0.71" fill="#6fdc30"/>
<circle cx="43.7" cy="28.7" r="0.88" fill="#6fdc30"/>
<circle cx="47.2" cy="33.4" r="0.84" fill="#9ce030"/>
<circle cx="11.0" cy="35.9" r="0.69" fill="#6fdc30"/>
<circle cx="27.9" cy="51.4" r="0.85" fill="#6fdc30"/>
<circle cx="8.7" cy="26.6" r="0.62" fill="#50d040"/>
<circle cx="44.9" cy="49.1" r="0.72" fill="#6fdc30"/>
<circle cx="7.2" cy="30.4" r="0.81" fill="#c8dc30"/>
<circle cx="10.9" cy="32.0" r="0.67" fill="#58d838"/>
<circle cx="8.8" cy="44.9" r="0.79" fill="#6fdc30"/>
<circle cx="39.6" cy="63.7" r="0.69" fill="#58d838"/>
<circle cx="46.4" cy="0.6" r="0.67" fill="#c8dc30"/>
<circle cx="43.2" cy="15.2" r="0.81" fill="#c8dc30"/>
<circle cx="21.0" cy="7.8" r="0.77" fill="#9ce030"/>
<circle cx="18.4" cy="12.8" r="0.80" fill="#c8dc30"/>
<circle cx="39.2" cy="44.8" r="0.76" fill="#58d838"/>
<circle cx="67.4" cy="17.7" r="0.59" fill="#6fdc30"/>
<circle cx="47.5" cy="25.1" r="0.56" fill="#6fdc30"/>
<circle cx="44.4" cy="10.5" r="0.75" fill="#50d040"/>
<circle cx="19.1" cy="31.7" r="0.74" fill="#58d838"/>
<circle cx="15.6" cy="49.8" r="0.69" fill="#58d838"/>
<circle cx="54.2" cy="16.4" r="0.73" fill="#9ce030"/>
<circle cx="30.2" cy="34.9" r="0.70" fill="#6fdc30"/>
<circle cx="16.6" cy="35.8" r="0.75" fill="#9ce030"/>
<circle cx="49.1" cy="9.9" r="0.59" fill="#50d040"/>
<circle cx="55.7" cy="1.6" r="0.73" fill="#50d040"/>
<circle cx="17.0" cy="7.5" r="0.74" fill="#50d040"/>
<circle cx="63.7" cy="18.6" r="0.63" fill="#58d838"/>
<circle cx="9.7" cy="33.0" r="0.68" fill="#50d040"/>
<circle cx="37.5" cy="36.0" r="0.80" fill="#c8dc30"/>
<circle cx="13.2" cy="9.5" r="0.90" fill="#9ce030"/>
<circle cx="5.7" cy="46.5" r="0.83" fill="#50d040"/>
<circle cx="29.5" cy="1.6" r="0.83" fill="#9ce030"/>
<circle cx="56.8" cy="5.7" r="0.71" fill="#50d040"/>
<circle cx="60.8" cy="22.1" r="0.83" fill="#9ce030"/>
<circle cx="59.3" cy="9.8" r="0.75" fill="#50d040"/>
<circle cx="51.6" cy="47.5" r="0.67" fill="#c8dc30"/>
<circle cx="11.5" cy="50.5" r="0.85" fill="#6fdc30"/>
<circle cx="2.1" cy="53.7" r="0.68" fill="#50d040"/>
<circle cx="58.2" cy="-3.7" r="0.72" fill="#6fdc30"/>
<circle cx="54.4" cy="33.6" r="0.56" fill="#9ce030"/>
<circle cx="43.8" cy="39.7" r="0.89" fill="#58d838"/>
<circle cx="9.0" cy="35.2" r="0.59" fill="#58d838"/>
<circle cx="62.5" cy="11.3" r="0.85" fill="#58d838"/>
<circle cx="10.1" cy="18.7" r="0.71" fill="#9ce030"/>
<circle cx="5.1" cy="54.1" r="0.58" fill="#6fdc30"/>
<circle cx="42.1" cy="62.5" r="0.65" fill="#50d040"/>
<circle cx="53.8" cy="18.9" r="0.57" fill="#c8dc30"/>
<circle cx="10.5" cy="28.4" r="0.85" fill="#58d838"/>
<circle cx="26.3" cy="22.6" r="0.57" fill="#50d040"/>
<circle cx="4.4" cy="25.3" r="0.85" fill="#58d838"/>
<circle cx="5.4" cy="24.6" r="0.66" fill="#58d838"/>
<circle cx="29.7" cy="61.2" r="0.73" fill="#6fdc30"/>
<circle cx="34.8" cy="34.0" r="0.65" fill="#9ce030"/>
<circle cx="27.1" cy="3.5" r="0.58" fill="#6fdc30"/>
<circle cx="41.5" cy="10.3" r="0.74" fill="#9ce030"/>
<circle cx="12.2" cy="54.0" r="0.60" fill="#50d040"/>
<circle cx="45.9" cy="41.3" r="0.75" fill="#6fdc30"/>
</g>
<g filter="url(#b1)"><polygon points="-1.3,54.4 4.0,55.2 8.7,60.6 11.3,70.2 12.5,80.6 -1.3,80.6" fill="#1f6e3c" opacity="0.95"/></g>
<rect x="67.1" y="74.6" width="21.4" height="1.4" fill="#fff"/>
</svg>
<svg x="210.9" y="412.9" width="92.1" height="79.0" viewBox="0 0 92.1 79.0" overflow="hidden"><rect width="92.1" height="79.0" fill="#050908"/>
<g fill="#52d242" stroke="#52d242" stroke-linecap="round">
<circle cx="73.3" cy="10.7" r="1.12" stroke="none"/>
<circle cx="76.2" cy="9.2" r="1.11" stroke="none"/>
<circle cx="82.3" cy="8.9" r="0.85" stroke="none"/>
<circle cx="89.3" cy="4.2" r="0.95" stroke="none"/>
<line x1="55.0" y1="35.5" x2="55.7" y2="34.7" stroke-width="1.7"/>
<circle cx="58.4" cy="34.0" r="0.87" stroke="none"/>
<circle cx="62.2" cy="33.0" r="0.83" stroke="none"/>
<line x1="67.8" y1="28.4" x2="69.6" y2="27.9" stroke-width="1.7"/>
<line x1="71.2" y1="27.5" x2="72.4" y2="27.0" stroke-width="1.7"/>
<circle cx="73.6" cy="25.1" r="0.87" stroke="none"/>
<line x1="77.8" y1="21.8" x2="79.5" y2="21.1" stroke-width="1.7"/>
<line x1="80.9" y1="21.1" x2="81.9" y2="21.2" stroke-width="1.7"/>
<circle cx="83.9" cy="20.9" r="1.16" stroke="none"/>
<circle cx="87.5" cy="19.3" r="0.87" stroke="none"/>
<circle cx="91.5" cy="17.3" r="0.93" stroke="none"/>
<line x1="61.4" y1="40.6" x2="62.6" y2="40.3" stroke-width="1.7"/>
<circle cx="68.0" cy="38.7" r="0.93" stroke="none"/>
<circle cx="72.0" cy="35.1" r="0.82" stroke="none"/>
<circle cx="77.8" cy="34.8" r="0.94" stroke="none"/>
<circle cx="80.2" cy="34.3" r="0.97" stroke="none"/>
<circle cx="87.9" cy="31.7" r="0.80" stroke="none"/>
<circle cx="45.6" cy="60.6" r="1.18" stroke="none"/>
<circle cx="49.2" cy="59.2" r="1.17" stroke="none"/>
<circle cx="55.1" cy="57.9" r="1.16" stroke="none"/>
<line x1="62.2" y1="54.1" x2="64.4" y2="54.2" stroke-width="1.7"/>
<line x1="70.0" y1="53.3" x2="71.8" y2="52.6" stroke-width="1.7"/>
<circle cx="76.0" cy="51.2" r="1.04" stroke="none"/>
<circle cx="79.5" cy="50.6" r="1.17" stroke="none"/>
<circle cx="84.6" cy="48.5" r="0.93" stroke="none"/>
<circle cx="86.5" cy="47.3" r="1.09" stroke="none"/>
<circle cx="90.7" cy="44.8" r="0.86" stroke="none"/>
<circle cx="61.7" cy="57.3" r="1.01" stroke="none"/>
<line x1="68.9" y1="60.9" x2="70.4" y2="61.2" stroke-width="1.7"/>
<circle cx="73.3" cy="61.8" r="0.98" stroke="none"/>
<line x1="54.7" y1="51.4" x2="55.7" y2="52.0" stroke-width="1.7"/>
<circle cx="58.9" cy="53.7" r="0.93" stroke="none"/>
<circle cx="60.9" cy="54.3" r="1.03" stroke="none"/>
<circle cx="65.1" cy="54.0" r="1.12" stroke="none"/>
<circle cx="75.1" cy="26.3" r="0.86" stroke="none"/>
<line x1="81.9" y1="25.6" x2="83.6" y2="25.3" stroke-width="1.7"/>
<circle cx="6.9" cy="21.8" r="1.08" stroke="none"/>
<line x1="13.2" y1="22.8" x2="14.2" y2="22.9" stroke-width="1.7"/>
<circle cx="62.5" cy="22.9" r="0.85" stroke="none"/>
<circle cx="64.4" cy="26.6" r="1.00" stroke="none"/>
<line x1="49.5" y1="62.6" x2="50.4" y2="62.6" stroke-width="1.7"/>
<circle cx="54.6" cy="64.4" r="1.02" stroke="none"/>
<circle cx="56.7" cy="65.3" r="1.11" stroke="none"/>
<circle cx="60.4" cy="66.2" r="0.95" stroke="none"/>
<line x1="74.0" y1="16.6" x2="76.0" y2="16.7" stroke-width="1.7"/>
<circle cx="81.0" cy="14.9" r="0.94" stroke="none"/>
<circle cx="71.3" cy="17.1" r="1.11" stroke="none"/>
<circle cx="65.8" cy="16.2" r="0.99" stroke="none"/>
<line x1="20.3" y1="71.3" x2="21.3" y2="70.3" stroke-width="1.7"/>
<circle cx="47.0" cy="39.4" r="1.14" stroke="none"/>
<circle cx="18.2" cy="13.0" r="1.01" stroke="none"/>
<circle cx="18.6" cy="9.1" r="0.94" stroke="none"/>
<circle cx="35.5" cy="54.8" r="1.09" stroke="none"/>
<circle cx="32.3" cy="60.6" r="1.11" stroke="none"/>
<circle cx="36.2" cy="20.0" r="1.11" stroke="none"/>
<line x1="24.2" y1="23.3" x2="25.6" y2="23.5" stroke-width="1.7"/>
<circle cx="29.6" cy="24.7" r="0.87" stroke="none"/>
<circle cx="66.6" cy="3.2" r="1.19" stroke="none"/>
<line x1="67.4" y1="-0.9" x2="67.8" y2="-2.3" stroke-width="1.7"/>
<circle cx="69.1" cy="-4.7" r="1.19" stroke="none"/>
<circle cx="49.1" cy="22.3" r="0.97" stroke="none"/>
<circle cx="54.3" cy="20.2" r="1.04" stroke="none"/>
<circle cx="53.6" cy="20.8" r="0.95" stroke="none"/>
<circle cx="53.6" cy="15.8" r="0.91" stroke="none"/>
<circle cx="12.4" cy="42.5" r="1.02" stroke="none"/>
<circle cx="15.7" cy="39.9" r="0.92" stroke="none"/>
<circle cx="24.9" cy="53.8" r="0.92" stroke="none"/>
<circle cx="9.9" cy="47.3" r="1.13" stroke="none"/>
<circle cx="15.4" cy="47.5" r="0.86" stroke="none"/>
<circle cx="31.1" cy="77.5" r="1.19" stroke="none"/>
<circle cx="35.1" cy="77.0" r="1.16" stroke="none"/>
<line x1="37.2" y1="31.1" x2="38.5" y2="30.6" stroke-width="1.7"/>
<circle cx="41.3" cy="30.7" r="1.15" stroke="none"/>
<circle cx="42.0" cy="17.8" r="0.89" stroke="none"/>
<circle cx="24.5" cy="71.2" r="0.95" stroke="none"/>
<circle cx="28.4" cy="70.6" r="0.90" stroke="none"/>
<line x1="14.3" y1="42.2" x2="14.4" y2="40.8" stroke-width="1.7"/>
<circle cx="14.1" cy="38.1" r="1.19" stroke="none"/>
<line x1="32.6" y1="50.4" x2="33.9" y2="50.0" stroke-width="1.7"/>
<circle cx="19.0" cy="47.0" r="1.18" stroke="none"/>
<line x1="21.6" y1="43.7" x2="22.2" y2="42.5" stroke-width="1.7"/>
<circle cx="22.5" cy="39.7" r="0.81" stroke="none"/>
<circle cx="25.5" cy="15.5" r="1.11" stroke="none"/>
<circle cx="27.9" cy="12.2" r="1.14" stroke="none"/>
<circle cx="22.2" cy="0.3" r="1.20" stroke="none"/>
<circle cx="21.7" cy="-3.8" r="0.85" stroke="none"/>
<circle cx="49.7" cy="3.8" r="1.09" stroke="none"/>
<circle cx="53.7" cy="2.9" r="0.94" stroke="none"/>
<line x1="69.4" y1="15.5" x2="68.2" y2="14.8" stroke-width="1.7"/>
<circle cx="64.8" cy="12.4" r="0.84" stroke="none"/>
<circle cx="32.8" cy="23.9" r="1.12" stroke="none"/>
<circle cx="19.2" cy="20.9" r="1.07" stroke="none"/>
<circle cx="21.7" cy="17.8" r="0.99" stroke="none"/>
<circle cx="39.1" cy="53.7" r="1.08" stroke="none"/>
<circle cx="59.0" cy="14.5" r="0.99" stroke="none"/>
<line x1="62.2" y1="17.7" x2="61.5" y2="18.9" stroke-width="1.7"/>
<circle cx="57.7" cy="20.7" r="1.02" stroke="none"/>
<line x1="72.5" y1="1.9" x2="73.6" y2="1.0" stroke-width="1.7"/>
<line x1="75.7" y1="-0.8" x2="77.0" y2="-1.4" stroke-width="1.7"/>
<circle cx="8.5" cy="32.2" r="0.81" stroke="none"/>
<circle cx="3.4" cy="52.2" r="1.08" stroke="none"/>
<line x1="6.0" y1="49.0" x2="6.6" y2="47.8" stroke-width="1.7"/>
<circle cx="6.9" cy="45.0" r="1.06" stroke="none"/>
<circle cx="23.8" cy="34.1" r="1.08" stroke="none"/>
<line x1="36.5" y1="1.3" x2="37.8" y2="1.8" stroke-width="1.7"/>
<circle cx="40.5" cy="1.6" r="0.86" stroke="none"/>
<circle cx="44.5" cy="5.2" r="1.06" stroke="none"/>
<line x1="47.2" y1="2.0" x2="48.2" y2="1.1" stroke-width="1.7"/>
<circle cx="22.7" cy="62.3" r="0.85" stroke="none"/>
<circle cx="28.7" cy="49.8" r="1.04" stroke="none"/>
<circle cx="20.3" cy="38.1" r="0.95" stroke="none"/>
<line x1="19.6" y1="34.2" x2="19.1" y2="32.9" stroke-width="1.7"/>
<circle cx="38.3" cy="10.5" r="1.07" stroke="none"/>
<line x1="41.0" y1="39.5" x2="41.7" y2="38.3" stroke-width="1.7"/>
<line x1="42.6" y1="35.7" x2="43.3" y2="34.5" stroke-width="1.7"/>
<circle cx="42.2" cy="40.6" r="1.15" stroke="none"/>
<line x1="21.4" y1="44.9" x2="21.7" y2="43.5" stroke-width="1.7"/>
<circle cx="20.8" cy="40.9" r="0.83" stroke="none"/>
<circle cx="20.9" cy="9.6" r="1.00" stroke="none"/>
<circle cx="8.7" cy="19.7" r="0.99" stroke="none"/>
<line x1="12.7" y1="16.1" x2="13.2" y2="14.8" stroke-width="1.7"/>
<line x1="34.6" y1="61.6" x2="36.0" y2="62.0" stroke-width="1.7"/>
<circle cx="38.7" cy="62.3" r="0.97" stroke="none"/>
<line x1="48.8" y1="13.6" x2="49.4" y2="12.4" stroke-width="1.7"/>
<circle cx="51.0" cy="8.6" r="0.86" stroke="none"/>
<circle cx="31.1" cy="61.0" r="0.92" stroke="none"/>
<circle cx="33.7" cy="56.0" r="0.95" stroke="none"/>
<circle cx="44.7" cy="42.9" r="0.97" stroke="none"/>
<circle cx="39.3" cy="16.4" r="1.03" stroke="none"/>
<circle cx="42.7" cy="14.0" r="0.84" stroke="none"/>
<line x1="34.8" y1="22.6" x2="36.0" y2="23.3" stroke-width="1.7"/>
<circle cx="38.3" cy="24.9" r="1.17" stroke="none"/>
<circle cx="35.2" cy="76.2" r="0.92" stroke="none"/>
<circle cx="37.5" cy="69.7" r="0.98" stroke="none"/>
<circle cx="39.8" cy="52.1" r="0.83" stroke="none"/>
<line x1="70.8" y1="3.8" x2="71.7" y2="2.7" stroke-width="1.7"/>
<line x1="36.3" y1="57.1" x2="36.7" y2="55.8" stroke-width="1.7"/>
<circle cx="37.6" cy="53.1" r="1.07" stroke="none"/>
<circle cx="39.7" cy="49.6" r="0.81" stroke="none"/>
<circle cx="32.7" cy="71.8" r="1.08" stroke="none"/>
<circle cx="32.9" cy="65.4" r="1.18" stroke="none"/>
<line x1="20.2" y1="1.6" x2="20.6" y2="0.2" stroke-width="1.7"/>
<circle cx="22.5" cy="-1.9" r="0.87" stroke="none"/>
<circle cx="69.6" cy="8.5" r="1.06" stroke="none"/>
<circle cx="24.4" cy="25.9" r="0.87" stroke="none"/>
<line x1="29.5" y1="27.1" x2="30.6" y2="28.0" stroke-width="1.7"/>
<circle cx="71.7" cy="15.4" r="0.87" stroke="none"/>
<circle cx="74.1" cy="18.7" r="1.06" stroke="none"/>
<line x1="50.2" y1="11.7" x2="50.5" y2="13.0" stroke-width="1.7"/>
<circle cx="52.5" cy="27.6" r="0.96" stroke="none"/>
<circle cx="15.4" cy="32.7" r="1.20" stroke="none"/>
<circle cx="19.1" cy="28.8" r="1.09" stroke="none"/>
<line x1="23.0" y1="25.9" x2="23.6" y2="24.7" stroke-width="1.7"/>
<circle cx="26.0" cy="21.3" r="0.90" stroke="none"/>
<circle cx="9.7" cy="55.3" r="0.82" stroke="none"/>
<circle cx="11.6" cy="22.2" r="1.06" stroke="none"/>
<circle cx="14.3" cy="19.0" r="0.88" stroke="none"/>
<circle cx="39.8" cy="33.3" r="0.83" stroke="none"/>
<line x1="27.3" y1="30.0" x2="27.4" y2="28.6" stroke-width="1.7"/>
<circle cx="28.5" cy="26.1" r="1.14" stroke="none"/>
<circle cx="31.4" cy="23.1" r="0.98" stroke="none"/>
<circle cx="34.7" cy="28.8" r="1.11" stroke="none"/>
<circle cx="17.7" cy="26.8" r="0.92" stroke="none"/>
<circle cx="24.1" cy="24.5" r="1.20" stroke="none"/>
<circle cx="55.1" cy="14.0" r="0.84" stroke="none"/>
<circle cx="55.6" cy="8.6" r="0.93" stroke="none"/>
<circle cx="37.4" cy="75.1" r="1.08" stroke="none"/>
<line x1="31.3" y1="9.9" x2="32.6" y2="9.2" stroke-width="1.7"/>
<circle cx="35.8" cy="6.7" r="0.82" stroke="none"/>
<circle cx="48.4" cy="18.9" r="1.15" stroke="none"/>
<circle cx="49.3" cy="14.9" r="0.93" stroke="none"/>
<circle cx="58.7" cy="6.5" r="1.10" stroke="none"/>
<line x1="38.3" y1="62.0" x2="36.9" y2="62.2" stroke-width="1.7"/>
<circle cx="34.2" cy="62.1" r="1.08" stroke="none"/>
<circle cx="33.6" cy="61.7" r="0.95" stroke="none"/>
<circle cx="32.2" cy="57.9" r="0.92" stroke="none"/>
<circle cx="30.8" cy="17.1" r="0.93" stroke="none"/>
<circle cx="68.8" cy="12.2" r="1.10" stroke="none"/>
<line x1="73.0" y1="12.6" x2="74.3" y2="12.3" stroke-width="1.7"/>
<circle cx="76.6" cy="10.7" r="1.13" stroke="none"/>
<circle cx="16.9" cy="56.1" r="1.04" stroke="none"/>
<circle cx="17.4" cy="51.9" r="0.85" stroke="none"/>
<circle cx="23.5" cy="37.0" r="0.87" stroke="none"/>
<circle cx="24.2" cy="33.0" r="0.84" stroke="none"/>
<circle cx="12.5" cy="75.6" r="1.18" stroke="none"/>
<circle cx="17.5" cy="70.9" r="0.93" stroke="none"/>
<circle cx="67.2" cy="10.8" r="0.87" stroke="none"/>
<circle cx="36.0" cy="41.3" r="1.19" stroke="none"/>
<circle cx="33.3" cy="44.3" r="1.13" stroke="none"/>
<line x1="32.2" y1="37.5" x2="32.0" y2="36.1" stroke-width="1.7"/>
<line x1="31.7" y1="33.4" x2="30.9" y2="32.2" stroke-width="1.7"/>
<circle cx="29.5" cy="29.9" r="1.15" stroke="none"/>
<line x1="16.5" y1="40.6" x2="16.9" y2="39.3" stroke-width="1.7"/>
<circle cx="16.8" cy="35.1" r="0.92" stroke="none"/>
<circle cx="19.2" cy="73.5" r="1.12" stroke="none"/>
<circle cx="22.9" cy="71.8" r="0.96" stroke="none"/>
<circle cx="19.7" cy="64.1" r="1.00" stroke="none"/>
<line x1="18.9" y1="60.0" x2="18.6" y2="58.7" stroke-width="1.7"/>
<circle cx="37.7" cy="50.7" r="0.91" stroke="none"/>
<circle cx="72.8" cy="11.7" r="0.99" stroke="none"/>
<circle cx="72.2" cy="7.6" r="0.95" stroke="none"/>
<circle cx="4.8" cy="38.1" r="1.03" stroke="none"/>
<circle cx="0.9" cy="39.5" r="0.81" stroke="none"/>
<circle cx="24.4" cy="36.4" r="1.00" stroke="none"/>
<circle cx="41.6" cy="55.0" r="1.13" stroke="none"/>
<circle cx="44.4" cy="58.1" r="1.12" stroke="none"/>
<circle cx="55.9" cy="30.0" r="1.01" stroke="none"/>
<line x1="53.8" y1="25.1" x2="53.9" y2="23.7" stroke-width="1.7"/>
<circle cx="8.3" cy="30.1" r="1.04" stroke="none"/>
<circle cx="12.6" cy="35.4" r="1.17" stroke="none"/>
<line x1="2.9" y1="51.6" x2="4.3" y2="51.7" stroke-width="1.7"/>
<circle cx="6.7" cy="50.5" r="1.18" stroke="none"/>
<circle cx="7.4" cy="48.3" r="0.84" stroke="none"/>
<circle cx="8.6" cy="44.4" r="1.19" stroke="none"/>
<circle cx="44.0" cy="47.4" r="1.07" stroke="none"/>
<circle cx="43.2" cy="41.0" r="1.06" stroke="none"/>
<circle cx="33.1" cy="60.2" r="0.84" stroke="none"/>
<circle cx="36.4" cy="56.0" r="0.84" stroke="none"/>
<circle cx="38.0" cy="55.7" r="1.12" stroke="none"/>
<circle cx="42.1" cy="55.1" r="0.87" stroke="none"/>
<line x1="12.6" y1="70.2" x2="14.0" y2="69.8" stroke-width="1.7"/>
<circle cx="16.8" cy="69.7" r="1.05" stroke="none"/>
<line x1="43.0" y1="60.2" x2="42.0" y2="61.2" stroke-width="1.7"/>
<circle cx="32.3" cy="35.2" r="0.91" stroke="none"/>
<circle cx="55.1" cy="35.4" r="0.86" stroke="none"/>
<circle cx="56.4" cy="30.0" r="1.04" stroke="none"/>
<line x1="8.4" y1="28.0" x2="8.7" y2="26.7" stroke-width="1.7"/>
<circle cx="8.8" cy="23.9" r="1.08" stroke="none"/>
<circle cx="38.4" cy="51.4" r="0.86" stroke="none"/>
<circle cx="42.5" cy="51.3" r="1.14" stroke="none"/>
<circle cx="34.0" cy="36.0" r="1.05" stroke="none"/>
<circle cx="30.7" cy="42.0" r="0.80" stroke="none"/>
<line x1="31.4" y1="4.2" x2="32.8" y2="4.1" stroke-width="1.7"/>
<circle cx="35.5" cy="4.8" r="1.10" stroke="none"/>
<circle cx="57.0" cy="34.1" r="1.12" stroke="none"/>
<circle cx="61.0" cy="34.8" r="1.13" stroke="none"/>
<circle cx="23.3" cy="41.2" r="0.87" stroke="none"/>
<line x1="26.6" y1="38.8" x2="28.0" y2="38.6" stroke-width="1.7"/>
<line x1="14.9" y1="74.6" x2="16.1" y2="74.0" stroke-width="1.7"/>
<circle cx="19.1" cy="71.1" r="0.80" stroke="none"/>
<circle cx="39.2" cy="63.9" r="0.83" stroke="none"/>
<line x1="34.3" y1="45.7" x2="35.2" y2="44.6" stroke-width="1.7"/>
<circle cx="39.0" cy="42.9" r="1.10" stroke="none"/>
<circle cx="14.0" cy="18.5" r="0.92" stroke="none"/>
<circle cx="43.1" cy="8.8" r="0.92" stroke="none"/>
<circle cx="40.9" cy="3.6" r="0.83" stroke="none"/>
<line x1="20.9" y1="6.1" x2="22.0" y2="5.2" stroke-width="1.7"/>
<line x1="24.2" y1="3.5" x2="25.6" y2="3.1" stroke-width="1.7"/>
<line x1="37.5" y1="34.2" x2="38.6" y2="33.4" stroke-width="1.7"/>
<circle cx="40.9" cy="31.9" r="0.97" stroke="none"/>
<circle cx="43.7" cy="29.0" r="0.95" stroke="none"/>
<circle cx="32.9" cy="18.0" r="0.85" stroke="none"/>
<line x1="30.1" y1="14.9" x2="29.2" y2="13.9" stroke-width="1.7"/>
<circle cx="47.2" cy="32.2" r="0.81" stroke="none"/>
<circle cx="9.4" cy="38.4" r="0.83" stroke="none"/>
<line x1="11.5" y1="34.8" x2="11.3" y2="33.4" stroke-width="1.7"/>
<circle cx="27.9" cy="51.8" r="0.83" stroke="none"/>
<circle cx="32.5" cy="48.8" r="1.14" stroke="none"/>
<line x1="31.5" y1="47.5" x2="32.7" y2="46.7" stroke-width="1.7"/>
<circle cx="36.8" cy="46.0" r="1.00" stroke="none"/>
<line x1="8.7" y1="26.8" x2="9.3" y2="25.5" stroke-width="1.7"/>
<circle cx="13.0" cy="24.1" r="1.13" stroke="none"/>
<line x1="43.5" y1="49.2" x2="44.9" y2="49.4" stroke-width="1.7"/>
<line x1="43.9" y1="61.9" x2="45.1" y2="62.5" stroke-width="1.7"/>
<circle cx="47.9" cy="63.0" r="1.19" stroke="none"/>
<circle cx="3.2" cy="36.2" r="0.88" stroke="none"/>
<circle cx="5.2" cy="32.6" r="0.91" stroke="none"/>
<circle cx="6.7" cy="32.4" r="0.83" stroke="none"/>
<circle cx="5.1" cy="43.4" r="1.15" stroke="none"/>
<circle cx="8.8" cy="45.2" r="1.10" stroke="none"/>
<circle cx="37.5" cy="62.3" r="0.85" stroke="none"/>
<line x1="40.8" y1="64.7" x2="42.2" y2="64.7" stroke-width="1.7"/>
<line x1="46.3" y1="2.0" x2="46.4" y2="0.6" stroke-width="1.7"/>
<circle cx="45.6" cy="-3.5" r="0.85" stroke="none"/>
<circle cx="43.6" cy="13.9" r="0.86" stroke="none"/>
<line x1="45.4" y1="10.2" x2="46.5" y2="9.3" stroke-width="1.7"/>
<circle cx="22.3" cy="7.3" r="0.95" stroke="none"/>
<circle cx="28.7" cy="9.5" r="0.98" stroke="none"/>
<line x1="16.5" y1="14.9" x2="17.4" y2="13.9" stroke-width="1.7"/>
<circle cx="19.2" cy="11.8" r="0.85" stroke="none"/>
<line x1="34.7" y1="47.6" x2="36.1" y2="47.7" stroke-width="1.7"/>
<circle cx="38.6" cy="46.4" r="1.00" stroke="none"/>
<line x1="68.1" y1="19.0" x2="68.9" y2="20.2" stroke-width="1.7"/>
<line x1="69.8" y1="22.8" x2="70.7" y2="23.9" stroke-width="1.7"/>
<circle cx="41.9" cy="29.1" r="1.02" stroke="none"/>
<circle cx="47.5" cy="25.3" r="1.06" stroke="none"/>
<circle cx="43.1" cy="11.1" r="1.17" stroke="none"/>
<circle cx="18.9" cy="33.3" r="0.87" stroke="none"/>
<line x1="16.1" y1="48.8" x2="17.1" y2="47.8" stroke-width="1.7"/>
<circle cx="19.7" cy="46.7" r="0.96" stroke="none"/>
<circle cx="54.2" cy="17.9" r="0.86" stroke="none"/>
<line x1="54.4" y1="23.2" x2="53.8" y2="24.5" stroke-width="1.7"/>
<circle cx="30.2" cy="35.1" r="0.82" stroke="none"/>
<line x1="33.5" y1="37.7" x2="34.4" y2="38.8" stroke-width="1.7"/>
<circle cx="16.6" cy="36.0" r="0.91" stroke="none"/>
<circle cx="21.7" cy="37.5" r="0.86" stroke="none"/>
<line x1="49.9" y1="3.3" x2="49.7" y2="4.7" stroke-width="1.7"/>
<circle cx="48.6" cy="7.2" r="0.96" stroke="none"/>
<circle cx="53.2" cy="2.6" r="1.15" stroke="none"/>
<circle cx="17.0" cy="7.6" r="1.16" stroke="none"/>
<circle cx="22.1" cy="9.3" r="0.80" stroke="none"/>
<circle cx="46.5" cy="3.2" r="1.06" stroke="none"/>
<circle cx="47.4" cy="-0.7" r="0.85" stroke="none"/>
<circle cx="64.2" cy="11.8" r="1.08" stroke="none"/>
<circle cx="64.1" cy="16.0" r="1.04" stroke="none"/>
<circle cx="18.2" cy="49.1" r="0.92" stroke="none"/>
<circle cx="21.6" cy="51.0" r="1.07" stroke="none"/>
<circle cx="44.8" cy="30.0" r="0.92" stroke="none"/>
<line x1="49.2" y1="25.2" x2="49.8" y2="23.9" stroke-width="1.7"/>
<circle cx="27.1" cy="19.2" r="1.16" stroke="none"/>
<circle cx="26.6" cy="26.1" r="1.06" stroke="none"/>
<circle cx="7.9" cy="31.1" r="0.88" stroke="none"/>
<circle cx="10.6" cy="34.2" r="1.20" stroke="none"/>
<circle cx="34.8" cy="39.5" r="1.06" stroke="none"/>
<line x1="37.5" y1="36.3" x2="37.7" y2="34.9" stroke-width="1.7"/>
<circle cx="3.0" cy="48.3" r="0.98" stroke="none"/>
<circle cx="3.1" cy="53.8" r="0.86" stroke="none"/>
<circle cx="14.5" cy="9.0" r="1.18" stroke="none"/>
<circle cx="18.3" cy="7.4" r="1.06" stroke="none"/>
<circle cx="3.1" cy="46.0" r="0.92" stroke="none"/>
<line x1="29.5" y1="1.6" x2="28.1" y2="1.8" stroke-width="1.7"/>
<circle cx="51.3" cy="5.3" r="1.08" stroke="none"/>
<circle cx="55.4" cy="5.7" r="0.85" stroke="none"/>
<line x1="61.5" y1="21.0" x2="62.6" y2="20.2" stroke-width="1.7"/>
<circle cx="66.6" cy="19.1" r="1.03" stroke="none"/>
<line x1="6.4" y1="34.5" x2="7.3" y2="33.5" stroke-width="1.7"/>
<circle cx="9.6" cy="29.9" r="0.90" stroke="none"/>
<circle cx="42.3" cy="43.3" r="0.92" stroke="none"/>
<circle cx="46.5" cy="39.8" r="0.96" stroke="none"/>
<line x1="59.3" y1="9.9" x2="59.7" y2="11.2" stroke-width="1.7"/>
<line x1="61.7" y1="13.2" x2="62.9" y2="13.9" stroke-width="1.7"/>
<circle cx="65.3" cy="15.3" r="1.16" stroke="none"/>
<circle cx="51.6" cy="47.8" r="0.83" stroke="none"/>
<circle cx="9.3" cy="54.3" r="1.02" stroke="none"/>
<circle cx="11.5" cy="50.9" r="0.93" stroke="none"/>
<circle cx="8.4" cy="49.5" r="0.84" stroke="none"/>
<line x1="4.5" y1="50.7" x2="3.4" y2="51.6" stroke-width="1.7"/>
<circle cx="2.1" cy="54.0" r="1.19" stroke="none"/>
<line x1="53.5" y1="1.4" x2="54.1" y2="0.1" stroke-width="1.7"/>
<circle cx="57.0" cy="-2.9" r="1.19" stroke="none"/>
<line x1="54.4" y1="33.8" x2="54.4" y2="32.5" stroke-width="1.7"/>
<circle cx="55.5" cy="29.9" r="1.05" stroke="none"/>
<circle cx="55.4" cy="25.7" r="1.12" stroke="none"/>
<circle cx="45.7" cy="37.9" r="1.14" stroke="none"/>
<circle cx="9.0" cy="35.5" r="1.17" stroke="none"/>
<line x1="58.3" y1="7.7" x2="59.2" y2="8.8" stroke-width="1.7"/>
<circle cx="62.5" cy="11.3" r="0.96" stroke="none"/>
<circle cx="10.1" cy="18.8" r="0.98" stroke="none"/>
<circle cx="14.1" cy="17.8" r="0.89" stroke="none"/>
<circle cx="18.2" cy="18.9" r="0.84" stroke="none"/>
<circle cx="5.4" cy="53.1" r="1.14" stroke="none"/>
<circle cx="4.2" cy="49.3" r="0.99" stroke="none"/>
<circle cx="50.9" cy="1.2" r="1.08" stroke="none"/>
<line x1="51.2" y1="-2.9" x2="50.8" y2="-4.2" stroke-width="1.7"/>
<circle cx="42.5" cy="61.5" r="0.99" stroke="none"/>
<circle cx="50.9" cy="22.0" r="0.82" stroke="none"/>
<line x1="55.1" y1="18.4" x2="56.4" y2="17.9" stroke-width="1.7"/>
<circle cx="9.4" cy="27.7" r="1.19" stroke="none"/>
<circle cx="5.6" cy="26.0" r="0.88" stroke="none"/>
<circle cx="45.4" cy="49.0" r="0.86" stroke="none"/>
<circle cx="52.3" cy="49.0" r="0.97" stroke="none"/>
<circle cx="27.7" cy="23.0" r="1.01" stroke="none"/>
<circle cx="33.1" cy="24.1" r="1.05" stroke="none"/>
<circle cx="49.6" cy="48.0" r="1.06" stroke="none"/>
<circle cx="5.3" cy="24.4" r="0.82" stroke="none"/>
<circle cx="8.0" cy="21.2" r="0.85" stroke="none"/>
<circle cx="5.4" cy="24.8" r="1.14" stroke="none"/>
<circle cx="9.0" cy="22.9" r="0.96" stroke="none"/>
<circle cx="31.1" cy="61.1" r="1.15" stroke="none"/>
<line x1="34.8" y1="34.2" x2="35.9" y2="35.1" stroke-width="1.7"/>
<circle cx="38.4" cy="36.1" r="1.10" stroke="none"/>
<circle cx="28.0" cy="2.4" r="0.89" stroke="none"/>
<circle cx="25.2" cy="5.5" r="1.04" stroke="none"/>
<circle cx="38.7" cy="15.1" r="1.01" stroke="none"/>
<line x1="40.8" y1="11.6" x2="41.5" y2="10.4" stroke-width="1.7"/>
<line x1="9.4" y1="58.8" x2="9.5" y2="57.4" stroke-width="1.7"/>
<line x1="11.2" y1="55.3" x2="12.2" y2="54.3" stroke-width="1.7"/>
<circle cx="47.9" cy="46.6" r="0.99" stroke="none"/>
<circle cx="45.9" cy="41.6" r="0.81" stroke="none"/>
<circle cx="28.6" cy="70.2" r="0.89" stroke="none"/>
<circle cx="4.0" cy="41.8" r="0.73" stroke="none"/>
<circle cx="8.7" cy="43.8" r="0.84" stroke="none"/>
<circle cx="18.2" cy="65.3" r="0.91" stroke="none"/>
<circle cx="30.5" cy="71.4" r="0.98" stroke="none"/>
<circle cx="26.4" cy="58.8" r="0.96" stroke="none"/>
<circle cx="10.0" cy="60.2" r="0.93" stroke="none"/>
<circle cx="7.7" cy="51.5" r="0.95" stroke="none"/>
<circle cx="0.2" cy="52.4" r="0.99" stroke="none"/>
<circle cx="17.1" cy="46.0" r="0.95" stroke="none"/>
<circle cx="12.4" cy="60.0" r="0.74" stroke="none"/>
<circle cx="25.6" cy="74.0" r="0.89" stroke="none"/>
<circle cx="1.6" cy="50.3" r="0.84" stroke="none"/>
<circle cx="11.1" cy="46.5" r="0.72" stroke="none"/>
<circle cx="12.1" cy="74.9" r="0.79" stroke="none"/>
<circle cx="13.1" cy="60.5" r="0.84" stroke="none"/>
<circle cx="20.3" cy="69.9" r="0.87" stroke="none"/>
<circle cx="18.1" cy="58.8" r="0.88" stroke="none"/>
<circle cx="16.2" cy="45.2" r="0.74" stroke="none"/>
<circle cx="17.6" cy="71.9" r="0.79" stroke="none"/>
<circle cx="14.6" cy="55.6" r="0.88" stroke="none"/>
<circle cx="7.0" cy="46.3" r="0.92" stroke="none"/>
<circle cx="30.2" cy="73.4" r="0.72" stroke="none"/>
<circle cx="11.4" cy="58.7" r="0.71" stroke="none"/>
<circle cx="13.3" cy="60.9" r="0.85" stroke="none"/>
<circle cx="24.8" cy="70.0" r="0.75" stroke="none"/>
<circle cx="31.4" cy="75.6" r="0.98" stroke="none"/>
<circle cx="15.6" cy="70.6" r="1.00" stroke="none"/>
<circle cx="16.5" cy="75.0" r="0.82" stroke="none"/>
<circle cx="10.2" cy="56.5" r="0.83" stroke="none"/>
<circle cx="9.7" cy="49.5" r="0.87" stroke="none"/>
<circle cx="20.1" cy="73.2" r="0.93" stroke="none"/>
<circle cx="29.6" cy="74.3" r="0.95" stroke="none"/>
<circle cx="29.2" cy="63.2" r="0.97" stroke="none"/>
<circle cx="14.7" cy="76.5" r="0.85" stroke="none"/>
<circle cx="25.4" cy="70.4" r="0.94" stroke="none"/>
<circle cx="0.4" cy="54.5" r="0.77" stroke="none"/>
<circle cx="11.3" cy="63.1" r="0.76" stroke="none"/>
<circle cx="23.7" cy="61.6" r="0.92" stroke="none"/>
<circle cx="19.5" cy="71.4" r="0.89" stroke="none"/>
<circle cx="7.5" cy="47.5" r="0.86" stroke="none"/>
<circle cx="13.9" cy="48.0" r="0.86" stroke="none"/>
<circle cx="22.4" cy="55.7" r="0.90" stroke="none"/>
<circle cx="18.8" cy="55.5" r="0.89" stroke="none"/>
<circle cx="5.4" cy="46.3" r="0.87" stroke="none"/>
<circle cx="6.5" cy="43.6" r="0.97" stroke="none"/>
<circle cx="3.2" cy="40.7" r="0.91" stroke="none"/>
<circle cx="10.3" cy="48.3" r="0.85" stroke="none"/>
<circle cx="21.5" cy="65.5" r="0.99" stroke="none"/>
<circle cx="20.2" cy="59.1" r="0.80" stroke="none"/>
<circle cx="24.7" cy="56.2" r="0.90" stroke="none"/>
<circle cx="28.4" cy="61.5" r="0.77" stroke="none"/>
<circle cx="24.6" cy="56.6" r="0.72" stroke="none"/>
<circle cx="19.7" cy="50.9" r="0.92" stroke="none"/>
<circle cx="22.7" cy="78.5" r="0.80" stroke="none"/>
</g>
<path d="M-1 50.2 Q4 51 6.5 57 Q9.5 64 9.7 72 L9.9 80 L-1 80Z" fill="#c8283a"/>
<rect x="67.1" y="75.1" width="21.4" height="1.4" fill="#c4c4c4"/>
</svg>
<text x="0" y="2.86" font-size="7.95" text-anchor="middle" fill="#1a1a1a" transform="translate(203.10 369.70) rotate(-90)" stroke="#1a1a1a" stroke-width="0.24"><tspan fill="#c8203a" stroke="#c8203a">TMRM</tspan><tspan fill="#222" stroke="#222"> + </tspan><tspan fill="#19a79b" stroke="#19a79b">pG/Hoechst</tspan></text>
<text x="0" y="2.86" font-size="7.95" text-anchor="middle" fill="#1a1a1a" transform="translate(202.80 453.60) rotate(-90)" stroke="#1a1a1a" stroke-width="0.24"><tspan fill="#c8304a" stroke="#c8304a">nuclear</tspan><tspan fill="#222" stroke="#222"> + </tspan><tspan fill="#2fa84f" stroke="#2fa84f">nucleoid</tspan></text>
<defs><linearGradient id="wb2g" x1="0" x2="1" y1="0" y2="0"><stop offset="0" stop-color="#a0a0a0"/><stop offset="0.14" stop-color="#c2c2c2"/><stop offset="0.8" stop-color="#cbcbcb"/><stop offset="1" stop-color="#d8d8d8"/></linearGradient><linearGradient id="wb1g" x1="0" x2="1" y1="0" y2="0"><stop offset="0" stop-color="#dcdcdc"/><stop offset="0.15" stop-color="#ececec"/><stop offset="1" stop-color="#f0f0f0"/></linearGradient></defs>
<text x="367.30" y="341.27" font-size="7.7" text-anchor="start" fill="#1a1a1a" stroke="#1a1a1a" stroke-width="0.24">T47D</text>
<text x="388.20" y="341.27" font-size="7.7" text-anchor="start" fill="#1a1a1a" stroke="#1a1a1a" stroke-width="0.24">Hs578t</text>
<text x="422.50" y="341.77" font-size="7.7" text-anchor="start" fill="#1a1a1a" stroke="#1a1a1a" stroke-width="0.24">T47D</text>
<text x="441.60" y="341.77" font-size="7.7" text-anchor="start" fill="#1a1a1a" textLength="25" stroke="#1a1a1a" stroke-width="0.24">Hs578t</text>
<text x="351.90" y="348.12" font-size="7.0" text-anchor="start" fill="#1a1a1a" stroke="#1a1a1a" stroke-width="0.24">mw</text>
<text x="349.00" y="357.46" font-size="7.4" text-anchor="start" fill="#1a1a1a" stroke="#1a1a1a" stroke-width="0.24">(kD)</text>
<text x="363.80" y="350.49" font-size="6.35" text-anchor="start" fill="#c8203a" stroke="none">MB1_UF</text>
<text x="391.90" y="350.49" font-size="6.35" text-anchor="start" fill="#2b3fa8" stroke="none">MB1_LF</text>
<text x="420.50" y="349.83" font-size="6.2" text-anchor="start" fill="#c8203a" stroke="none">MB1_UF</text>
<text x="447.30" y="349.83" font-size="6.2" text-anchor="start" fill="#2b3fa8" stroke="none">MB1_LF</text>
<rect x="364.50" y="351.50" width="47.00" height="60.00" fill="url(#wb1g)" stroke="#9c9c9c" stroke-width="0.6"/>
<rect x="368.80" y="357.00" width="19.70" height="5.00" rx="1.60" fill="#030303" opacity="1.0" filter="url(#b06)"/>
<rect x="386.00" y="357.70" width="18.00" height="4.00" rx="1.60" fill="#060606" opacity="1.0" filter="url(#b06)"/>
<rect x="369.40" y="366.00" width="16.80" height="2.00" rx="1.00" fill="#4e4e4e" opacity="1.0" filter="url(#b06)"/>
<rect x="389.00" y="366.25" width="13.30" height="1.70" rx="0.85" fill="#858585" opacity="1.0" filter="url(#b06)"/>
<rect x="369.60" y="378.80" width="15.40" height="3.80" rx="1.60" fill="#a4a4a4" opacity="0.9" filter="url(#b1)"/>
<rect x="389.00" y="380.10" width="12.00" height="3.40" rx="1.60" fill="#bdbdbd" opacity="0.9" filter="url(#b1)"/>
<rect x="390.00" y="387.50" width="9.00" height="2.20" rx="1.10" fill="#dcdcdc" opacity="0.9" filter="url(#b06)"/>
<rect x="371.20" y="403.20" width="13.20" height="1.60" rx="0.80" fill="#909090" opacity="1.0" filter="url(#b06)"/>
<rect x="389.00" y="403.00" width="10.40" height="1.60" rx="0.80" fill="#828282" opacity="1.0" filter="url(#b06)"/>
<text x="361.90" y="365.77" font-size="7.7" text-anchor="end" fill="#1a1a1a" stroke="#1a1a1a" stroke-width="0.24">50</text>
<line x1="362.80" y1="363.00" x2="364.50" y2="363.00" stroke="#555" stroke-width="0.7"/>
<text x="361.90" y="379.57" font-size="7.7" text-anchor="end" fill="#1a1a1a" stroke="#1a1a1a" stroke-width="0.24">37</text>
<line x1="362.80" y1="376.80" x2="364.50" y2="376.80" stroke="#555" stroke-width="0.7"/>
<text x="361.90" y="392.57" font-size="7.7" text-anchor="end" fill="#1a1a1a" stroke="#1a1a1a" stroke-width="0.24">25</text>
<line x1="362.80" y1="389.80" x2="364.50" y2="389.80" stroke="#555" stroke-width="0.7"/>
<text x="361.90" y="405.57" font-size="7.7" text-anchor="end" fill="#1a1a1a" stroke="#1a1a1a" stroke-width="0.24">20</text>
<line x1="362.80" y1="402.80" x2="364.50" y2="402.80" stroke="#555" stroke-width="0.7"/>
<rect x="420.20" y="351.50" width="45.90" height="60.30" fill="url(#wb2g)" stroke="#7f7f7f" stroke-width="0.6"/>
<rect x="423.70" y="356.00" width="37.70" height="6.60" rx="1.60" fill="#020202" opacity="1.0" filter="url(#b1)"/>
<rect x="424.50" y="357.00" width="36.50" height="4.60" rx="1.60" fill="#020202" opacity="1.0" filter="url(#b06)"/>
<rect x="426.50" y="365.40" width="16.20" height="2.60" rx="1.30" fill="#0c0c0c" opacity="1.0" filter="url(#b06)"/>
<rect x="445.60" y="365.70" width="13.80" height="2.20" rx="1.10" fill="#222" opacity="1.0" filter="url(#b06)"/>
<rect x="427.10" y="378.70" width="14.40" height="3.60" rx="1.60" fill="#151515" opacity="1.0" filter="url(#b06)"/>
<rect x="445.60" y="379.70" width="13.80" height="3.80" rx="1.60" fill="#7a7a7a" opacity="1.0" filter="url(#b1)"/>
<rect x="446.00" y="387.60" width="11.00" height="2.00" rx="1.00" fill="#b0b0b0" opacity="0.9" filter="url(#b06)"/>
<rect x="427.70" y="402.60" width="13.30" height="2.00" rx="1.00" fill="#303030" opacity="1.0" filter="url(#b06)"/>
<rect x="445.60" y="402.30" width="11.50" height="2.20" rx="1.10" fill="#1c1c1c" opacity="1.0" filter="url(#b06)"/>
<line x1="466.10" y1="358.90" x2="467.70" y2="358.90" stroke="#555" stroke-width="0.7"/>
<text x="469.80" y="362.14" font-size="7.6" text-anchor="start" fill="#1a1a1a" stroke="#1a1a1a" stroke-width="0.24">CV: ATP5A</text>
<line x1="466.10" y1="367.30" x2="467.70" y2="367.30" stroke="#555" stroke-width="0.7"/>
<text x="469.80" y="371.24" font-size="7.6" text-anchor="start" fill="#1a1a1a" stroke="#1a1a1a" stroke-width="0.24">CIII: UQCRC2</text>
<line x1="466.10" y1="380.90" x2="467.70" y2="380.90" stroke="#555" stroke-width="0.7"/>
<text x="469.80" y="383.94" font-size="7.6" text-anchor="start" fill="#1a1a1a" stroke="#1a1a1a" stroke-width="0.24">CIV: MTCOI</text>
<line x1="466.10" y1="388.80" x2="467.70" y2="388.80" stroke="#555" stroke-width="0.7"/>
<text x="469.80" y="392.34" font-size="7.6" text-anchor="start" fill="#1a1a1a" stroke="#1a1a1a" stroke-width="0.24">CII: SDHB</text>
<line x1="466.10" y1="402.90" x2="467.70" y2="402.90" stroke="#555" stroke-width="0.7"/>
<text x="469.80" y="406.14" font-size="7.6" text-anchor="start" fill="#1a1a1a" stroke="#1a1a1a" stroke-width="0.24">CI: NDUFB8</text>
<rect x="364.50" y="418.00" width="46.60" height="50.60" fill="#f6f6f6" stroke="#a0a0a0" stroke-width="0.6"/>
<line x1="365.00" y1="458.20" x2="411.00" y2="458.20" stroke="#d0d0d0" stroke-width="0.8"/>
<rect x="370.40" y="426.25" width="13.90" height="2.30" rx="1.15" fill="#6a6a6a" opacity="1.0" filter="url(#b06)"/>
<rect x="389.00" y="426.50" width="14.20" height="2.20" rx="1.10" fill="#777" opacity="1.0" filter="url(#b06)"/>
<rect x="369.30" y="442.00" width="17.30" height="3.40" rx="1.60" fill="#080808" opacity="1.0" filter="url(#b06)"/>
<rect x="387.00" y="442.00" width="16.80" height="3.40" rx="1.60" fill="#080808" opacity="1.0" filter="url(#b06)"/>
<rect x="368.30" y="456.50" width="18.30" height="3.20" rx="1.60" fill="#0a0a0a" opacity="1.0" filter="url(#b06)"/>
<rect x="386.60" y="455.30" width="19.90" height="5.60" rx="1.60" fill="#030303" opacity="1.0" filter="url(#b06)"/>
<text x="361.20" y="427.87" font-size="7.7" text-anchor="end" fill="#1a1a1a" stroke="#1a1a1a" stroke-width="0.24">75</text>
<line x1="362.30" y1="425.70" x2="364.50" y2="425.70" stroke="#555" stroke-width="0.7"/>
<text x="361.20" y="446.07" font-size="7.7" text-anchor="end" fill="#1a1a1a" stroke="#1a1a1a" stroke-width="0.24">50</text>
<line x1="362.30" y1="443.90" x2="364.50" y2="443.90" stroke="#555" stroke-width="0.7"/>
<text x="361.20" y="459.87" font-size="7.7" text-anchor="end" fill="#1a1a1a" stroke="#1a1a1a" stroke-width="0.24">37</text>
<line x1="362.30" y1="457.70" x2="364.50" y2="457.70" stroke="#555" stroke-width="0.7"/>
<line x1="411.10" y1="427.90" x2="413.20" y2="427.90" stroke="#555" stroke-width="0.7"/>
<text x="415.40" y="430.60" font-size="7.5" text-anchor="start" fill="#1a1a1a" stroke="#1a1a1a" stroke-width="0.24">grp75</text>
<line x1="411.10" y1="443.70" x2="413.20" y2="443.70" stroke="#555" stroke-width="0.7"/>
<text x="415.40" y="446.40" font-size="7.5" text-anchor="start" fill="#1a1a1a" stroke="#1a1a1a" stroke-width="0.24">β-tubulin</text>
<line x1="411.10" y1="458.10" x2="413.20" y2="458.10" stroke="#555" stroke-width="0.7"/>
<text x="415.40" y="460.80" font-size="7.5" text-anchor="start" fill="#1a1a1a" stroke="#1a1a1a" stroke-width="0.24">GAPDH</text>
<text x="335.00" y="383.03" font-size="6.2" text-anchor="middle" fill="#333" font-style="italic" stroke="#333" stroke-width="0.08">WB:</text>
<text x="335.00" y="390.53" font-size="6.2" text-anchor="middle" fill="#333" font-style="italic" stroke="#333" stroke-width="0.08">mitoprofile</text>
<text x="335.20" y="434.73" font-size="6.2" text-anchor="middle" fill="#333" font-style="italic" stroke="#333" stroke-width="0.08">WB:</text>
<text x="335.20" y="442.93" font-size="6.2" text-anchor="middle" fill="#333" font-style="italic" stroke="#333" stroke-width="0.08">α-grp75</text>
<text x="335.20" y="450.63" font-size="6.2" text-anchor="middle" fill="#333" font-style="italic" stroke="#333" stroke-width="0.08">α-β-tubulin</text>
<text x="335.20" y="458.33" font-size="6.2" text-anchor="middle" fill="#333" font-style="italic" stroke="#333" stroke-width="0.08">α-GAPDH</text>
<text x="389.40" y="480.44" font-size="7.6" text-anchor="middle" fill="#1a1a1a" font-style="italic" stroke="#1a1a1a" stroke-width="0.24">short exposure</text>
<text x="448.70" y="480.44" font-size="7.6" text-anchor="middle" fill="#1a1a1a" font-style="italic" stroke="#1a1a1a" stroke-width="0.24">long exposure</text>
<line x1="69.20" y1="533.50" x2="69.20" y2="523.40" stroke="#000" stroke-width="0.95"/>
<line x1="66.10" y1="523.40" x2="72.30" y2="523.40" stroke="#000" stroke-width="0.95"/>
<rect x="59.50" y="533.50" width="19.40" height="73.30" fill="#d0213a" stroke="#000" stroke-width="1.0"/>
<line x1="97.30" y1="555.50" x2="97.30" y2="547.60" stroke="#000" stroke-width="0.95"/>
<line x1="94.20" y1="547.60" x2="100.40" y2="547.60" stroke="#000" stroke-width="0.95"/>
<rect x="87.70" y="555.50" width="19.20" height="51.30" fill="#2f4fa3" stroke="#000" stroke-width="1.0"/>
<line x1="50.30" y1="504.20" x2="50.30" y2="607.35" stroke="#000" stroke-width="1.1"/>
<line x1="47.30" y1="504.30" x2="50.30" y2="504.30" stroke="#000" stroke-width="0.95"/>
<text x="46.10" y="506.75" font-size="6.8" text-anchor="end" fill="#1a1a1a" stroke="#1a1a1a" stroke-width="0.24">3 × 10<tspan font-size="3.8" dy="-2.1">4</tspan></text>
<line x1="47.30" y1="538.50" x2="50.30" y2="538.50" stroke="#000" stroke-width="0.95"/>
<text x="46.10" y="540.95" font-size="6.8" text-anchor="end" fill="#1a1a1a" stroke="#1a1a1a" stroke-width="0.24">2 × 10<tspan font-size="3.8" dy="-2.1">4</tspan></text>
<line x1="47.30" y1="572.70" x2="50.30" y2="572.70" stroke="#000" stroke-width="0.95"/>
<text x="46.10" y="575.15" font-size="6.8" text-anchor="end" fill="#1a1a1a" stroke="#1a1a1a" stroke-width="0.24">1 × 10<tspan font-size="3.8" dy="-2.1">4</tspan></text>
<line x1="47.30" y1="606.80" x2="50.30" y2="606.80" stroke="#000" stroke-width="0.95"/>
<text x="46.10" y="609.25" font-size="6.8" text-anchor="end" fill="#1a1a1a" stroke="#1a1a1a" stroke-width="0.24">0</text>
<line x1="49.75" y1="606.80" x2="116.80" y2="606.80" stroke="#000" stroke-width="1.1"/>
<path d="M69.20 515.90V513.20H98.50V515.90" fill="none" stroke="#111" stroke-width="1.05" stroke-linejoin="round"/>
<text x="83.85" y="512.71" font-size="5.6" text-anchor="middle" fill="#000" font-weight="bold" stroke="none">**</text>
<text x="0" y="2.30" font-size="6.4" text-anchor="middle" fill="#2e2e2e" transform="translate(2.90 555.50) rotate(-90)" stroke="#2e2e2e" stroke-width="0.12">picoGreen integrated</text>
<text x="0" y="2.30" font-size="6.4" text-anchor="middle" fill="#2e2e2e" transform="translate(11.30 555.30) rotate(-90)" stroke="#2e2e2e" stroke-width="0.12">intensity/cell</text>
<text x="0" y="2.32" font-size="6.45" text-anchor="middle" fill="#2e2e2e" transform="translate(19.00 555.50) rotate(-90)" stroke="#2e2e2e" stroke-width="0.12">(AU, normalized to nucleus)</text>
<line x1="164.20" y1="518.10" x2="164.20" y2="513.50" stroke="#000" stroke-width="0.95"/>
<line x1="161.10" y1="513.50" x2="167.30" y2="513.50" stroke="#000" stroke-width="0.95"/>
<rect x="154.50" y="518.10" width="19.40" height="88.70" fill="#d0213a" stroke="#000" stroke-width="1.0"/>
<line x1="193.10" y1="518.10" x2="193.10" y2="512.80" stroke="#000" stroke-width="0.95"/>
<line x1="190.00" y1="512.80" x2="196.20" y2="512.80" stroke="#000" stroke-width="0.95"/>
<rect x="183.40" y="518.10" width="19.40" height="88.70" fill="#2f4fa3" stroke="#000" stroke-width="1.0"/>
<line x1="144.60" y1="504.60" x2="144.60" y2="607.35" stroke="#000" stroke-width="1.1"/>
<line x1="141.60" y1="504.70" x2="144.60" y2="504.70" stroke="#000" stroke-width="0.95"/>
<text x="140.40" y="507.15" font-size="6.8" text-anchor="end" fill="#1a1a1a" stroke="#1a1a1a" stroke-width="0.24">30</text>
<line x1="141.60" y1="538.60" x2="144.60" y2="538.60" stroke="#000" stroke-width="0.95"/>
<text x="140.40" y="541.05" font-size="6.8" text-anchor="end" fill="#1a1a1a" stroke="#1a1a1a" stroke-width="0.24">20</text>
<line x1="141.60" y1="572.70" x2="144.60" y2="572.70" stroke="#000" stroke-width="0.95"/>
<text x="140.40" y="575.15" font-size="6.8" text-anchor="end" fill="#1a1a1a" stroke="#1a1a1a" stroke-width="0.24">10</text>
<line x1="141.60" y1="606.80" x2="144.60" y2="606.80" stroke="#000" stroke-width="0.95"/>
<text x="140.40" y="609.25" font-size="6.8" text-anchor="end" fill="#1a1a1a" stroke="#1a1a1a" stroke-width="0.24">0</text>
<line x1="144.05" y1="606.80" x2="211.50" y2="606.80" stroke="#000" stroke-width="1.1"/>
<line x1="143.00" y1="521.70" x2="144.60" y2="521.70" stroke="#000" stroke-width="0.7"/>
<line x1="143.00" y1="555.70" x2="144.60" y2="555.70" stroke="#000" stroke-width="0.7"/>
<line x1="143.00" y1="589.70" x2="144.60" y2="589.70" stroke="#000" stroke-width="0.7"/>
<text x="0" y="2.38" font-size="6.6" text-anchor="middle" fill="#2e2e2e" transform="translate(124.80 555.20) rotate(-90)" stroke="#2e2e2e" stroke-width="0.12">number of mitochondria/cell</text>
<line x1="265.30" y1="522.20" x2="265.30" y2="519.20" stroke="#000" stroke-width="0.95"/>
<line x1="262.20" y1="519.20" x2="268.40" y2="519.20" stroke="#000" stroke-width="0.95"/>
<rect x="255.50" y="522.20" width="19.60" height="84.60" fill="#d0213a" stroke="#000" stroke-width="1.0"/>
<line x1="294.35" y1="535.40" x2="294.35" y2="530.80" stroke="#000" stroke-width="0.95"/>
<line x1="291.25" y1="530.80" x2="297.45" y2="530.80" stroke="#000" stroke-width="0.95"/>
<rect x="284.50" y="535.40" width="19.70" height="71.40" fill="#2f4fa3" stroke="#000" stroke-width="1.0"/>
<line x1="245.80" y1="503.80" x2="245.80" y2="607.35" stroke="#000" stroke-width="1.1"/>
<line x1="242.80" y1="512.80" x2="245.80" y2="512.80" stroke="#000" stroke-width="0.95"/>
<text x="241.60" y="515.25" font-size="6.8" text-anchor="end" fill="#1a1a1a" stroke="#1a1a1a" stroke-width="0.24">1.5</text>
<line x1="242.80" y1="544.20" x2="245.80" y2="544.20" stroke="#000" stroke-width="0.95"/>
<text x="241.60" y="546.65" font-size="6.8" text-anchor="end" fill="#1a1a1a" stroke="#1a1a1a" stroke-width="0.24">1.0</text>
<line x1="242.80" y1="575.60" x2="245.80" y2="575.60" stroke="#000" stroke-width="0.95"/>
<text x="241.60" y="578.05" font-size="6.8" text-anchor="end" fill="#1a1a1a" stroke="#1a1a1a" stroke-width="0.24">0.5</text>
<line x1="242.80" y1="606.80" x2="245.80" y2="606.80" stroke="#000" stroke-width="0.95"/>
<text x="241.60" y="609.25" font-size="6.8" text-anchor="end" fill="#1a1a1a" stroke="#1a1a1a" stroke-width="0.24">0.0</text>
<line x1="245.25" y1="606.80" x2="312.70" y2="606.80" stroke="#000" stroke-width="1.1"/>
<path d="M264.90 515.30V512.50H295.40V515.30" fill="none" stroke="#111" stroke-width="1.05" stroke-linejoin="round"/>
<text x="280.15" y="510.91" font-size="5.6" text-anchor="middle" fill="#000" font-weight="bold" stroke="none">***</text>
<line x1="244.20" y1="528.50" x2="245.80" y2="528.50" stroke="#000" stroke-width="0.7"/>
<line x1="244.20" y1="559.90" x2="245.80" y2="559.90" stroke="#000" stroke-width="0.7"/>
<line x1="244.20" y1="591.30" x2="245.80" y2="591.30" stroke="#000" stroke-width="0.7"/>
<text x="0" y="2.40" font-size="6.68" text-anchor="middle" fill="#2e2e2e" transform="translate(219.70 558.60) rotate(-90)" stroke="#2e2e2e" stroke-width="0.12">mitochondrial total area/cell</text>
<text x="0" y="2.40" font-size="6.68" text-anchor="middle" fill="#2e2e2e" transform="translate(226.80 559.60) rotate(-90)" stroke="#2e2e2e" stroke-width="0.12">(normalized to nuclear size</text>
<line x1="375.40" y1="523.80" x2="375.40" y2="521.20" stroke="#000" stroke-width="0.95"/>
<line x1="372.30" y1="521.20" x2="378.50" y2="521.20" stroke="#000" stroke-width="0.95"/>
<rect x="365.60" y="523.80" width="19.60" height="83.00" fill="#d0213a" stroke="#000" stroke-width="1.0"/>
<line x1="404.15" y1="538.80" x2="404.15" y2="536.50" stroke="#000" stroke-width="0.95"/>
<line x1="401.05" y1="536.50" x2="407.25" y2="536.50" stroke="#000" stroke-width="0.95"/>
<rect x="394.30" y="538.80" width="19.70" height="68.00" fill="#2f4fa3" stroke="#000" stroke-width="1.0"/>
<line x1="355.10" y1="503.20" x2="355.10" y2="607.35" stroke="#000" stroke-width="1.1"/>
<line x1="352.10" y1="518.20" x2="355.10" y2="518.20" stroke="#000" stroke-width="0.95"/>
<text x="350.90" y="520.45" font-size="6.25" text-anchor="end" fill="#1a1a1a" stroke="#1a1a1a" stroke-width="0.24">0.06</text>
<line x1="352.10" y1="547.70" x2="355.10" y2="547.70" stroke="#000" stroke-width="0.95"/>
<text x="350.90" y="549.95" font-size="6.25" text-anchor="end" fill="#1a1a1a" stroke="#1a1a1a" stroke-width="0.24">0.04</text>
<line x1="352.10" y1="577.30" x2="355.10" y2="577.30" stroke="#000" stroke-width="0.95"/>
<text x="350.90" y="579.55" font-size="6.25" text-anchor="end" fill="#1a1a1a" stroke="#1a1a1a" stroke-width="0.24">0.02</text>
<line x1="352.10" y1="606.80" x2="355.10" y2="606.80" stroke="#000" stroke-width="0.95"/>
<text x="350.90" y="609.05" font-size="6.25" text-anchor="end" fill="#1a1a1a" stroke="#1a1a1a" stroke-width="0.24">0.00</text>
<line x1="354.55" y1="606.80" x2="422.80" y2="606.80" stroke="#000" stroke-width="1.1"/>
<path d="M375.40 515.10V512.30H405.80V515.10" fill="none" stroke="#111" stroke-width="1.05" stroke-linejoin="round"/>
<text x="390.60" y="510.81" font-size="5.6" text-anchor="middle" fill="#000" font-weight="bold" stroke="none">***</text>
<line x1="353.50" y1="532.90" x2="355.10" y2="532.90" stroke="#000" stroke-width="0.7"/>
<line x1="353.50" y1="562.50" x2="355.10" y2="562.50" stroke="#000" stroke-width="0.7"/>
<line x1="353.50" y1="592.10" x2="355.10" y2="592.10" stroke="#000" stroke-width="0.7"/>
<text x="0" y="2.38" font-size="6.62" text-anchor="middle" fill="#2e2e2e" transform="translate(323.90 556.00) rotate(-90)" stroke="#2e2e2e" stroke-width="0.12">individual mitochondrial size</text>
<text x="0" y="2.38" font-size="6.62" text-anchor="middle" fill="#2e2e2e" transform="translate(331.40 556.00) rotate(-90)" stroke="#2e2e2e" stroke-width="0.12">(normalized to nuclear size)</text>
<rect x="430.90" y="508.30" width="11.20" height="3.60" fill="#d0213a" stroke="#000" stroke-width="0.8"/>
<text x="445.00" y="512.49" font-size="6.65" text-anchor="start" fill="#1a1a1a" stroke="#1a1a1a" stroke-width="0.24">MB1_UF</text>
<rect x="430.90" y="516.80" width="11.20" height="3.60" fill="#2f4fa3" stroke="#000" stroke-width="0.8"/>
<text x="445.00" y="520.99" font-size="6.65" text-anchor="start" fill="#1a1a1a" stroke="#1a1a1a" stroke-width="0.24">MB1_LF</text>
</svg></body></html>
